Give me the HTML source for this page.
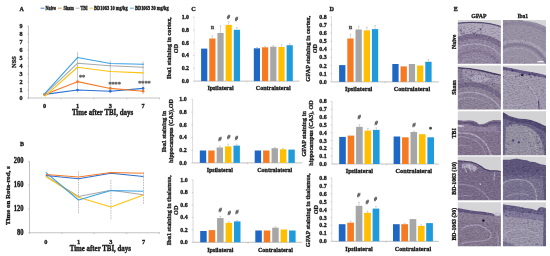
<!DOCTYPE html>
<html><head><meta charset="utf-8"><style>
html,body{margin:0;padding:0;background:#fff;width:550px;height:256px;overflow:hidden}
svg{display:block;filter:blur(0.3px)}
text{font-family:"Liberation Serif", serif;}
</style></head><body>
<svg width="550" height="256" viewBox="0 0 550 256">
<rect width="550" height="256" fill="#fff"/>
<text x="19.50" y="10.80" font-size="6" text-anchor="start" font-weight="bold" fill="#1a1a1a" stroke="#1a1a1a" stroke-width="0.32" transform="translate(0 -1.296) scale(1 1.12)">A</text>
<line x1="40.60" y1="8.20" x2="44.50" y2="8.20" stroke="#2a6fd0" stroke-width="0.9"/>
<text x="45.50" y="10.10" font-size="4.7" text-anchor="start" font-weight="bold" fill="#1a1a1a" stroke="#1a1a1a" stroke-width="0.32" transform="translate(0 -1.212) scale(1 1.12)" textLength="10.3" lengthAdjust="spacingAndGlyphs">Naive</text>
<line x1="57.80" y1="8.20" x2="61.70" y2="8.20" stroke="#f47a2a" stroke-width="0.9"/>
<text x="63.40" y="10.10" font-size="4.7" text-anchor="start" font-weight="bold" fill="#1a1a1a" stroke="#1a1a1a" stroke-width="0.32" transform="translate(0 -1.212) scale(1 1.12)" textLength="10.4" lengthAdjust="spacingAndGlyphs">Sham</text>
<line x1="75.60" y1="8.20" x2="79.50" y2="8.20" stroke="#a8a8a8" stroke-width="0.9"/>
<text x="80.40" y="10.10" font-size="4.7" text-anchor="start" font-weight="bold" fill="#1a1a1a" stroke="#1a1a1a" stroke-width="0.32" transform="translate(0 -1.212) scale(1 1.12)" textLength="7.1" lengthAdjust="spacingAndGlyphs">TBI</text>
<line x1="89.40" y1="8.20" x2="93.30" y2="8.20" stroke="#ffc20e" stroke-width="0.9"/>
<text x="94.10" y="10.10" font-size="4.7" text-anchor="start" font-weight="bold" fill="#1a1a1a" stroke="#1a1a1a" stroke-width="0.32" transform="translate(0 -1.212) scale(1 1.12)" textLength="33.6" lengthAdjust="spacingAndGlyphs">BD1063 10 mg/kg</text>
<line x1="130.00" y1="8.20" x2="133.90" y2="8.20" stroke="#3aa0e2" stroke-width="0.9"/>
<text x="134.90" y="10.10" font-size="4.7" text-anchor="start" font-weight="bold" fill="#1a1a1a" stroke="#1a1a1a" stroke-width="0.32" transform="translate(0 -1.212) scale(1 1.12)" textLength="33.9" lengthAdjust="spacingAndGlyphs">BD1063 30 mg/kg</text>
<line x1="28.50" y1="26.00" x2="28.50" y2="98.00" stroke="#9a9a9a" stroke-width="0.6"/>
<line x1="28.50" y1="98.00" x2="160.00" y2="98.00" stroke="#9a9a9a" stroke-width="0.6"/>
<text x="22.50" y="100.10" font-size="6.1" text-anchor="end" font-weight="bold" fill="#1a1a1a" stroke="#1a1a1a" stroke-width="0.32" transform="translate(0 -12.012) scale(1 1.12)">0</text>
<line x1="27.20" y1="98.00" x2="28.50" y2="98.00" stroke="#9a9a9a" stroke-width="0.5"/>
<text x="22.50" y="92.12" font-size="6.1" text-anchor="end" font-weight="bold" fill="#1a1a1a" stroke="#1a1a1a" stroke-width="0.32" transform="translate(0 -11.054) scale(1 1.12)">1</text>
<line x1="27.20" y1="90.02" x2="28.50" y2="90.02" stroke="#9a9a9a" stroke-width="0.5"/>
<text x="22.50" y="84.14" font-size="6.1" text-anchor="end" font-weight="bold" fill="#1a1a1a" stroke="#1a1a1a" stroke-width="0.32" transform="translate(0 -10.097) scale(1 1.12)">2</text>
<line x1="27.20" y1="82.04" x2="28.50" y2="82.04" stroke="#9a9a9a" stroke-width="0.5"/>
<text x="22.50" y="76.16" font-size="6.1" text-anchor="end" font-weight="bold" fill="#1a1a1a" stroke="#1a1a1a" stroke-width="0.32" transform="translate(0 -9.139) scale(1 1.12)">3</text>
<line x1="27.20" y1="74.06" x2="28.50" y2="74.06" stroke="#9a9a9a" stroke-width="0.5"/>
<text x="22.50" y="68.18" font-size="6.1" text-anchor="end" font-weight="bold" fill="#1a1a1a" stroke="#1a1a1a" stroke-width="0.32" transform="translate(0 -8.182) scale(1 1.12)">4</text>
<line x1="27.20" y1="66.08" x2="28.50" y2="66.08" stroke="#9a9a9a" stroke-width="0.5"/>
<text x="22.50" y="60.20" font-size="6.1" text-anchor="end" font-weight="bold" fill="#1a1a1a" stroke="#1a1a1a" stroke-width="0.32" transform="translate(0 -7.224) scale(1 1.12)">5</text>
<line x1="27.20" y1="58.10" x2="28.50" y2="58.10" stroke="#9a9a9a" stroke-width="0.5"/>
<text x="22.50" y="52.22" font-size="6.1" text-anchor="end" font-weight="bold" fill="#1a1a1a" stroke="#1a1a1a" stroke-width="0.32" transform="translate(0 -6.266) scale(1 1.12)">6</text>
<line x1="27.20" y1="50.12" x2="28.50" y2="50.12" stroke="#9a9a9a" stroke-width="0.5"/>
<text x="22.50" y="44.24" font-size="6.1" text-anchor="end" font-weight="bold" fill="#1a1a1a" stroke="#1a1a1a" stroke-width="0.32" transform="translate(0 -5.309) scale(1 1.12)">7</text>
<line x1="27.20" y1="42.14" x2="28.50" y2="42.14" stroke="#9a9a9a" stroke-width="0.5"/>
<text x="22.50" y="36.26" font-size="6.1" text-anchor="end" font-weight="bold" fill="#1a1a1a" stroke="#1a1a1a" stroke-width="0.32" transform="translate(0 -4.351) scale(1 1.12)">8</text>
<line x1="27.20" y1="34.16" x2="28.50" y2="34.16" stroke="#9a9a9a" stroke-width="0.5"/>
<text x="22.50" y="28.28" font-size="6.1" text-anchor="end" font-weight="bold" fill="#1a1a1a" stroke="#1a1a1a" stroke-width="0.32" transform="translate(0 -3.394) scale(1 1.12)">9</text>
<line x1="27.20" y1="26.18" x2="28.50" y2="26.18" stroke="#9a9a9a" stroke-width="0.5"/>
<text x="44.70" y="108.30" font-size="6.3" text-anchor="middle" font-weight="bold" fill="#1a1a1a" stroke="#1a1a1a" stroke-width="0.32" transform="translate(0 -12.996) scale(1 1.12)">0</text>
<text x="77.50" y="108.30" font-size="6.3" text-anchor="middle" font-weight="bold" fill="#1a1a1a" stroke="#1a1a1a" stroke-width="0.32" transform="translate(0 -12.996) scale(1 1.12)">1</text>
<text x="110.30" y="108.30" font-size="6.3" text-anchor="middle" font-weight="bold" fill="#1a1a1a" stroke="#1a1a1a" stroke-width="0.32" transform="translate(0 -12.996) scale(1 1.12)">3</text>
<text x="143.10" y="108.30" font-size="6.3" text-anchor="middle" font-weight="bold" fill="#1a1a1a" stroke="#1a1a1a" stroke-width="0.32" transform="translate(0 -12.996) scale(1 1.12)">7</text>
<line x1="28.50" y1="98.00" x2="28.50" y2="99.30" stroke="#9a9a9a" stroke-width="0.5"/>
<line x1="61.10" y1="98.00" x2="61.10" y2="99.30" stroke="#9a9a9a" stroke-width="0.5"/>
<line x1="93.90" y1="98.00" x2="93.90" y2="99.30" stroke="#9a9a9a" stroke-width="0.5"/>
<line x1="126.70" y1="98.00" x2="126.70" y2="99.30" stroke="#9a9a9a" stroke-width="0.5"/>
<line x1="159.50" y1="98.00" x2="159.50" y2="99.30" stroke="#9a9a9a" stroke-width="0.5"/>
<text x="102.50" y="115.40" font-size="6.9" text-anchor="middle" font-weight="bold" fill="#1a1a1a" stroke="#1a1a1a" stroke-width="0.32" transform="translate(0 -13.848) scale(1 1.12)">Time after TBI, days</text>
<text x="16.40" y="62.00" font-size="6.5" text-anchor="middle" font-weight="bold" fill="#1a1a1a" stroke="#1a1a1a" stroke-width="0.32" transform="rotate(-90 16.4 62.0)">NSS</text>
<line x1="77.50" y1="52.11" x2="77.50" y2="92.41" stroke="#a4a4a4" stroke-width="0.6"/>
<line x1="110.30" y1="60.49" x2="110.30" y2="93.21" stroke="#a4a4a4" stroke-width="0.6"/>
<line x1="143.10" y1="61.29" x2="143.10" y2="94.01" stroke="#a4a4a4" stroke-width="0.6"/>
<polyline points="44.70,94.41 77.50,90.02 110.30,91.22 143.10,88.42" fill="none" stroke="#2a6fd0" stroke-width="1.1" stroke-linejoin="round"/>
<circle cx="44.70" cy="94.41" r="1.35" fill="#2a6fd0"/>
<circle cx="77.50" cy="90.02" r="1.35" fill="#2a6fd0"/>
<circle cx="110.30" cy="91.22" r="1.35" fill="#2a6fd0"/>
<circle cx="143.10" cy="88.42" r="1.35" fill="#2a6fd0"/>
<polyline points="44.70,94.41 77.50,81.64 110.30,88.42 143.10,91.22" fill="none" stroke="#f47a2a" stroke-width="1.1" stroke-linejoin="round"/>
<circle cx="44.70" cy="94.41" r="1.35" fill="#f47a2a"/>
<circle cx="77.50" cy="81.64" r="1.35" fill="#f47a2a"/>
<circle cx="110.30" cy="88.42" r="1.35" fill="#f47a2a"/>
<circle cx="143.10" cy="91.22" r="1.35" fill="#f47a2a"/>
<polyline points="44.70,96.40 77.50,67.28 110.30,71.43 143.10,72.86" fill="none" stroke="#ffc20e" stroke-width="1.1" stroke-linejoin="round"/>
<circle cx="77.50" cy="67.28" r="0.7" fill="#ffc20e"/>
<circle cx="110.30" cy="71.43" r="0.7" fill="#ffc20e"/>
<circle cx="143.10" cy="72.86" r="0.7" fill="#ffc20e"/>
<polyline points="44.70,94.41 77.50,63.29 110.30,65.68 143.10,67.28" fill="none" stroke="#a8a8a8" stroke-width="1.1" stroke-linejoin="round"/>
<circle cx="77.50" cy="63.29" r="0.7" fill="#a8a8a8"/>
<circle cx="110.30" cy="65.68" r="0.7" fill="#a8a8a8"/>
<circle cx="143.10" cy="67.28" r="0.7" fill="#a8a8a8"/>
<polyline points="44.70,93.61 77.50,57.54 110.30,63.53 143.10,64.32" fill="none" stroke="#3aa0e2" stroke-width="1.1" stroke-linejoin="round"/>
<circle cx="77.50" cy="57.54" r="0.7" fill="#3aa0e2"/>
<circle cx="110.30" cy="63.53" r="0.7" fill="#3aa0e2"/>
<circle cx="143.10" cy="64.32" r="0.7" fill="#3aa0e2"/>
<text x="82.10" y="78.60" font-size="6.2" text-anchor="middle" font-weight="bold" fill="#666666" stroke="#666666" stroke-width="0.32" transform="translate(0 -9.432) scale(1 1.12)">**</text>
<text x="114.60" y="86.20" font-size="6.2" text-anchor="middle" font-weight="bold" fill="#666666" stroke="#666666" stroke-width="0.32" transform="translate(0 -10.344) scale(1 1.12)">****</text>
<text x="144.40" y="84.60" font-size="6.2" text-anchor="middle" font-weight="bold" fill="#666666" stroke="#666666" stroke-width="0.32" transform="translate(0 -10.152) scale(1 1.12)">****</text>
<text x="20.00" y="145.80" font-size="6" text-anchor="start" font-weight="bold" fill="#1a1a1a" stroke="#1a1a1a" stroke-width="0.32" transform="translate(0 -17.496) scale(1 1.12)">B</text>
<line x1="29.50" y1="161.25" x2="29.50" y2="232.75" stroke="#9a9a9a" stroke-width="0.6"/>
<line x1="29.50" y1="232.75" x2="160.00" y2="232.75" stroke="#9a9a9a" stroke-width="0.6"/>
<text x="23.50" y="163.35" font-size="6.5" text-anchor="end" font-weight="bold" fill="#1a1a1a" stroke="#1a1a1a" stroke-width="0.32" transform="translate(0 -19.602) scale(1 1.12)">200</text>
<line x1="28.20" y1="161.25" x2="29.50" y2="161.25" stroke="#9a9a9a" stroke-width="0.5"/>
<text x="23.50" y="187.18" font-size="6.5" text-anchor="end" font-weight="bold" fill="#1a1a1a" stroke="#1a1a1a" stroke-width="0.32" transform="translate(0 -22.462) scale(1 1.12)">160</text>
<line x1="28.20" y1="185.08" x2="29.50" y2="185.08" stroke="#9a9a9a" stroke-width="0.5"/>
<text x="23.50" y="211.02" font-size="6.5" text-anchor="end" font-weight="bold" fill="#1a1a1a" stroke="#1a1a1a" stroke-width="0.32" transform="translate(0 -25.322) scale(1 1.12)">120</text>
<line x1="28.20" y1="208.92" x2="29.50" y2="208.92" stroke="#9a9a9a" stroke-width="0.5"/>
<text x="23.50" y="234.85" font-size="6.5" text-anchor="end" font-weight="bold" fill="#1a1a1a" stroke="#1a1a1a" stroke-width="0.32" transform="translate(0 -28.182) scale(1 1.12)">80</text>
<line x1="28.20" y1="232.75" x2="29.50" y2="232.75" stroke="#9a9a9a" stroke-width="0.5"/>
<text x="45.80" y="243.70" font-size="6.3" text-anchor="middle" font-weight="bold" fill="#1a1a1a" stroke="#1a1a1a" stroke-width="0.32" transform="translate(0 -29.244) scale(1 1.12)">0</text>
<text x="78.50" y="243.70" font-size="6.3" text-anchor="middle" font-weight="bold" fill="#1a1a1a" stroke="#1a1a1a" stroke-width="0.32" transform="translate(0 -29.244) scale(1 1.12)">1</text>
<text x="110.90" y="243.70" font-size="6.3" text-anchor="middle" font-weight="bold" fill="#1a1a1a" stroke="#1a1a1a" stroke-width="0.32" transform="translate(0 -29.244) scale(1 1.12)">3</text>
<text x="143.50" y="243.70" font-size="6.3" text-anchor="middle" font-weight="bold" fill="#1a1a1a" stroke="#1a1a1a" stroke-width="0.32" transform="translate(0 -29.244) scale(1 1.12)">7</text>
<line x1="29.50" y1="232.75" x2="29.50" y2="234.05" stroke="#9a9a9a" stroke-width="0.5"/>
<line x1="61.80" y1="232.75" x2="61.80" y2="234.05" stroke="#9a9a9a" stroke-width="0.5"/>
<line x1="94.20" y1="232.75" x2="94.20" y2="234.05" stroke="#9a9a9a" stroke-width="0.5"/>
<line x1="126.70" y1="232.75" x2="126.70" y2="234.05" stroke="#9a9a9a" stroke-width="0.5"/>
<line x1="159.20" y1="232.75" x2="159.20" y2="234.05" stroke="#9a9a9a" stroke-width="0.5"/>
<text x="100.30" y="251.40" font-size="6.9" text-anchor="middle" font-weight="bold" fill="#1a1a1a" stroke="#1a1a1a" stroke-width="0.32" transform="translate(0 -30.168) scale(1 1.12)">Time after TBI, days</text>
<text x="10.20" y="195.60" font-size="6.9" text-anchor="middle" font-weight="bold" fill="#1a1a1a" stroke="#1a1a1a" stroke-width="0.32" transform="rotate(-90 10.2 195.6)">Time on Rota-rod, s</text>
<line x1="78.50" y1="171.70" x2="78.50" y2="213.50" stroke="#8c8c8c" stroke-width="0.55" stroke-dasharray="1.6,0.9"/>
<line x1="110.90" y1="179.90" x2="110.90" y2="220.30" stroke="#8c8c8c" stroke-width="0.55" stroke-dasharray="1.6,0.9"/>
<line x1="143.50" y1="172.00" x2="143.50" y2="204.70" stroke="#8c8c8c" stroke-width="0.55" stroke-dasharray="1.6,0.9"/>
<polyline points="45.80,175.90 78.50,196.50 110.90,190.30 143.50,194.80" fill="none" stroke="#a8a8a8" stroke-width="1.05" stroke-linejoin="round"/>
<polyline points="45.80,176.50 78.50,197.20 110.90,206.90 143.50,195.00" fill="none" stroke="#ffc20e" stroke-width="1.05" stroke-linejoin="round"/>
<polyline points="45.80,172.40 78.50,200.00 110.90,190.60 143.50,191.30" fill="none" stroke="#3aa0e2" stroke-width="1.05" stroke-linejoin="round"/>
<polyline points="45.80,175.40 78.50,178.70 110.90,173.20 143.50,176.40" fill="none" stroke="#2a6fd0" stroke-width="1.05" stroke-linejoin="round"/>
<polyline points="45.80,174.60 78.50,177.00 110.90,172.60 143.50,173.20" fill="none" stroke="#f47a2a" stroke-width="1.05" stroke-linejoin="round"/>
<text x="191.30" y="10.90" font-size="6.2" text-anchor="start" font-weight="bold" fill="#1a1a1a" stroke="#1a1a1a" stroke-width="0.32" transform="translate(0 -1.308) scale(1 1.12)">C</text>
<line x1="194.30" y1="17.10" x2="194.30" y2="81.10" stroke="#e2e2e2" stroke-width="0.55"/>
<line x1="194.30" y1="81.10" x2="299.50" y2="81.10" stroke="#a6a6a6" stroke-width="0.7"/>
<line x1="246.70" y1="81.10" x2="246.70" y2="82.40" stroke="#a6a6a6" stroke-width="0.5"/>
<text x="189.00" y="19.10" font-size="5.9" text-anchor="end" font-weight="bold" fill="#1a1a1a" stroke="#1a1a1a" stroke-width="0.32" transform="translate(0 -2.292) scale(1 1.12)">1.0</text>
<line x1="193.00" y1="17.10" x2="194.30" y2="17.10" stroke="#a6a6a6" stroke-width="0.5"/>
<text x="189.00" y="31.90" font-size="5.9" text-anchor="end" font-weight="bold" fill="#1a1a1a" stroke="#1a1a1a" stroke-width="0.32" transform="translate(0 -3.828) scale(1 1.12)">0.8</text>
<line x1="193.00" y1="29.90" x2="194.30" y2="29.90" stroke="#a6a6a6" stroke-width="0.5"/>
<text x="189.00" y="44.70" font-size="5.9" text-anchor="end" font-weight="bold" fill="#1a1a1a" stroke="#1a1a1a" stroke-width="0.32" transform="translate(0 -5.364) scale(1 1.12)">0.6</text>
<line x1="193.00" y1="42.70" x2="194.30" y2="42.70" stroke="#a6a6a6" stroke-width="0.5"/>
<text x="189.00" y="57.50" font-size="5.9" text-anchor="end" font-weight="bold" fill="#1a1a1a" stroke="#1a1a1a" stroke-width="0.32" transform="translate(0 -6.900) scale(1 1.12)">0.4</text>
<line x1="193.00" y1="55.50" x2="194.30" y2="55.50" stroke="#a6a6a6" stroke-width="0.5"/>
<text x="189.00" y="70.30" font-size="5.9" text-anchor="end" font-weight="bold" fill="#1a1a1a" stroke="#1a1a1a" stroke-width="0.32" transform="translate(0 -8.436) scale(1 1.12)">0.2</text>
<line x1="193.00" y1="68.30" x2="194.30" y2="68.30" stroke="#a6a6a6" stroke-width="0.5"/>
<text x="189.00" y="83.10" font-size="5.9" text-anchor="end" font-weight="bold" fill="#1a1a1a" stroke="#1a1a1a" stroke-width="0.32" transform="translate(0 -9.972) scale(1 1.12)">0.0</text>
<line x1="193.00" y1="81.10" x2="194.30" y2="81.10" stroke="#a6a6a6" stroke-width="0.5"/>
<rect x="201.10" y="48.60" width="6.20" height="32.50" fill="#1f67c4"/>
<rect x="209.27" y="38.50" width="6.20" height="42.60" fill="#f67a22"/>
<line x1="212.37" y1="36.00" x2="212.37" y2="38.50" stroke="#b0b0b0" stroke-width="0.5"/>
<line x1="211.47" y1="36.00" x2="213.27" y2="36.00" stroke="#b0b0b0" stroke-width="0.5"/>
<rect x="217.44" y="33.00" width="6.20" height="48.10" fill="#a6a6a6"/>
<line x1="220.54" y1="25.80" x2="220.54" y2="33.00" stroke="#b0b0b0" stroke-width="0.5"/>
<line x1="219.64" y1="25.80" x2="221.44" y2="25.80" stroke="#b0b0b0" stroke-width="0.5"/>
<rect x="225.61" y="24.90" width="6.20" height="56.20" fill="#ffbf00"/>
<line x1="228.71" y1="21.50" x2="228.71" y2="24.90" stroke="#b0b0b0" stroke-width="0.5"/>
<line x1="227.81" y1="21.50" x2="229.61" y2="21.50" stroke="#b0b0b0" stroke-width="0.5"/>
<rect x="233.78" y="29.80" width="6.20" height="51.30" fill="#1f9bdc"/>
<line x1="236.88" y1="27.50" x2="236.88" y2="29.80" stroke="#b0b0b0" stroke-width="0.5"/>
<line x1="235.98" y1="27.50" x2="237.78" y2="27.50" stroke="#b0b0b0" stroke-width="0.5"/>
<rect x="253.80" y="48.30" width="6.20" height="32.80" fill="#1f67c4"/>
<line x1="256.90" y1="47.60" x2="256.90" y2="48.30" stroke="#b0b0b0" stroke-width="0.5"/>
<line x1="256.00" y1="47.60" x2="257.80" y2="47.60" stroke="#b0b0b0" stroke-width="0.5"/>
<rect x="262.00" y="47.30" width="6.20" height="33.80" fill="#f67a22"/>
<line x1="265.10" y1="46.60" x2="265.10" y2="47.30" stroke="#b0b0b0" stroke-width="0.5"/>
<line x1="264.20" y1="46.60" x2="266.00" y2="46.60" stroke="#b0b0b0" stroke-width="0.5"/>
<rect x="270.20" y="46.70" width="6.20" height="34.40" fill="#a6a6a6"/>
<line x1="273.30" y1="45.60" x2="273.30" y2="46.70" stroke="#b0b0b0" stroke-width="0.5"/>
<line x1="272.40" y1="45.60" x2="274.20" y2="45.60" stroke="#b0b0b0" stroke-width="0.5"/>
<rect x="278.40" y="47.00" width="6.20" height="34.10" fill="#ffbf00"/>
<line x1="281.50" y1="44.70" x2="281.50" y2="47.00" stroke="#b0b0b0" stroke-width="0.5"/>
<line x1="280.60" y1="44.70" x2="282.40" y2="44.70" stroke="#b0b0b0" stroke-width="0.5"/>
<rect x="286.60" y="45.20" width="6.20" height="35.90" fill="#1f9bdc"/>
<line x1="289.70" y1="43.80" x2="289.70" y2="45.20" stroke="#b0b0b0" stroke-width="0.5"/>
<line x1="288.80" y1="43.80" x2="290.60" y2="43.80" stroke="#b0b0b0" stroke-width="0.5"/>
<text x="212.50" y="29.50" font-size="6.2" text-anchor="middle" font-weight="bold" fill="#4a4a4a" stroke="#4a4a4a" stroke-width="0.32" transform="translate(0 -3.540) scale(1 1.12)">n</text>
<text x="228.40" y="18.65" font-size="5.9" text-anchor="middle" font-weight="bold" fill="#5c5c5c" stroke="#5c5c5c" stroke-width="0.32" transform="translate(0 -2.238) scale(1 1.12)" font-style="italic">#</text>
<text x="236.55" y="21.35" font-size="5.9" text-anchor="middle" font-weight="bold" fill="#5c5c5c" stroke="#5c5c5c" stroke-width="0.32" transform="translate(0 -2.562) scale(1 1.12)" font-style="italic">#</text>
<text x="220.54" y="90.20" font-size="6.0" text-anchor="middle" font-weight="bold" fill="#1a1a1a" stroke="#1a1a1a" stroke-width="0.32" transform="translate(0 -10.824) scale(1 1.12)">Ipsilateral</text>
<text x="273.30" y="90.20" font-size="6.0" text-anchor="middle" font-weight="bold" fill="#1a1a1a" stroke="#1a1a1a" stroke-width="0.32" transform="translate(0 -10.824) scale(1 1.12)">Contralateral</text>
<text x="170.80" y="48.10" font-size="6.3" text-anchor="middle" font-weight="bold" fill="#1a1a1a" stroke="#1a1a1a" stroke-width="0.32" transform="rotate(-90 170.8 48.1)">Iba1 staining in cortex,</text>
<text x="177.90" y="48.60" font-size="6.3" text-anchor="middle" font-weight="bold" fill="#1a1a1a" stroke="#1a1a1a" stroke-width="0.32" transform="rotate(-90 177.9 48.6)">OD</text>
<line x1="192.60" y1="99.40" x2="192.60" y2="162.90" stroke="#bdbdbd" stroke-width="0.55"/>
<line x1="192.60" y1="162.90" x2="302.20" y2="162.90" stroke="#a6a6a6" stroke-width="0.7"/>
<line x1="247.50" y1="162.90" x2="247.50" y2="164.20" stroke="#a6a6a6" stroke-width="0.5"/>
<text x="186.60" y="101.40" font-size="5.9" text-anchor="end" font-weight="bold" fill="#1a1a1a" stroke="#1a1a1a" stroke-width="0.32" transform="translate(0 -12.168) scale(1 1.12)">1.0</text>
<line x1="191.30" y1="99.40" x2="192.60" y2="99.40" stroke="#a6a6a6" stroke-width="0.5"/>
<text x="186.60" y="114.10" font-size="5.9" text-anchor="end" font-weight="bold" fill="#1a1a1a" stroke="#1a1a1a" stroke-width="0.32" transform="translate(0 -13.692) scale(1 1.12)">0.8</text>
<line x1="191.30" y1="112.10" x2="192.60" y2="112.10" stroke="#a6a6a6" stroke-width="0.5"/>
<text x="186.60" y="126.80" font-size="5.9" text-anchor="end" font-weight="bold" fill="#1a1a1a" stroke="#1a1a1a" stroke-width="0.32" transform="translate(0 -15.216) scale(1 1.12)">0.6</text>
<line x1="191.30" y1="124.80" x2="192.60" y2="124.80" stroke="#a6a6a6" stroke-width="0.5"/>
<text x="186.60" y="139.50" font-size="5.9" text-anchor="end" font-weight="bold" fill="#1a1a1a" stroke="#1a1a1a" stroke-width="0.32" transform="translate(0 -16.740) scale(1 1.12)">0.4</text>
<line x1="191.30" y1="137.50" x2="192.60" y2="137.50" stroke="#a6a6a6" stroke-width="0.5"/>
<text x="186.60" y="152.20" font-size="5.9" text-anchor="end" font-weight="bold" fill="#1a1a1a" stroke="#1a1a1a" stroke-width="0.32" transform="translate(0 -18.264) scale(1 1.12)">0.2</text>
<line x1="191.30" y1="150.20" x2="192.60" y2="150.20" stroke="#a6a6a6" stroke-width="0.5"/>
<text x="186.60" y="164.90" font-size="5.9" text-anchor="end" font-weight="bold" fill="#1a1a1a" stroke="#1a1a1a" stroke-width="0.32" transform="translate(0 -19.788) scale(1 1.12)">0.0</text>
<line x1="191.30" y1="162.90" x2="192.60" y2="162.90" stroke="#a6a6a6" stroke-width="0.5"/>
<rect x="199.80" y="150.50" width="6.40" height="12.40" fill="#1f67c4"/>
<rect x="208.22" y="150.50" width="6.40" height="12.40" fill="#f67a22"/>
<rect x="216.64" y="147.50" width="6.40" height="15.40" fill="#a6a6a6"/>
<line x1="219.84" y1="146.00" x2="219.84" y2="147.50" stroke="#b0b0b0" stroke-width="0.5"/>
<line x1="218.94" y1="146.00" x2="220.74" y2="146.00" stroke="#b0b0b0" stroke-width="0.5"/>
<rect x="225.06" y="146.40" width="6.40" height="16.50" fill="#ffbf00"/>
<line x1="228.26" y1="144.20" x2="228.26" y2="146.40" stroke="#b0b0b0" stroke-width="0.5"/>
<line x1="227.36" y1="144.20" x2="229.16" y2="144.20" stroke="#b0b0b0" stroke-width="0.5"/>
<rect x="233.48" y="145.60" width="6.40" height="17.30" fill="#1f9bdc"/>
<line x1="236.68" y1="144.20" x2="236.68" y2="145.60" stroke="#b0b0b0" stroke-width="0.5"/>
<line x1="235.78" y1="144.20" x2="237.58" y2="144.20" stroke="#b0b0b0" stroke-width="0.5"/>
<rect x="254.70" y="150.50" width="6.40" height="12.40" fill="#1f67c4"/>
<rect x="263.12" y="150.50" width="6.40" height="12.40" fill="#f67a22"/>
<rect x="271.54" y="148.20" width="6.40" height="14.70" fill="#a6a6a6"/>
<line x1="274.74" y1="147.40" x2="274.74" y2="148.20" stroke="#b0b0b0" stroke-width="0.5"/>
<line x1="273.84" y1="147.40" x2="275.64" y2="147.40" stroke="#b0b0b0" stroke-width="0.5"/>
<rect x="279.96" y="149.30" width="6.40" height="13.60" fill="#ffbf00"/>
<line x1="283.16" y1="148.50" x2="283.16" y2="149.30" stroke="#b0b0b0" stroke-width="0.5"/>
<line x1="282.26" y1="148.50" x2="284.06" y2="148.50" stroke="#b0b0b0" stroke-width="0.5"/>
<rect x="288.38" y="149.60" width="6.40" height="13.30" fill="#1f9bdc"/>
<text x="220.10" y="141.35" font-size="5.9" text-anchor="middle" font-weight="bold" fill="#5c5c5c" stroke="#5c5c5c" stroke-width="0.32" transform="translate(0 -16.962) scale(1 1.12)" font-style="italic">#</text>
<text x="228.65" y="138.75" font-size="5.9" text-anchor="middle" font-weight="bold" fill="#5c5c5c" stroke="#5c5c5c" stroke-width="0.32" transform="translate(0 -16.650) scale(1 1.12)" font-style="italic">#</text>
<text x="236.45" y="139.80" font-size="5.9" text-anchor="middle" font-weight="bold" fill="#5c5c5c" stroke="#5c5c5c" stroke-width="0.32" transform="translate(0 -16.776) scale(1 1.12)" font-style="italic">#</text>
<text x="219.84" y="172.00" font-size="6.0" text-anchor="middle" font-weight="bold" fill="#1a1a1a" stroke="#1a1a1a" stroke-width="0.32" transform="translate(0 -20.640) scale(1 1.12)">Ipsilateral</text>
<text x="274.74" y="172.00" font-size="6.0" text-anchor="middle" font-weight="bold" fill="#1a1a1a" stroke="#1a1a1a" stroke-width="0.32" transform="translate(0 -20.640) scale(1 1.12)">Contralateral</text>
<text x="166.00" y="131.50" font-size="6.2" text-anchor="middle" font-weight="bold" fill="#1a1a1a" stroke="#1a1a1a" stroke-width="0.32" transform="rotate(-90 166.0 131.5)">Iba1 staining in</text>
<text x="173.30" y="131.00" font-size="6.2" text-anchor="middle" font-weight="bold" fill="#1a1a1a" stroke="#1a1a1a" stroke-width="0.32" transform="rotate(-90 173.3 131.0)">hippocampus (CA3),OD</text>
<line x1="193.00" y1="180.00" x2="193.00" y2="242.30" stroke="#bdbdbd" stroke-width="0.55"/>
<line x1="193.00" y1="242.30" x2="302.20" y2="242.30" stroke="#a6a6a6" stroke-width="0.7"/>
<line x1="248.00" y1="242.30" x2="248.00" y2="243.60" stroke="#a6a6a6" stroke-width="0.5"/>
<text x="187.70" y="182.00" font-size="5.9" text-anchor="end" font-weight="bold" fill="#1a1a1a" stroke="#1a1a1a" stroke-width="0.32" transform="translate(0 -21.840) scale(1 1.12)">1.0</text>
<line x1="191.70" y1="180.00" x2="193.00" y2="180.00" stroke="#a6a6a6" stroke-width="0.5"/>
<text x="187.70" y="194.46" font-size="5.9" text-anchor="end" font-weight="bold" fill="#1a1a1a" stroke="#1a1a1a" stroke-width="0.32" transform="translate(0 -23.335) scale(1 1.12)">0.8</text>
<line x1="191.70" y1="192.46" x2="193.00" y2="192.46" stroke="#a6a6a6" stroke-width="0.5"/>
<text x="187.70" y="206.92" font-size="5.9" text-anchor="end" font-weight="bold" fill="#1a1a1a" stroke="#1a1a1a" stroke-width="0.32" transform="translate(0 -24.830) scale(1 1.12)">0.6</text>
<line x1="191.70" y1="204.92" x2="193.00" y2="204.92" stroke="#a6a6a6" stroke-width="0.5"/>
<text x="187.70" y="219.38" font-size="5.9" text-anchor="end" font-weight="bold" fill="#1a1a1a" stroke="#1a1a1a" stroke-width="0.32" transform="translate(0 -26.326) scale(1 1.12)">0.4</text>
<line x1="191.70" y1="217.38" x2="193.00" y2="217.38" stroke="#a6a6a6" stroke-width="0.5"/>
<text x="187.70" y="231.84" font-size="5.9" text-anchor="end" font-weight="bold" fill="#1a1a1a" stroke="#1a1a1a" stroke-width="0.32" transform="translate(0 -27.821) scale(1 1.12)">0.2</text>
<line x1="191.70" y1="229.84" x2="193.00" y2="229.84" stroke="#a6a6a6" stroke-width="0.5"/>
<text x="187.70" y="244.30" font-size="5.9" text-anchor="end" font-weight="bold" fill="#1a1a1a" stroke="#1a1a1a" stroke-width="0.32" transform="translate(0 -29.316) scale(1 1.12)">0.0</text>
<line x1="191.70" y1="242.30" x2="193.00" y2="242.30" stroke="#a6a6a6" stroke-width="0.5"/>
<rect x="200.20" y="231.00" width="6.50" height="11.30" fill="#1f67c4"/>
<rect x="208.65" y="230.10" width="6.50" height="12.20" fill="#f67a22"/>
<rect x="217.10" y="218.10" width="6.50" height="24.20" fill="#a6a6a6"/>
<line x1="220.35" y1="216.30" x2="220.35" y2="218.10" stroke="#b0b0b0" stroke-width="0.5"/>
<line x1="219.45" y1="216.30" x2="221.25" y2="216.30" stroke="#b0b0b0" stroke-width="0.5"/>
<rect x="225.55" y="222.80" width="6.50" height="19.50" fill="#ffbf00"/>
<line x1="228.80" y1="221.60" x2="228.80" y2="222.80" stroke="#b0b0b0" stroke-width="0.5"/>
<line x1="227.90" y1="221.60" x2="229.70" y2="221.60" stroke="#b0b0b0" stroke-width="0.5"/>
<rect x="234.00" y="221.40" width="6.50" height="20.90" fill="#1f9bdc"/>
<line x1="237.25" y1="220.50" x2="237.25" y2="221.40" stroke="#b0b0b0" stroke-width="0.5"/>
<line x1="236.35" y1="220.50" x2="238.15" y2="220.50" stroke="#b0b0b0" stroke-width="0.5"/>
<rect x="255.30" y="230.50" width="6.50" height="11.80" fill="#1f67c4"/>
<rect x="263.75" y="230.50" width="6.50" height="11.80" fill="#f67a22"/>
<rect x="272.20" y="227.70" width="6.50" height="14.60" fill="#a6a6a6"/>
<line x1="275.45" y1="226.80" x2="275.45" y2="227.70" stroke="#b0b0b0" stroke-width="0.5"/>
<line x1="274.55" y1="226.80" x2="276.35" y2="226.80" stroke="#b0b0b0" stroke-width="0.5"/>
<rect x="280.65" y="229.50" width="6.50" height="12.80" fill="#ffbf00"/>
<rect x="289.10" y="230.50" width="6.50" height="11.80" fill="#1f9bdc"/>
<text x="220.25" y="211.55" font-size="5.9" text-anchor="middle" font-weight="bold" fill="#5c5c5c" stroke="#5c5c5c" stroke-width="0.32" transform="translate(0 -25.386) scale(1 1.12)" font-style="italic">#</text>
<text x="229.20" y="214.55" font-size="5.9" text-anchor="middle" font-weight="bold" fill="#5c5c5c" stroke="#5c5c5c" stroke-width="0.32" transform="translate(0 -25.746) scale(1 1.12)" font-style="italic">#</text>
<text x="237.10" y="213.90" font-size="5.9" text-anchor="middle" font-weight="bold" fill="#5c5c5c" stroke="#5c5c5c" stroke-width="0.32" transform="translate(0 -25.668) scale(1 1.12)" font-style="italic">#</text>
<text x="220.35" y="251.60" font-size="6.0" text-anchor="middle" font-weight="bold" fill="#1a1a1a" stroke="#1a1a1a" stroke-width="0.32" transform="translate(0 -30.192) scale(1 1.12)">Ipsilateral</text>
<text x="275.45" y="251.60" font-size="6.0" text-anchor="middle" font-weight="bold" fill="#1a1a1a" stroke="#1a1a1a" stroke-width="0.32" transform="translate(0 -30.192) scale(1 1.12)">Contralateral</text>
<text x="171.10" y="210.20" font-size="6.3" text-anchor="middle" font-weight="bold" fill="#1a1a1a" stroke="#1a1a1a" stroke-width="0.32" transform="rotate(-90 171.1 210.2)">Iba1 staining in thalamus,</text>
<text x="178.30" y="210.20" font-size="6.3" text-anchor="middle" font-weight="bold" fill="#1a1a1a" stroke="#1a1a1a" stroke-width="0.32" transform="rotate(-90 178.3 210.2)">OD</text>
<text x="329.40" y="10.90" font-size="6.2" text-anchor="start" font-weight="bold" fill="#1a1a1a" stroke="#1a1a1a" stroke-width="0.32" transform="translate(0 -1.308) scale(1 1.12)">D</text>
<line x1="331.60" y1="16.80" x2="331.60" y2="81.90" stroke="#bdbdbd" stroke-width="0.55"/>
<line x1="331.60" y1="81.90" x2="438.80" y2="81.90" stroke="#a6a6a6" stroke-width="0.7"/>
<line x1="385.00" y1="81.90" x2="385.00" y2="83.20" stroke="#a6a6a6" stroke-width="0.5"/>
<text x="326.60" y="18.80" font-size="5.9" text-anchor="end" font-weight="bold" fill="#1a1a1a" stroke="#1a1a1a" stroke-width="0.32" transform="translate(0 -2.256) scale(1 1.12)">0.8</text>
<line x1="330.30" y1="16.80" x2="331.60" y2="16.80" stroke="#a6a6a6" stroke-width="0.5"/>
<text x="326.60" y="26.94" font-size="5.9" text-anchor="end" font-weight="bold" fill="#1a1a1a" stroke="#1a1a1a" stroke-width="0.32" transform="translate(0 -3.233) scale(1 1.12)">0.7</text>
<line x1="330.30" y1="24.94" x2="331.60" y2="24.94" stroke="#a6a6a6" stroke-width="0.5"/>
<text x="326.60" y="35.08" font-size="5.9" text-anchor="end" font-weight="bold" fill="#1a1a1a" stroke="#1a1a1a" stroke-width="0.32" transform="translate(0 -4.209) scale(1 1.12)">0.6</text>
<line x1="330.30" y1="33.08" x2="331.60" y2="33.08" stroke="#a6a6a6" stroke-width="0.5"/>
<text x="326.60" y="43.21" font-size="5.9" text-anchor="end" font-weight="bold" fill="#1a1a1a" stroke="#1a1a1a" stroke-width="0.32" transform="translate(0 -5.186) scale(1 1.12)">0.5</text>
<line x1="330.30" y1="41.21" x2="331.60" y2="41.21" stroke="#a6a6a6" stroke-width="0.5"/>
<text x="326.60" y="51.35" font-size="5.9" text-anchor="end" font-weight="bold" fill="#1a1a1a" stroke="#1a1a1a" stroke-width="0.32" transform="translate(0 -6.162) scale(1 1.12)">0.4</text>
<line x1="330.30" y1="49.35" x2="331.60" y2="49.35" stroke="#a6a6a6" stroke-width="0.5"/>
<text x="326.60" y="59.49" font-size="5.9" text-anchor="end" font-weight="bold" fill="#1a1a1a" stroke="#1a1a1a" stroke-width="0.32" transform="translate(0 -7.139) scale(1 1.12)">0.3</text>
<line x1="330.30" y1="57.49" x2="331.60" y2="57.49" stroke="#a6a6a6" stroke-width="0.5"/>
<text x="326.60" y="67.62" font-size="5.9" text-anchor="end" font-weight="bold" fill="#1a1a1a" stroke="#1a1a1a" stroke-width="0.32" transform="translate(0 -8.115) scale(1 1.12)">0.2</text>
<line x1="330.30" y1="65.62" x2="331.60" y2="65.62" stroke="#a6a6a6" stroke-width="0.5"/>
<text x="326.60" y="75.76" font-size="5.9" text-anchor="end" font-weight="bold" fill="#1a1a1a" stroke="#1a1a1a" stroke-width="0.32" transform="translate(0 -9.092) scale(1 1.12)">0.1</text>
<line x1="330.30" y1="73.76" x2="331.60" y2="73.76" stroke="#a6a6a6" stroke-width="0.5"/>
<text x="326.60" y="83.90" font-size="5.9" text-anchor="end" font-weight="bold" fill="#1a1a1a" stroke="#1a1a1a" stroke-width="0.32" transform="translate(0 -10.068) scale(1 1.12)">0.0</text>
<line x1="330.30" y1="81.90" x2="331.60" y2="81.90" stroke="#a6a6a6" stroke-width="0.5"/>
<rect x="339.10" y="65.10" width="6.30" height="16.80" fill="#1f67c4"/>
<rect x="347.30" y="38.50" width="6.30" height="43.40" fill="#f67a22"/>
<line x1="350.45" y1="34.20" x2="350.45" y2="38.50" stroke="#b0b0b0" stroke-width="0.5"/>
<line x1="349.55" y1="34.20" x2="351.35" y2="34.20" stroke="#b0b0b0" stroke-width="0.5"/>
<rect x="355.50" y="29.50" width="6.30" height="52.40" fill="#a6a6a6"/>
<line x1="358.65" y1="26.40" x2="358.65" y2="29.50" stroke="#b0b0b0" stroke-width="0.5"/>
<line x1="357.75" y1="26.40" x2="359.55" y2="26.40" stroke="#b0b0b0" stroke-width="0.5"/>
<rect x="363.70" y="30.40" width="6.30" height="51.50" fill="#ffbf00"/>
<line x1="366.85" y1="27.30" x2="366.85" y2="30.40" stroke="#b0b0b0" stroke-width="0.5"/>
<line x1="365.95" y1="27.30" x2="367.75" y2="27.30" stroke="#b0b0b0" stroke-width="0.5"/>
<rect x="371.90" y="29.10" width="6.30" height="52.80" fill="#1f9bdc"/>
<line x1="375.05" y1="25.50" x2="375.05" y2="29.10" stroke="#b0b0b0" stroke-width="0.5"/>
<line x1="374.15" y1="25.50" x2="375.95" y2="25.50" stroke="#b0b0b0" stroke-width="0.5"/>
<rect x="392.30" y="64.00" width="6.30" height="17.90" fill="#1f67c4"/>
<rect x="400.55" y="66.40" width="6.30" height="15.50" fill="#f67a22"/>
<rect x="408.80" y="64.00" width="6.30" height="17.90" fill="#a6a6a6"/>
<rect x="417.05" y="65.50" width="6.30" height="16.40" fill="#ffbf00"/>
<rect x="425.30" y="61.80" width="6.30" height="20.10" fill="#1f9bdc"/>
<line x1="428.45" y1="59.50" x2="428.45" y2="61.80" stroke="#b0b0b0" stroke-width="0.5"/>
<line x1="427.55" y1="59.50" x2="429.35" y2="59.50" stroke="#b0b0b0" stroke-width="0.5"/>
<text x="350.45" y="29.50" font-size="6.2" text-anchor="middle" font-weight="bold" fill="#4a4a4a" stroke="#4a4a4a" stroke-width="0.32" transform="translate(0 -3.540) scale(1 1.12)">n</text>
<text x="358.65" y="91.50" font-size="6.25" text-anchor="middle" font-weight="bold" fill="#1a1a1a" stroke="#1a1a1a" stroke-width="0.32" transform="translate(0 -10.980) scale(1 1.12)">Ipsilateral</text>
<text x="411.95" y="91.50" font-size="6.25" text-anchor="middle" font-weight="bold" fill="#1a1a1a" stroke="#1a1a1a" stroke-width="0.32" transform="translate(0 -10.980) scale(1 1.12)">Contralateral</text>
<text x="310.00" y="48.65" font-size="6.3" text-anchor="middle" font-weight="bold" fill="#1a1a1a" stroke="#1a1a1a" stroke-width="0.32" transform="rotate(-90 310.0 48.65)">GFAP staining in cortex,</text>
<text x="317.20" y="48.60" font-size="6.2" text-anchor="middle" font-weight="bold" fill="#1a1a1a" stroke="#1a1a1a" stroke-width="0.32" transform="rotate(-90 317.2 48.6)">OD</text>
<line x1="332.10" y1="101.50" x2="332.10" y2="164.00" stroke="#bdbdbd" stroke-width="0.55"/>
<line x1="332.10" y1="164.00" x2="438.80" y2="164.00" stroke="#a6a6a6" stroke-width="0.7"/>
<line x1="386.50" y1="164.00" x2="386.50" y2="165.30" stroke="#a6a6a6" stroke-width="0.5"/>
<text x="326.60" y="103.50" font-size="5.9" text-anchor="end" font-weight="bold" fill="#1a1a1a" stroke="#1a1a1a" stroke-width="0.32" transform="translate(0 -12.420) scale(1 1.12)">0.8</text>
<line x1="330.80" y1="101.50" x2="332.10" y2="101.50" stroke="#a6a6a6" stroke-width="0.5"/>
<text x="326.60" y="111.31" font-size="5.9" text-anchor="end" font-weight="bold" fill="#1a1a1a" stroke="#1a1a1a" stroke-width="0.32" transform="translate(0 -13.358) scale(1 1.12)">0.7</text>
<line x1="330.80" y1="109.31" x2="332.10" y2="109.31" stroke="#a6a6a6" stroke-width="0.5"/>
<text x="326.60" y="119.12" font-size="5.9" text-anchor="end" font-weight="bold" fill="#1a1a1a" stroke="#1a1a1a" stroke-width="0.32" transform="translate(0 -14.295) scale(1 1.12)">0.6</text>
<line x1="330.80" y1="117.12" x2="332.10" y2="117.12" stroke="#a6a6a6" stroke-width="0.5"/>
<text x="326.60" y="126.94" font-size="5.9" text-anchor="end" font-weight="bold" fill="#1a1a1a" stroke="#1a1a1a" stroke-width="0.32" transform="translate(0 -15.233) scale(1 1.12)">0.5</text>
<line x1="330.80" y1="124.94" x2="332.10" y2="124.94" stroke="#a6a6a6" stroke-width="0.5"/>
<text x="326.60" y="134.75" font-size="5.9" text-anchor="end" font-weight="bold" fill="#1a1a1a" stroke="#1a1a1a" stroke-width="0.32" transform="translate(0 -16.170) scale(1 1.12)">0.4</text>
<line x1="330.80" y1="132.75" x2="332.10" y2="132.75" stroke="#a6a6a6" stroke-width="0.5"/>
<text x="326.60" y="142.56" font-size="5.9" text-anchor="end" font-weight="bold" fill="#1a1a1a" stroke="#1a1a1a" stroke-width="0.32" transform="translate(0 -17.108) scale(1 1.12)">0.3</text>
<line x1="330.80" y1="140.56" x2="332.10" y2="140.56" stroke="#a6a6a6" stroke-width="0.5"/>
<text x="326.60" y="150.38" font-size="5.9" text-anchor="end" font-weight="bold" fill="#1a1a1a" stroke="#1a1a1a" stroke-width="0.32" transform="translate(0 -18.045) scale(1 1.12)">0.2</text>
<line x1="330.80" y1="148.38" x2="332.10" y2="148.38" stroke="#a6a6a6" stroke-width="0.5"/>
<text x="326.60" y="158.19" font-size="5.9" text-anchor="end" font-weight="bold" fill="#1a1a1a" stroke="#1a1a1a" stroke-width="0.32" transform="translate(0 -18.983) scale(1 1.12)">0.1</text>
<line x1="330.80" y1="156.19" x2="332.10" y2="156.19" stroke="#a6a6a6" stroke-width="0.5"/>
<text x="326.60" y="166.00" font-size="5.9" text-anchor="end" font-weight="bold" fill="#1a1a1a" stroke="#1a1a1a" stroke-width="0.32" transform="translate(0 -19.920) scale(1 1.12)">0.0</text>
<line x1="330.80" y1="164.00" x2="332.10" y2="164.00" stroke="#a6a6a6" stroke-width="0.5"/>
<rect x="339.20" y="136.90" width="6.60" height="27.10" fill="#1f67c4"/>
<rect x="347.65" y="135.60" width="6.60" height="28.40" fill="#f67a22"/>
<rect x="356.10" y="126.80" width="6.60" height="37.20" fill="#a6a6a6"/>
<line x1="359.40" y1="124.70" x2="359.40" y2="126.80" stroke="#b0b0b0" stroke-width="0.5"/>
<line x1="358.50" y1="124.70" x2="360.30" y2="124.70" stroke="#b0b0b0" stroke-width="0.5"/>
<rect x="364.55" y="130.60" width="6.60" height="33.40" fill="#ffbf00"/>
<line x1="367.85" y1="128.50" x2="367.85" y2="130.60" stroke="#b0b0b0" stroke-width="0.5"/>
<line x1="366.95" y1="128.50" x2="368.75" y2="128.50" stroke="#b0b0b0" stroke-width="0.5"/>
<rect x="373.00" y="129.90" width="6.60" height="34.10" fill="#1f9bdc"/>
<line x1="376.30" y1="127.80" x2="376.30" y2="129.90" stroke="#b0b0b0" stroke-width="0.5"/>
<line x1="375.40" y1="127.80" x2="377.20" y2="127.80" stroke="#b0b0b0" stroke-width="0.5"/>
<rect x="393.60" y="136.50" width="6.60" height="27.50" fill="#1f67c4"/>
<rect x="402.05" y="137.30" width="6.60" height="26.70" fill="#f67a22"/>
<rect x="410.50" y="132.00" width="6.60" height="32.00" fill="#a6a6a6"/>
<line x1="413.80" y1="131.20" x2="413.80" y2="132.00" stroke="#b0b0b0" stroke-width="0.5"/>
<line x1="412.90" y1="131.20" x2="414.70" y2="131.20" stroke="#b0b0b0" stroke-width="0.5"/>
<rect x="418.95" y="134.20" width="6.60" height="29.80" fill="#ffbf00"/>
<rect x="427.40" y="137.30" width="6.60" height="26.70" fill="#1f9bdc"/>
<text x="359.25" y="119.30" font-size="5.9" text-anchor="middle" font-weight="bold" fill="#5c5c5c" stroke="#5c5c5c" stroke-width="0.32" transform="translate(0 -14.316) scale(1 1.12)" font-style="italic">#</text>
<text x="376.15" y="125.00" font-size="5.9" text-anchor="middle" font-weight="bold" fill="#5c5c5c" stroke="#5c5c5c" stroke-width="0.32" transform="translate(0 -15.000) scale(1 1.12)" font-style="italic">#</text>
<text x="414.10" y="127.10" font-size="5.9" text-anchor="middle" font-weight="bold" fill="#5c5c5c" stroke="#5c5c5c" stroke-width="0.32" transform="translate(0 -15.252) scale(1 1.12)" font-style="italic">#</text>
<text x="430.55" y="130.65" font-size="6.2" text-anchor="middle" font-weight="bold" fill="#4a4a4a" stroke="#4a4a4a" stroke-width="0.32" transform="translate(0 -15.678) scale(1 1.12)">*</text>
<text x="359.40" y="173.30" font-size="6.25" text-anchor="middle" font-weight="bold" fill="#1a1a1a" stroke="#1a1a1a" stroke-width="0.32" transform="translate(0 -20.796) scale(1 1.12)">Ipsilateral</text>
<text x="413.80" y="173.30" font-size="6.25" text-anchor="middle" font-weight="bold" fill="#1a1a1a" stroke="#1a1a1a" stroke-width="0.32" transform="translate(0 -20.796) scale(1 1.12)">Contralateral</text>
<text x="306.00" y="133.80" font-size="6.2" text-anchor="middle" font-weight="bold" fill="#1a1a1a" stroke="#1a1a1a" stroke-width="0.32" transform="rotate(-90 306.0 133.8)">GFAP staining in</text>
<text x="313.40" y="133.00" font-size="6.2" text-anchor="middle" font-weight="bold" fill="#1a1a1a" stroke="#1a1a1a" stroke-width="0.32" transform="rotate(-90 313.4 133.0)">hippocampus (CA3), OD</text>
<line x1="331.80" y1="178.00" x2="331.80" y2="241.30" stroke="#bdbdbd" stroke-width="0.55"/>
<line x1="331.80" y1="241.30" x2="438.80" y2="241.30" stroke="#a6a6a6" stroke-width="0.7"/>
<line x1="386.00" y1="241.30" x2="386.00" y2="242.60" stroke="#a6a6a6" stroke-width="0.5"/>
<text x="326.60" y="180.00" font-size="5.9" text-anchor="end" font-weight="bold" fill="#1a1a1a" stroke="#1a1a1a" stroke-width="0.32" transform="translate(0 -21.600) scale(1 1.12)">0.8</text>
<line x1="330.50" y1="178.00" x2="331.80" y2="178.00" stroke="#a6a6a6" stroke-width="0.5"/>
<text x="326.60" y="187.91" font-size="5.9" text-anchor="end" font-weight="bold" fill="#1a1a1a" stroke="#1a1a1a" stroke-width="0.32" transform="translate(0 -22.550) scale(1 1.12)">0.7</text>
<line x1="330.50" y1="185.91" x2="331.80" y2="185.91" stroke="#a6a6a6" stroke-width="0.5"/>
<text x="326.60" y="195.82" font-size="5.9" text-anchor="end" font-weight="bold" fill="#1a1a1a" stroke="#1a1a1a" stroke-width="0.32" transform="translate(0 -23.499) scale(1 1.12)">0.6</text>
<line x1="330.50" y1="193.82" x2="331.80" y2="193.82" stroke="#a6a6a6" stroke-width="0.5"/>
<text x="326.60" y="203.74" font-size="5.9" text-anchor="end" font-weight="bold" fill="#1a1a1a" stroke="#1a1a1a" stroke-width="0.32" transform="translate(0 -24.449) scale(1 1.12)">0.5</text>
<line x1="330.50" y1="201.74" x2="331.80" y2="201.74" stroke="#a6a6a6" stroke-width="0.5"/>
<text x="326.60" y="211.65" font-size="5.9" text-anchor="end" font-weight="bold" fill="#1a1a1a" stroke="#1a1a1a" stroke-width="0.32" transform="translate(0 -25.398) scale(1 1.12)">0.4</text>
<line x1="330.50" y1="209.65" x2="331.80" y2="209.65" stroke="#a6a6a6" stroke-width="0.5"/>
<text x="326.60" y="219.56" font-size="5.9" text-anchor="end" font-weight="bold" fill="#1a1a1a" stroke="#1a1a1a" stroke-width="0.32" transform="translate(0 -26.348) scale(1 1.12)">0.3</text>
<line x1="330.50" y1="217.56" x2="331.80" y2="217.56" stroke="#a6a6a6" stroke-width="0.5"/>
<text x="326.60" y="227.48" font-size="5.9" text-anchor="end" font-weight="bold" fill="#1a1a1a" stroke="#1a1a1a" stroke-width="0.32" transform="translate(0 -27.297) scale(1 1.12)">0.2</text>
<line x1="330.50" y1="225.48" x2="331.80" y2="225.48" stroke="#a6a6a6" stroke-width="0.5"/>
<text x="326.60" y="235.39" font-size="5.9" text-anchor="end" font-weight="bold" fill="#1a1a1a" stroke="#1a1a1a" stroke-width="0.32" transform="translate(0 -28.247) scale(1 1.12)">0.1</text>
<line x1="330.50" y1="233.39" x2="331.80" y2="233.39" stroke="#a6a6a6" stroke-width="0.5"/>
<text x="326.60" y="243.30" font-size="5.9" text-anchor="end" font-weight="bold" fill="#1a1a1a" stroke="#1a1a1a" stroke-width="0.32" transform="translate(0 -29.196) scale(1 1.12)">0.0</text>
<line x1="330.50" y1="241.30" x2="331.80" y2="241.30" stroke="#a6a6a6" stroke-width="0.5"/>
<rect x="338.80" y="224.20" width="6.70" height="17.10" fill="#1f67c4"/>
<rect x="347.25" y="222.70" width="6.70" height="18.60" fill="#f67a22"/>
<line x1="350.60" y1="221.20" x2="350.60" y2="222.70" stroke="#b0b0b0" stroke-width="0.5"/>
<line x1="349.70" y1="221.20" x2="351.50" y2="221.20" stroke="#b0b0b0" stroke-width="0.5"/>
<rect x="355.70" y="205.80" width="6.70" height="35.50" fill="#a6a6a6"/>
<line x1="359.05" y1="202.20" x2="359.05" y2="205.80" stroke="#b0b0b0" stroke-width="0.5"/>
<line x1="358.15" y1="202.20" x2="359.95" y2="202.20" stroke="#b0b0b0" stroke-width="0.5"/>
<rect x="364.15" y="212.80" width="6.70" height="28.50" fill="#ffbf00"/>
<line x1="367.50" y1="211.10" x2="367.50" y2="212.80" stroke="#b0b0b0" stroke-width="0.5"/>
<line x1="366.60" y1="211.10" x2="368.40" y2="211.10" stroke="#b0b0b0" stroke-width="0.5"/>
<rect x="372.60" y="208.60" width="6.70" height="32.70" fill="#1f9bdc"/>
<line x1="375.95" y1="206.50" x2="375.95" y2="208.60" stroke="#b0b0b0" stroke-width="0.5"/>
<line x1="375.05" y1="206.50" x2="376.85" y2="206.50" stroke="#b0b0b0" stroke-width="0.5"/>
<rect x="393.00" y="224.20" width="6.70" height="17.10" fill="#1f67c4"/>
<rect x="401.30" y="224.20" width="6.70" height="17.10" fill="#f67a22"/>
<line x1="404.65" y1="223.30" x2="404.65" y2="224.20" stroke="#b0b0b0" stroke-width="0.5"/>
<line x1="403.75" y1="223.30" x2="405.55" y2="223.30" stroke="#b0b0b0" stroke-width="0.5"/>
<rect x="409.60" y="219.10" width="6.70" height="22.20" fill="#a6a6a6"/>
<rect x="417.90" y="225.90" width="6.70" height="15.40" fill="#ffbf00"/>
<line x1="421.25" y1="224.80" x2="421.25" y2="225.90" stroke="#b0b0b0" stroke-width="0.5"/>
<line x1="420.35" y1="224.80" x2="422.15" y2="224.80" stroke="#b0b0b0" stroke-width="0.5"/>
<rect x="426.20" y="223.10" width="6.70" height="18.20" fill="#1f9bdc"/>
<text x="358.75" y="197.30" font-size="5.9" text-anchor="middle" font-weight="bold" fill="#5c5c5c" stroke="#5c5c5c" stroke-width="0.32" transform="translate(0 -23.676) scale(1 1.12)" font-style="italic">#</text>
<text x="367.20" y="203.60" font-size="5.9" text-anchor="middle" font-weight="bold" fill="#5c5c5c" stroke="#5c5c5c" stroke-width="0.32" transform="translate(0 -24.432) scale(1 1.12)" font-style="italic">#</text>
<text x="375.60" y="200.90" font-size="5.9" text-anchor="middle" font-weight="bold" fill="#5c5c5c" stroke="#5c5c5c" stroke-width="0.32" transform="translate(0 -24.108) scale(1 1.12)" font-style="italic">#</text>
<text x="359.05" y="251.20" font-size="6.25" text-anchor="middle" font-weight="bold" fill="#1a1a1a" stroke="#1a1a1a" stroke-width="0.32" transform="translate(0 -30.144) scale(1 1.12)">Ipsilateral</text>
<text x="412.95" y="251.20" font-size="6.25" text-anchor="middle" font-weight="bold" fill="#1a1a1a" stroke="#1a1a1a" stroke-width="0.32" transform="translate(0 -30.144) scale(1 1.12)">Contralateral</text>
<text x="310.40" y="210.20" font-size="6.3" text-anchor="middle" font-weight="bold" fill="#1a1a1a" stroke="#1a1a1a" stroke-width="0.32" transform="rotate(-90 310.4 210.2)">GFAP staining in thalamus,</text>
<text x="317.80" y="209.60" font-size="6.2" text-anchor="middle" font-weight="bold" fill="#1a1a1a" stroke="#1a1a1a" stroke-width="0.32" transform="rotate(-90 317.8 209.6)">OD</text>
<text x="453.80" y="10.70" font-size="6" text-anchor="start" font-weight="bold" fill="#1a1a1a" stroke="#1a1a1a" stroke-width="0.32" transform="translate(0 -1.284) scale(1 1.12)">E</text>
<text x="471.30" y="17.60" font-size="5.8" text-anchor="start" font-weight="bold" fill="#1a1a1a" stroke="#1a1a1a" stroke-width="0.32" transform="translate(0 -2.112) scale(1 1.12)" textLength="15.2" lengthAdjust="spacingAndGlyphs">GFAP</text>
<text x="517.40" y="17.60" font-size="5.8" text-anchor="start" font-weight="bold" fill="#1a1a1a" stroke="#1a1a1a" stroke-width="0.32" transform="translate(0 -2.112) scale(1 1.12)" textLength="10.7" lengthAdjust="spacingAndGlyphs">Iba1</text>
<text x="455.80" y="41.85" font-size="5.8" text-anchor="middle" font-weight="bold" fill="#1a1a1a" stroke="#1a1a1a" stroke-width="0.32" transform="rotate(-90 455.8 41.849999999999994)">Naive</text>
<text x="455.80" y="87.55" font-size="5.8" text-anchor="middle" font-weight="bold" fill="#1a1a1a" stroke="#1a1a1a" stroke-width="0.32" transform="rotate(-90 455.8 87.55)">Sham</text>
<text x="455.80" y="133.25" font-size="5.8" text-anchor="middle" font-weight="bold" fill="#1a1a1a" stroke="#1a1a1a" stroke-width="0.32" transform="rotate(-90 455.8 133.25)">TBI</text>
<text x="455.80" y="178.35" font-size="5.8" text-anchor="middle" font-weight="bold" fill="#1a1a1a" stroke="#1a1a1a" stroke-width="0.32" transform="rotate(-90 455.8 178.35)">BD-1063 (10)</text>
<text x="455.80" y="224.25" font-size="5.8" text-anchor="middle" font-weight="bold" fill="#1a1a1a" stroke="#1a1a1a" stroke-width="0.32" transform="rotate(-90 455.8 224.25)">BD-1063 (30)</text>
<defs>
<filter id="soft" x="-5%" y="-5%" width="110%" height="110%"><feGaussianBlur stdDeviation="0.7"/></filter>
<filter id="soft2" x="-5%" y="-5%" width="110%" height="110%"><feGaussianBlur stdDeviation="0.5"/></filter>
<filter id="ntex" x="0" y="0" width="1" height="1" color-interpolation-filters="sRGB">
<feTurbulence type="fractalNoise" baseFrequency="0.45 0.8" numOctaves="3" seed="11" result="n"/>
<feColorMatrix in="n" type="matrix" values="0 0 0 0 0.2  0 0 0 0 0.17  0 0 0 0 0.3  3.2 0 0 0 -1.45" result="d"/>
<feColorMatrix in="n" type="matrix" values="0 0 0 0 0.86  0 0 0 0 0.84  0 0 0 0 0.9  -3.0 0 0 0 1.25" result="l"/>
<feMerge><feMergeNode in="d"/><feMergeNode in="l"/></feMerge>
<feGaussianBlur stdDeviation="0.35"/>
</filter>
</defs>
<clipPath id="c1"><rect x="0" y="0" width="43.1" height="43.9"/></clipPath>
<clipPath id="t1"><path clip-rule="evenodd" d="M-5,-5 H50 V50 H-5 Z M-3,-3 L46,-3 L46,7.2 C30,1.2 12,1.6 -3,3.4 Z"/></clipPath>
<g clip-path="url(#c1)" transform="translate(457.8 19.9)">
<g filter="url(#soft)"><rect x="-3" y="-3" width="50" height="50" fill="#958aa2"/>
<circle cx="17" cy="60" r="52" fill="none" stroke="#b0a9bb" stroke-width="12"/>
<circle cx="17" cy="60" r="43.6" fill="none" stroke="#7d708f" stroke-width="5"/>
<circle cx="17" cy="60" r="36" fill="none" stroke="#b0a8bc" stroke-width="1.1"/>
<circle cx="17" cy="60" r="29" fill="none" stroke="#887c98" stroke-width="3"/>
<circle cx="17" cy="60" r="22" fill="none" stroke="#a39ab1" stroke-width="1.0"/><path d="M-3,-3 L46,-3 L46,7.2 C30,1.2 12,1.6 -3,3.4 Z" fill="#d5d5d8"/><path d="M-3,3.6 C12,1.8 30,1.4 46,7.6" stroke="#574c72" stroke-width="1.1" fill="none"/></g>
<g clip-path="url(#t1)"><rect x="0" y="0" width="43.1" height="43.9" filter="url(#ntex)" opacity="0.2"/><g filter="url(#soft2)"><circle cx="5.8" cy="37.3" r="0.54" fill="#3b3056" opacity="0.20"/><circle cx="21.3" cy="19.8" r="0.51" fill="#3b3056" opacity="0.31"/><circle cx="4.0" cy="1.2" r="0.56" fill="#3b3056" opacity="0.24"/><circle cx="32.8" cy="0.1" r="0.46" fill="#3b3056" opacity="0.29"/><circle cx="9.8" cy="41.6" r="0.58" fill="#3b3056" opacity="0.16"/><circle cx="1.1" cy="23.8" r="0.58" fill="#3b3056" opacity="0.23"/><circle cx="9.3" cy="18.6" r="0.36" fill="#3b3056" opacity="0.19"/><circle cx="18.8" cy="21.8" r="0.41" fill="#3b3056" opacity="0.20"/><circle cx="9.4" cy="20.2" r="0.42" fill="#3b3056" opacity="0.15"/><circle cx="36.0" cy="24.5" r="0.51" fill="#3b3056" opacity="0.19"/><circle cx="42.7" cy="37.8" r="0.38" fill="#3b3056" opacity="0.22"/><circle cx="31.0" cy="31.3" r="0.58" fill="#3b3056" opacity="0.23"/><circle cx="35.7" cy="29.5" r="0.43" fill="#3b3056" opacity="0.27"/><circle cx="37.9" cy="37.2" r="0.48" fill="#3b3056" opacity="0.27"/><circle cx="1.5" cy="10.7" r="0.55" fill="#3b3056" opacity="0.23"/><circle cx="7.4" cy="24.1" r="0.53" fill="#3b3056" opacity="0.28"/><circle cx="16.1" cy="19.3" r="0.48" fill="#3b3056" opacity="0.31"/><circle cx="22.4" cy="17.3" r="0.47" fill="#3b3056" opacity="0.16"/><circle cx="1.9" cy="30.9" r="0.60" fill="#3b3056" opacity="0.27"/><circle cx="16.9" cy="7.5" r="0.48" fill="#3b3056" opacity="0.35"/><circle cx="33.1" cy="23.7" r="0.57" fill="#3b3056" opacity="0.20"/><circle cx="22.1" cy="41.9" r="0.49" fill="#3b3056" opacity="0.24"/><circle cx="11.6" cy="24.1" r="0.59" fill="#3b3056" opacity="0.15"/><circle cx="33.7" cy="36.1" r="0.57" fill="#3b3056" opacity="0.30"/><circle cx="34.8" cy="22.8" r="0.49" fill="#3b3056" opacity="0.24"/><circle cx="2.4" cy="38.3" r="0.49" fill="#3b3056" opacity="0.19"/><circle cx="21.7" cy="21.3" r="0.44" fill="#3b3056" opacity="0.22"/><circle cx="23.2" cy="27.4" r="0.50" fill="#3b3056" opacity="0.24"/><circle cx="1.2" cy="10.1" r="0.39" fill="#3b3056" opacity="0.27"/><circle cx="37.0" cy="35.1" r="0.55" fill="#3b3056" opacity="0.31"/><circle cx="11.0" cy="37.0" r="0.52" fill="#3b3056" opacity="0.17"/><circle cx="0.7" cy="0.6" r="0.54" fill="#3b3056" opacity="0.20"/><circle cx="4.7" cy="27.5" r="0.44" fill="#3b3056" opacity="0.16"/><circle cx="6.9" cy="23.2" r="0.39" fill="#3b3056" opacity="0.20"/><circle cx="30.6" cy="20.0" r="0.43" fill="#3b3056" opacity="0.24"/><circle cx="1.0" cy="17.0" r="0.46" fill="#3b3056" opacity="0.19"/><circle cx="4.7" cy="39.6" r="0.48" fill="#3b3056" opacity="0.19"/><circle cx="26.0" cy="35.9" r="0.36" fill="#3b3056" opacity="0.15"/><circle cx="6.3" cy="31.6" r="0.39" fill="#3b3056" opacity="0.29"/><circle cx="29.2" cy="24.0" r="0.41" fill="#3b3056" opacity="0.35"/><circle cx="34.3" cy="22.7" r="0.41" fill="#3b3056" opacity="0.28"/><circle cx="17.0" cy="25.3" r="0.43" fill="#3b3056" opacity="0.28"/><circle cx="2.5" cy="13.1" r="0.59" fill="#3b3056" opacity="0.33"/><circle cx="13.2" cy="37.8" r="0.43" fill="#3b3056" opacity="0.34"/><circle cx="32.0" cy="18.3" r="0.41" fill="#3b3056" opacity="0.15"/><circle cx="37.8" cy="1.7" r="0.55" fill="#3b3056" opacity="0.34"/><circle cx="24.5" cy="7.5" r="0.57" fill="#3b3056" opacity="0.34"/><circle cx="30.3" cy="22.4" r="0.44" fill="#3b3056" opacity="0.22"/><circle cx="8.8" cy="29.7" r="0.46" fill="#3b3056" opacity="0.19"/><circle cx="4.5" cy="29.3" r="0.42" fill="#3b3056" opacity="0.25"/><circle cx="14.0" cy="38.4" r="0.57" fill="#3b3056" opacity="0.15"/><circle cx="8.6" cy="14.4" r="0.60" fill="#3b3056" opacity="0.31"/><circle cx="14.6" cy="9.4" r="0.52" fill="#3b3056" opacity="0.32"/><circle cx="40.1" cy="15.1" r="0.57" fill="#3b3056" opacity="0.29"/><circle cx="20.8" cy="43.4" r="0.41" fill="#3b3056" opacity="0.30"/><circle cx="3.6" cy="7.5" r="0.58" fill="#3b3056" opacity="0.19"/><circle cx="32.6" cy="26.4" r="0.56" fill="#3b3056" opacity="0.22"/><circle cx="14.6" cy="12.8" r="0.57" fill="#3b3056" opacity="0.27"/><circle cx="41.0" cy="39.0" r="0.38" fill="#3b3056" opacity="0.26"/><circle cx="4.5" cy="1.7" r="0.37" fill="#3b3056" opacity="0.32"/><circle cx="33.9" cy="36.5" r="0.44" fill="#3b3056" opacity="0.27"/><circle cx="33.6" cy="16.6" r="0.49" fill="#3b3056" opacity="0.19"/><circle cx="3.5" cy="11.7" r="0.57" fill="#3b3056" opacity="0.26"/><circle cx="39.8" cy="20.1" r="0.42" fill="#3b3056" opacity="0.31"/><circle cx="35.6" cy="0.5" r="0.52" fill="#3b3056" opacity="0.17"/><circle cx="4.9" cy="38.9" r="0.36" fill="#3b3056" opacity="0.20"/><circle cx="42.5" cy="18.5" r="0.38" fill="#3b3056" opacity="0.18"/><circle cx="10.4" cy="32.7" r="0.38" fill="#3b3056" opacity="0.33"/><circle cx="16.3" cy="42.7" r="0.58" fill="#3b3056" opacity="0.21"/><circle cx="10.9" cy="21.0" r="0.38" fill="#3b3056" opacity="0.28"/><circle cx="1.7" cy="0.5" r="0.60" fill="#3b3056" opacity="0.21"/><circle cx="25.7" cy="19.8" r="0.43" fill="#3b3056" opacity="0.16"/><circle cx="39.3" cy="42.7" r="0.59" fill="#3b3056" opacity="0.17"/><circle cx="9.3" cy="27.2" r="0.59" fill="#3b3056" opacity="0.26"/><circle cx="29.6" cy="29.1" r="0.41" fill="#3b3056" opacity="0.26"/><circle cx="13.2" cy="10.8" r="0.37" fill="#3b3056" opacity="0.21"/><circle cx="42.3" cy="19.7" r="0.51" fill="#3b3056" opacity="0.28"/><circle cx="40.5" cy="17.2" r="0.43" fill="#3b3056" opacity="0.22"/><circle cx="13.6" cy="37.3" r="0.57" fill="#3b3056" opacity="0.21"/><circle cx="14.4" cy="23.9" r="0.49" fill="#3b3056" opacity="0.27"/><circle cx="5.9" cy="8.2" r="0.47" fill="#3b3056" opacity="0.32"/><circle cx="13.2" cy="8.6" r="0.42" fill="#3b3056" opacity="0.49"/><circle cx="7.0" cy="14.3" r="0.55" fill="#3b3056" opacity="0.56"/><circle cx="3.7" cy="12.0" r="0.64" fill="#3b3056" opacity="0.32"/><circle cx="22.8" cy="9.4" r="0.63" fill="#3b3056" opacity="0.60"/><circle cx="19.7" cy="10.6" r="0.43" fill="#3b3056" opacity="0.45"/><circle cx="22.1" cy="10.3" r="0.67" fill="#3b3056" opacity="0.34"/><circle cx="21.9" cy="8.3" r="0.49" fill="#3b3056" opacity="0.57"/><circle cx="19.3" cy="15.3" r="0.65" fill="#3b3056" opacity="0.52"/><circle cx="16.6" cy="9.4" r="0.53" fill="#3b3056" opacity="0.35"/><circle cx="17.2" cy="13.3" r="0.48" fill="#3b3056" opacity="0.32"/><circle cx="23.1" cy="14.5" r="0.56" fill="#3b3056" opacity="0.46"/><circle cx="20.4" cy="11.6" r="0.52" fill="#3b3056" opacity="0.40"/><circle cx="6.2" cy="8.2" r="0.59" fill="#3b3056" opacity="0.43"/><circle cx="13.7" cy="8.5" r="0.51" fill="#3b3056" opacity="0.34"/><circle cx="3.0" cy="10.1" r="0.65" fill="#3b3056" opacity="0.42"/><circle cx="9.6" cy="12.9" r="0.47" fill="#3b3056" opacity="0.30"/><circle cx="12.7" cy="12.0" r="0.59" fill="#3b3056" opacity="0.43"/><circle cx="16.5" cy="13.9" r="0.47" fill="#3b3056" opacity="0.45"/><circle cx="11.5" cy="9.8" r="0.52" fill="#3b3056" opacity="0.47"/><circle cx="21.8" cy="15.3" r="0.48" fill="#3b3056" opacity="0.49"/><circle cx="1.2" cy="8.6" r="0.55" fill="#3b3056" opacity="0.56"/><circle cx="3.8" cy="14.1" r="0.66" fill="#3b3056" opacity="0.39"/><circle cx="16.6" cy="14.8" r="0.51" fill="#3b3056" opacity="0.51"/><circle cx="17.7" cy="12.8" r="0.66" fill="#3b3056" opacity="0.57"/><circle cx="23.0" cy="12.6" r="0.45" fill="#3b3056" opacity="0.38"/><circle cx="5.2" cy="12.6" r="0.63" fill="#3b3056" opacity="0.32"/><circle cx="16.4" cy="13.7" r="0.50" fill="#3b3056" opacity="0.45"/><circle cx="4.0" cy="13.8" r="0.41" fill="#3b3056" opacity="0.59"/><circle cx="19.4" cy="13.0" r="0.48" fill="#3b3056" opacity="0.57"/><circle cx="23.0" cy="9.1" r="0.63" fill="#3b3056" opacity="0.55"/><circle cx="15.8" cy="13.6" r="0.53" fill="#3b3056" opacity="0.58"/><circle cx="23.3" cy="11.1" r="0.64" fill="#3b3056" opacity="0.43"/><circle cx="4.0" cy="10.6" r="0.44" fill="#3b3056" opacity="0.57"/><circle cx="23.0" cy="9.0" r="0.58" fill="#3b3056" opacity="0.42"/><circle cx="2.8" cy="10.4" r="0.47" fill="#3b3056" opacity="0.52"/><circle cx="0.1" cy="9.5" r="0.53" fill="#3b3056" opacity="0.31"/><circle cx="15.1" cy="12.8" r="0.65" fill="#3b3056" opacity="0.36"/><circle cx="6.8" cy="12.3" r="0.48" fill="#3b3056" opacity="0.48"/><circle cx="6.0" cy="13.5" r="0.64" fill="#3b3056" opacity="0.54"/><circle cx="41.9" cy="24.0" r="0.45" fill="#d8d4de" opacity="0.32"/><circle cx="33.1" cy="25.1" r="0.41" fill="#d8d4de" opacity="0.21"/><circle cx="4.6" cy="35.5" r="0.34" fill="#d8d4de" opacity="0.30"/><circle cx="23.4" cy="42.5" r="0.53" fill="#d8d4de" opacity="0.34"/><circle cx="5.9" cy="22.0" r="0.47" fill="#d8d4de" opacity="0.21"/><circle cx="21.6" cy="15.7" r="0.46" fill="#d8d4de" opacity="0.15"/><circle cx="19.0" cy="19.8" r="0.39" fill="#d8d4de" opacity="0.23"/><circle cx="33.7" cy="30.1" r="0.45" fill="#d8d4de" opacity="0.28"/><circle cx="16.2" cy="9.0" r="0.30" fill="#d8d4de" opacity="0.21"/><circle cx="25.7" cy="38.8" r="0.55" fill="#d8d4de" opacity="0.25"/><circle cx="42.4" cy="20.3" r="0.55" fill="#d8d4de" opacity="0.23"/><circle cx="32.0" cy="43.5" r="0.39" fill="#d8d4de" opacity="0.18"/><circle cx="26.7" cy="23.4" r="0.41" fill="#d8d4de" opacity="0.15"/><circle cx="16.7" cy="18.7" r="0.42" fill="#d8d4de" opacity="0.32"/><circle cx="25.1" cy="32.3" r="0.57" fill="#d8d4de" opacity="0.30"/><circle cx="21.2" cy="32.8" r="0.49" fill="#d8d4de" opacity="0.28"/><circle cx="27.1" cy="17.9" r="0.49" fill="#d8d4de" opacity="0.28"/><circle cx="40.3" cy="34.4" r="0.55" fill="#d8d4de" opacity="0.30"/><circle cx="35.1" cy="26.6" r="0.40" fill="#d8d4de" opacity="0.20"/><circle cx="30.4" cy="38.5" r="0.46" fill="#d8d4de" opacity="0.18"/><circle cx="35.8" cy="21.3" r="0.44" fill="#d8d4de" opacity="0.16"/><circle cx="21.9" cy="32.8" r="0.43" fill="#d8d4de" opacity="0.22"/><circle cx="28.2" cy="0.9" r="0.45" fill="#d8d4de" opacity="0.34"/><circle cx="29.7" cy="17.7" r="0.51" fill="#d8d4de" opacity="0.27"/><circle cx="9.0" cy="9.1" r="0.57" fill="#d8d4de" opacity="0.20"/><circle cx="3.2" cy="36.5" r="0.46" fill="#d8d4de" opacity="0.22"/><circle cx="22.0" cy="32.4" r="0.35" fill="#d8d4de" opacity="0.28"/><circle cx="30.7" cy="35.9" r="0.38" fill="#d8d4de" opacity="0.27"/><circle cx="10.0" cy="24.7" r="0.35" fill="#d8d4de" opacity="0.31"/><circle cx="37.3" cy="14.5" r="0.37" fill="#d8d4de" opacity="0.34"/><circle cx="30.4" cy="37.1" r="0.31" fill="#d8d4de" opacity="0.33"/><circle cx="26.8" cy="13.9" r="0.43" fill="#d8d4de" opacity="0.30"/><circle cx="33.8" cy="8.4" r="0.49" fill="#d8d4de" opacity="0.18"/><circle cx="41.8" cy="19.5" r="0.57" fill="#d8d4de" opacity="0.30"/><circle cx="26.1" cy="11.5" r="0.46" fill="#d8d4de" opacity="0.18"/><circle cx="5.9" cy="31.5" r="0.41" fill="#d8d4de" opacity="0.30"/><circle cx="10.3" cy="31.6" r="0.52" fill="#d8d4de" opacity="0.21"/><circle cx="4.6" cy="17.5" r="0.45" fill="#d8d4de" opacity="0.17"/><circle cx="8.0" cy="2.4" r="0.48" fill="#d8d4de" opacity="0.33"/><circle cx="9.3" cy="1.5" r="0.51" fill="#d8d4de" opacity="0.31"/></g></g>
</g>
<clipPath id="c2"><rect x="0" y="0" width="43.1" height="43.9"/></clipPath>
<clipPath id="t2"><path clip-rule="evenodd" d="M-5,-5 H50 V50 H-5 Z M19.6,-3 L46,-3 L46,8.5 A58,58 0 0 0 19.6,0.6 Z"/></clipPath>
<g clip-path="url(#c2)" transform="translate(502.9 19.9)">
<g filter="url(#soft)"><rect x="-3" y="-3" width="50" height="50" fill="#9a93a5"/>
<circle cx="14" cy="58" r="55" fill="none" stroke="#8f889f" stroke-width="3"/>
<circle cx="14" cy="58" r="37" fill="none" stroke="#aaa3b5" stroke-width="2.6"/>
<circle cx="14" cy="58" r="33.3" fill="none" stroke="#867e96" stroke-width="3"/>
<circle cx="14" cy="58" r="29.5" fill="none" stroke="#a7a0b2" stroke-width="1.4"/>
<circle cx="14" cy="58" r="22" fill="none" stroke="#a29bae" stroke-width="1.2"/><path d="M19.6,-3 L46,-3 L46,8.5 A58,58 0 0 0 19.6,0.6 Z" fill="#d5d5d8"/><rect x="34.6" y="41.2" width="6.2" height="1.3" fill="#f4f3f7"/></g>
<g clip-path="url(#t2)"><rect x="0" y="0" width="43.1" height="43.9" filter="url(#ntex)" opacity="0.1"/><g filter="url(#soft2)"><circle cx="41.1" cy="41.7" r="0.36" fill="#3b3056" opacity="0.14"/><circle cx="35.9" cy="32.4" r="0.52" fill="#3b3056" opacity="0.18"/><circle cx="26.1" cy="26.7" r="0.50" fill="#3b3056" opacity="0.15"/><circle cx="18.5" cy="17.3" r="0.53" fill="#3b3056" opacity="0.30"/><circle cx="40.8" cy="23.9" r="0.46" fill="#3b3056" opacity="0.17"/><circle cx="1.5" cy="1.2" r="0.47" fill="#3b3056" opacity="0.18"/><circle cx="16.3" cy="39.2" r="0.48" fill="#3b3056" opacity="0.22"/><circle cx="10.2" cy="1.0" r="0.43" fill="#3b3056" opacity="0.14"/><circle cx="21.9" cy="43.9" r="0.52" fill="#3b3056" opacity="0.15"/><circle cx="38.4" cy="35.1" r="0.53" fill="#3b3056" opacity="0.28"/><circle cx="32.8" cy="34.7" r="0.44" fill="#3b3056" opacity="0.30"/><circle cx="41.4" cy="7.1" r="0.54" fill="#3b3056" opacity="0.25"/><circle cx="19.8" cy="23.3" r="0.47" fill="#3b3056" opacity="0.29"/><circle cx="21.5" cy="36.6" r="0.44" fill="#3b3056" opacity="0.28"/><circle cx="38.7" cy="20.3" r="0.49" fill="#3b3056" opacity="0.29"/><circle cx="31.1" cy="21.4" r="0.41" fill="#3b3056" opacity="0.18"/><circle cx="30.1" cy="7.3" r="0.58" fill="#3b3056" opacity="0.17"/><circle cx="39.2" cy="13.6" r="0.59" fill="#3b3056" opacity="0.25"/><circle cx="21.7" cy="22.8" r="0.51" fill="#3b3056" opacity="0.23"/><circle cx="13.4" cy="9.1" r="0.48" fill="#3b3056" opacity="0.29"/><circle cx="26.8" cy="3.3" r="0.56" fill="#3b3056" opacity="0.25"/><circle cx="39.0" cy="8.4" r="0.54" fill="#3b3056" opacity="0.13"/><circle cx="28.1" cy="12.0" r="0.41" fill="#3b3056" opacity="0.28"/><circle cx="4.6" cy="23.0" r="0.56" fill="#3b3056" opacity="0.16"/><circle cx="9.1" cy="38.7" r="0.46" fill="#3b3056" opacity="0.25"/><circle cx="1.4" cy="15.9" r="0.39" fill="#3b3056" opacity="0.24"/><circle cx="3.6" cy="42.0" r="0.36" fill="#3b3056" opacity="0.25"/><circle cx="0.9" cy="11.3" r="0.55" fill="#3b3056" opacity="0.15"/><circle cx="7.9" cy="30.4" r="0.45" fill="#3b3056" opacity="0.13"/><circle cx="42.6" cy="6.7" r="0.36" fill="#3b3056" opacity="0.18"/><circle cx="26.5" cy="32.7" r="0.38" fill="#3b3056" opacity="0.18"/><circle cx="1.3" cy="19.7" r="0.54" fill="#3b3056" opacity="0.25"/><circle cx="38.8" cy="33.2" r="0.57" fill="#3b3056" opacity="0.25"/><circle cx="20.3" cy="9.9" r="0.52" fill="#3b3056" opacity="0.18"/><circle cx="4.4" cy="19.7" r="0.57" fill="#3b3056" opacity="0.14"/><circle cx="25.2" cy="17.3" r="0.48" fill="#3b3056" opacity="0.15"/><circle cx="41.3" cy="11.4" r="0.50" fill="#3b3056" opacity="0.20"/><circle cx="0.8" cy="24.5" r="0.39" fill="#3b3056" opacity="0.13"/><circle cx="1.4" cy="7.1" r="0.37" fill="#3b3056" opacity="0.23"/><circle cx="21.9" cy="43.3" r="0.58" fill="#3b3056" opacity="0.30"/><circle cx="10.0" cy="19.6" r="0.41" fill="#3b3056" opacity="0.23"/><circle cx="26.8" cy="35.2" r="0.53" fill="#3b3056" opacity="0.17"/><circle cx="18.2" cy="23.2" r="0.35" fill="#3b3056" opacity="0.13"/><circle cx="17.6" cy="4.9" r="0.53" fill="#3b3056" opacity="0.16"/><circle cx="4.3" cy="8.0" r="0.41" fill="#3b3056" opacity="0.16"/><circle cx="22.4" cy="20.4" r="0.43" fill="#3b3056" opacity="0.24"/><circle cx="9.1" cy="39.9" r="0.59" fill="#3b3056" opacity="0.25"/><circle cx="18.7" cy="22.5" r="0.50" fill="#3b3056" opacity="0.13"/><circle cx="18.0" cy="23.1" r="0.40" fill="#3b3056" opacity="0.14"/><circle cx="34.5" cy="16.1" r="0.48" fill="#3b3056" opacity="0.29"/><circle cx="26.3" cy="12.7" r="0.60" fill="#3b3056" opacity="0.19"/><circle cx="0.8" cy="30.2" r="0.38" fill="#3b3056" opacity="0.18"/><circle cx="36.1" cy="29.6" r="0.35" fill="#3b3056" opacity="0.20"/><circle cx="17.7" cy="21.4" r="0.40" fill="#3b3056" opacity="0.23"/><circle cx="3.2" cy="12.5" r="0.44" fill="#3b3056" opacity="0.29"/><circle cx="3.3" cy="33.2" r="0.40" fill="#3b3056" opacity="0.22"/><circle cx="16.8" cy="20.4" r="0.54" fill="#3b3056" opacity="0.19"/><circle cx="5.2" cy="5.4" r="0.37" fill="#3b3056" opacity="0.27"/><circle cx="27.6" cy="42.2" r="0.52" fill="#3b3056" opacity="0.12"/><circle cx="28.3" cy="34.2" r="0.53" fill="#3b3056" opacity="0.21"/><circle cx="15.4" cy="20.1" r="0.55" fill="#3b3056" opacity="0.17"/><circle cx="22.6" cy="21.0" r="0.59" fill="#3b3056" opacity="0.26"/><circle cx="40.1" cy="36.8" r="0.42" fill="#3b3056" opacity="0.16"/><circle cx="21.0" cy="11.4" r="0.46" fill="#3b3056" opacity="0.24"/><circle cx="39.5" cy="25.8" r="0.55" fill="#3b3056" opacity="0.14"/><circle cx="15.3" cy="43.9" r="0.39" fill="#3b3056" opacity="0.20"/><circle cx="2.9" cy="3.8" r="0.57" fill="#3b3056" opacity="0.30"/><circle cx="27.9" cy="5.7" r="0.42" fill="#3b3056" opacity="0.16"/><circle cx="28.8" cy="30.0" r="0.46" fill="#3b3056" opacity="0.21"/><circle cx="4.8" cy="23.8" r="0.59" fill="#3b3056" opacity="0.26"/><circle cx="4.1" cy="22.7" r="0.53" fill="#3b3056" opacity="0.17"/><circle cx="38.5" cy="20.3" r="0.53" fill="#3b3056" opacity="0.19"/><circle cx="42.8" cy="34.4" r="0.49" fill="#3b3056" opacity="0.15"/><circle cx="19.0" cy="1.3" r="0.50" fill="#3b3056" opacity="0.28"/><circle cx="7.8" cy="22.4" r="0.47" fill="#3b3056" opacity="0.19"/><circle cx="30.5" cy="41.2" r="0.53" fill="#3b3056" opacity="0.21"/><circle cx="41.4" cy="14.6" r="0.54" fill="#3b3056" opacity="0.24"/><circle cx="32.7" cy="37.5" r="0.41" fill="#3b3056" opacity="0.23"/><circle cx="17.3" cy="29.3" r="0.59" fill="#3b3056" opacity="0.23"/><circle cx="0.5" cy="20.4" r="0.53" fill="#3b3056" opacity="0.28"/><circle cx="28.0" cy="35.9" r="0.31" fill="#d8d4de" opacity="0.34"/><circle cx="31.4" cy="26.7" r="0.57" fill="#d8d4de" opacity="0.33"/><circle cx="4.3" cy="35.9" r="0.53" fill="#d8d4de" opacity="0.19"/><circle cx="32.0" cy="25.8" r="0.36" fill="#d8d4de" opacity="0.31"/><circle cx="5.9" cy="26.9" r="0.43" fill="#d8d4de" opacity="0.20"/><circle cx="24.3" cy="20.6" r="0.36" fill="#d8d4de" opacity="0.34"/><circle cx="3.1" cy="0.1" r="0.45" fill="#d8d4de" opacity="0.32"/><circle cx="28.3" cy="33.2" r="0.45" fill="#d8d4de" opacity="0.28"/><circle cx="14.4" cy="11.7" r="0.45" fill="#d8d4de" opacity="0.16"/><circle cx="3.4" cy="33.2" r="0.35" fill="#d8d4de" opacity="0.30"/><circle cx="33.7" cy="17.8" r="0.50" fill="#d8d4de" opacity="0.31"/><circle cx="37.2" cy="5.9" r="0.35" fill="#d8d4de" opacity="0.23"/><circle cx="20.0" cy="13.0" r="0.30" fill="#d8d4de" opacity="0.26"/><circle cx="41.6" cy="16.1" r="0.46" fill="#d8d4de" opacity="0.23"/><circle cx="19.0" cy="38.3" r="0.39" fill="#d8d4de" opacity="0.28"/><circle cx="20.8" cy="23.7" r="0.57" fill="#d8d4de" opacity="0.17"/><circle cx="35.4" cy="13.4" r="0.49" fill="#d8d4de" opacity="0.31"/><circle cx="28.1" cy="17.3" r="0.55" fill="#d8d4de" opacity="0.17"/><circle cx="27.2" cy="17.2" r="0.46" fill="#d8d4de" opacity="0.32"/><circle cx="34.3" cy="27.7" r="0.39" fill="#d8d4de" opacity="0.20"/><circle cx="19.7" cy="10.2" r="0.38" fill="#d8d4de" opacity="0.34"/><circle cx="4.8" cy="36.0" r="0.41" fill="#d8d4de" opacity="0.22"/><circle cx="13.7" cy="3.4" r="0.44" fill="#d8d4de" opacity="0.18"/><circle cx="19.0" cy="12.8" r="0.57" fill="#d8d4de" opacity="0.33"/><circle cx="19.0" cy="28.1" r="0.58" fill="#d8d4de" opacity="0.22"/><circle cx="4.3" cy="10.5" r="0.36" fill="#d8d4de" opacity="0.29"/><circle cx="16.1" cy="15.7" r="0.54" fill="#d8d4de" opacity="0.20"/><circle cx="34.8" cy="27.8" r="0.42" fill="#d8d4de" opacity="0.31"/><circle cx="14.7" cy="38.7" r="0.58" fill="#d8d4de" opacity="0.25"/><circle cx="29.7" cy="41.7" r="0.52" fill="#d8d4de" opacity="0.30"/><circle cx="37.4" cy="41.2" r="0.53" fill="#d8d4de" opacity="0.35"/><circle cx="12.5" cy="27.4" r="0.50" fill="#d8d4de" opacity="0.22"/><circle cx="17.0" cy="7.7" r="0.59" fill="#d8d4de" opacity="0.22"/><circle cx="20.5" cy="39.3" r="0.36" fill="#d8d4de" opacity="0.34"/><circle cx="5.5" cy="1.2" r="0.41" fill="#d8d4de" opacity="0.22"/><circle cx="39.5" cy="38.9" r="0.53" fill="#d8d4de" opacity="0.24"/><circle cx="23.3" cy="10.4" r="0.55" fill="#d8d4de" opacity="0.23"/><circle cx="12.2" cy="28.1" r="0.35" fill="#d8d4de" opacity="0.21"/><circle cx="39.8" cy="4.2" r="0.34" fill="#d8d4de" opacity="0.19"/><circle cx="10.8" cy="18.5" r="0.38" fill="#d8d4de" opacity="0.22"/><circle cx="10.6" cy="10.6" r="0.48" fill="#d8d4de" opacity="0.22"/><circle cx="16.0" cy="33.8" r="0.32" fill="#d8d4de" opacity="0.18"/><circle cx="36.6" cy="18.9" r="0.53" fill="#d8d4de" opacity="0.18"/><circle cx="22.5" cy="37.2" r="0.40" fill="#d8d4de" opacity="0.30"/><circle cx="26.2" cy="17.4" r="0.60" fill="#d8d4de" opacity="0.23"/><circle cx="20.4" cy="27.3" r="0.40" fill="#d8d4de" opacity="0.32"/><circle cx="25.7" cy="25.9" r="0.46" fill="#d8d4de" opacity="0.35"/><circle cx="42.5" cy="37.0" r="0.44" fill="#d8d4de" opacity="0.23"/><circle cx="22.6" cy="2.0" r="0.33" fill="#d8d4de" opacity="0.35"/><circle cx="5.5" cy="41.2" r="0.50" fill="#d8d4de" opacity="0.33"/></g></g>
</g>
<clipPath id="c3"><rect x="0" y="0" width="43.1" height="43.9"/></clipPath>
<clipPath id="t3"><path clip-rule="evenodd" d="M-5,-5 H50 V50 H-5 Z M-3,-3 L46,-3 L46,9.8 L42.8,9.6 L34.2,7.4 L23.9,4.8 L11,2.7 L0,2 L-3,2 Z"/></clipPath>
<g clip-path="url(#c3)" transform="translate(457.8 65.6)">
<g filter="url(#soft)"><rect x="-3" y="-3" width="50" height="50" fill="#8f8599"/>
<path d="M-3,2 C12,2.2 28,4 46,10 L46,20 C28,14 10,13 -3,15 Z" fill="#a198ad"/>
<circle cx="12" cy="64" r="45" fill="none" stroke="#766a89" stroke-width="4.5"/>
<circle cx="12" cy="64" r="37.4" fill="none" stroke="#b0a8bc" stroke-width="1.2"/>
<circle cx="12" cy="64" r="32" fill="none" stroke="#a39bb0" stroke-width="1.0"/>
<ellipse cx="1" cy="12" rx="5" ry="11" fill="#75698a" opacity="0.5"/><ellipse cx="22" cy="13" rx="9" ry="4" fill="#b6afc2" opacity="0.8"/><path d="M-3,-3 L46,-3 L46,9.8 L42.8,9.6 L34.2,7.4 L23.9,4.8 L11,2.7 L0,2 L-3,2 Z" fill="#d5d5d8"/><path d="M-3,2.3 L0,2.3 L11,3 L23.9,5.1 L34.2,7.7 L46,10.3" stroke="#463b62" stroke-width="1.4" fill="none"/></g>
<g clip-path="url(#t3)"><rect x="0" y="0" width="43.1" height="43.9" filter="url(#ntex)" opacity="0.2"/><g filter="url(#soft2)"><circle cx="10.2" cy="23.9" r="0.44" fill="#3b3056" opacity="0.27"/><circle cx="26.9" cy="2.9" r="0.35" fill="#3b3056" opacity="0.32"/><circle cx="11.2" cy="10.3" r="0.60" fill="#3b3056" opacity="0.24"/><circle cx="36.0" cy="21.0" r="0.51" fill="#3b3056" opacity="0.18"/><circle cx="27.3" cy="38.2" r="0.48" fill="#3b3056" opacity="0.30"/><circle cx="28.9" cy="2.8" r="0.54" fill="#3b3056" opacity="0.27"/><circle cx="13.0" cy="1.4" r="0.57" fill="#3b3056" opacity="0.24"/><circle cx="30.9" cy="38.7" r="0.53" fill="#3b3056" opacity="0.33"/><circle cx="17.0" cy="35.2" r="0.46" fill="#3b3056" opacity="0.34"/><circle cx="37.8" cy="4.3" r="0.38" fill="#3b3056" opacity="0.19"/><circle cx="41.5" cy="19.2" r="0.51" fill="#3b3056" opacity="0.21"/><circle cx="21.8" cy="17.0" r="0.44" fill="#3b3056" opacity="0.27"/><circle cx="25.1" cy="39.8" r="0.52" fill="#3b3056" opacity="0.34"/><circle cx="36.8" cy="43.6" r="0.52" fill="#3b3056" opacity="0.18"/><circle cx="37.0" cy="42.4" r="0.58" fill="#3b3056" opacity="0.26"/><circle cx="30.7" cy="9.3" r="0.56" fill="#3b3056" opacity="0.26"/><circle cx="12.3" cy="2.8" r="0.56" fill="#3b3056" opacity="0.35"/><circle cx="3.8" cy="35.2" r="0.45" fill="#3b3056" opacity="0.18"/><circle cx="12.6" cy="33.8" r="0.57" fill="#3b3056" opacity="0.16"/><circle cx="26.4" cy="2.0" r="0.53" fill="#3b3056" opacity="0.22"/><circle cx="37.9" cy="43.1" r="0.48" fill="#3b3056" opacity="0.35"/><circle cx="13.3" cy="3.4" r="0.50" fill="#3b3056" opacity="0.16"/><circle cx="8.5" cy="17.9" r="0.50" fill="#3b3056" opacity="0.18"/><circle cx="1.8" cy="38.2" r="0.43" fill="#3b3056" opacity="0.34"/><circle cx="38.6" cy="16.6" r="0.47" fill="#3b3056" opacity="0.25"/><circle cx="27.7" cy="26.2" r="0.49" fill="#3b3056" opacity="0.27"/><circle cx="40.4" cy="22.3" r="0.46" fill="#3b3056" opacity="0.29"/><circle cx="10.2" cy="13.2" r="0.59" fill="#3b3056" opacity="0.25"/><circle cx="23.6" cy="0.5" r="0.45" fill="#3b3056" opacity="0.27"/><circle cx="0.9" cy="27.1" r="0.51" fill="#3b3056" opacity="0.16"/><circle cx="27.0" cy="20.5" r="0.52" fill="#3b3056" opacity="0.22"/><circle cx="30.4" cy="32.5" r="0.36" fill="#3b3056" opacity="0.16"/><circle cx="29.1" cy="42.4" r="0.41" fill="#3b3056" opacity="0.24"/><circle cx="25.5" cy="14.1" r="0.44" fill="#3b3056" opacity="0.21"/><circle cx="15.9" cy="26.2" r="0.43" fill="#3b3056" opacity="0.23"/><circle cx="33.2" cy="1.2" r="0.49" fill="#3b3056" opacity="0.30"/><circle cx="13.3" cy="9.8" r="0.55" fill="#3b3056" opacity="0.20"/><circle cx="8.1" cy="19.2" r="0.52" fill="#3b3056" opacity="0.17"/><circle cx="13.8" cy="14.7" r="0.56" fill="#3b3056" opacity="0.24"/><circle cx="36.8" cy="7.4" r="0.43" fill="#3b3056" opacity="0.28"/><circle cx="38.1" cy="19.8" r="0.41" fill="#3b3056" opacity="0.17"/><circle cx="22.8" cy="8.4" r="0.55" fill="#3b3056" opacity="0.32"/><circle cx="7.9" cy="12.3" r="0.55" fill="#3b3056" opacity="0.28"/><circle cx="34.7" cy="15.2" r="0.38" fill="#3b3056" opacity="0.21"/><circle cx="34.1" cy="11.9" r="0.44" fill="#3b3056" opacity="0.23"/><circle cx="18.1" cy="18.0" r="0.58" fill="#3b3056" opacity="0.18"/><circle cx="0.2" cy="41.5" r="0.57" fill="#3b3056" opacity="0.35"/><circle cx="18.7" cy="41.8" r="0.58" fill="#3b3056" opacity="0.19"/><circle cx="32.1" cy="36.8" r="0.52" fill="#3b3056" opacity="0.25"/><circle cx="12.4" cy="15.0" r="0.41" fill="#3b3056" opacity="0.16"/><circle cx="25.3" cy="12.6" r="0.55" fill="#3b3056" opacity="0.16"/><circle cx="38.9" cy="30.5" r="0.58" fill="#3b3056" opacity="0.33"/><circle cx="38.7" cy="25.4" r="0.35" fill="#3b3056" opacity="0.30"/><circle cx="7.4" cy="13.2" r="0.52" fill="#3b3056" opacity="0.25"/><circle cx="17.8" cy="41.3" r="0.50" fill="#3b3056" opacity="0.22"/><circle cx="10.9" cy="37.9" r="0.47" fill="#3b3056" opacity="0.31"/><circle cx="15.1" cy="8.7" r="0.48" fill="#3b3056" opacity="0.31"/><circle cx="7.4" cy="34.8" r="0.58" fill="#3b3056" opacity="0.31"/><circle cx="35.4" cy="0.3" r="0.51" fill="#3b3056" opacity="0.32"/><circle cx="2.1" cy="11.9" r="0.42" fill="#3b3056" opacity="0.26"/><circle cx="18.2" cy="20.8" r="0.54" fill="#3b3056" opacity="0.15"/><circle cx="2.4" cy="5.6" r="0.38" fill="#3b3056" opacity="0.16"/><circle cx="41.9" cy="37.6" r="0.37" fill="#3b3056" opacity="0.25"/><circle cx="13.6" cy="13.8" r="0.44" fill="#3b3056" opacity="0.28"/><circle cx="25.2" cy="15.9" r="0.40" fill="#3b3056" opacity="0.22"/><circle cx="5.3" cy="24.4" r="0.53" fill="#3b3056" opacity="0.23"/><circle cx="3.4" cy="7.9" r="0.44" fill="#3b3056" opacity="0.27"/><circle cx="33.7" cy="16.7" r="0.55" fill="#3b3056" opacity="0.27"/><circle cx="18.6" cy="16.4" r="0.47" fill="#3b3056" opacity="0.29"/><circle cx="18.1" cy="30.5" r="0.47" fill="#3b3056" opacity="0.20"/><circle cx="23.0" cy="30.6" r="0.37" fill="#3b3056" opacity="0.23"/><circle cx="18.3" cy="38.7" r="0.58" fill="#3b3056" opacity="0.22"/><circle cx="38.6" cy="34.8" r="0.42" fill="#3b3056" opacity="0.24"/><circle cx="5.3" cy="35.8" r="0.52" fill="#3b3056" opacity="0.33"/><circle cx="34.1" cy="29.4" r="0.53" fill="#3b3056" opacity="0.26"/><circle cx="4.4" cy="25.9" r="0.35" fill="#3b3056" opacity="0.18"/><circle cx="33.3" cy="1.9" r="0.37" fill="#3b3056" opacity="0.17"/><circle cx="37.9" cy="7.9" r="0.36" fill="#3b3056" opacity="0.32"/><circle cx="5.2" cy="37.1" r="0.52" fill="#3b3056" opacity="0.32"/><circle cx="41.0" cy="25.5" r="0.55" fill="#3b3056" opacity="0.16"/><circle cx="33.0" cy="11.2" r="0.61" fill="#3b3056" opacity="0.33"/><circle cx="32.2" cy="18.8" r="0.42" fill="#3b3056" opacity="0.40"/><circle cx="24.3" cy="16.9" r="0.47" fill="#3b3056" opacity="0.35"/><circle cx="10.7" cy="13.1" r="0.63" fill="#3b3056" opacity="0.42"/><circle cx="15.8" cy="9.1" r="0.51" fill="#3b3056" opacity="0.43"/><circle cx="3.6" cy="11.0" r="0.69" fill="#3b3056" opacity="0.42"/><circle cx="32.1" cy="4.9" r="0.61" fill="#3b3056" opacity="0.53"/><circle cx="29.0" cy="11.3" r="0.55" fill="#3b3056" opacity="0.49"/><circle cx="38.6" cy="4.7" r="0.43" fill="#3b3056" opacity="0.52"/><circle cx="39.4" cy="11.3" r="0.53" fill="#3b3056" opacity="0.52"/><circle cx="8.0" cy="6.8" r="0.46" fill="#3b3056" opacity="0.48"/><circle cx="13.5" cy="6.2" r="0.61" fill="#3b3056" opacity="0.59"/><circle cx="12.7" cy="14.7" r="0.52" fill="#3b3056" opacity="0.56"/><circle cx="25.1" cy="6.8" r="0.47" fill="#3b3056" opacity="0.31"/><circle cx="20.6" cy="8.9" r="0.45" fill="#3b3056" opacity="0.41"/><circle cx="13.8" cy="15.9" r="0.44" fill="#3b3056" opacity="0.60"/><circle cx="20.6" cy="12.8" r="0.54" fill="#3b3056" opacity="0.55"/><circle cx="35.3" cy="12.0" r="0.54" fill="#3b3056" opacity="0.52"/><circle cx="36.8" cy="9.2" r="0.62" fill="#3b3056" opacity="0.59"/><circle cx="20.1" cy="6.1" r="0.47" fill="#3b3056" opacity="0.52"/><circle cx="29.0" cy="19.3" r="0.66" fill="#3b3056" opacity="0.37"/><circle cx="8.2" cy="6.7" r="0.46" fill="#3b3056" opacity="0.51"/><circle cx="36.9" cy="18.2" r="0.48" fill="#3b3056" opacity="0.56"/><circle cx="13.5" cy="9.6" r="0.62" fill="#3b3056" opacity="0.33"/><circle cx="4.0" cy="17.0" r="0.49" fill="#3b3056" opacity="0.41"/><circle cx="25.0" cy="14.2" r="0.40" fill="#3b3056" opacity="0.40"/><circle cx="18.8" cy="10.7" r="0.46" fill="#3b3056" opacity="0.48"/><circle cx="41.1" cy="9.0" r="0.56" fill="#3b3056" opacity="0.34"/><circle cx="11.8" cy="14.0" r="0.43" fill="#3b3056" opacity="0.57"/><circle cx="39.1" cy="3.7" r="0.68" fill="#3b3056" opacity="0.41"/><circle cx="33.2" cy="15.6" r="0.49" fill="#3b3056" opacity="0.50"/><circle cx="28.1" cy="16.5" r="0.48" fill="#3b3056" opacity="0.53"/><circle cx="41.3" cy="14.1" r="0.56" fill="#3b3056" opacity="0.33"/><circle cx="21.2" cy="8.3" r="0.62" fill="#3b3056" opacity="0.50"/><circle cx="24.4" cy="5.3" r="0.59" fill="#3b3056" opacity="0.49"/><circle cx="7.7" cy="18.0" r="0.60" fill="#3b3056" opacity="0.34"/><circle cx="40.1" cy="4.5" r="0.50" fill="#3b3056" opacity="0.52"/><circle cx="25.7" cy="12.0" r="0.59" fill="#3b3056" opacity="0.44"/><circle cx="13.4" cy="5.2" r="0.42" fill="#3b3056" opacity="0.51"/><circle cx="32.4" cy="11.8" r="0.62" fill="#3b3056" opacity="0.41"/><circle cx="11.4" cy="8.9" r="0.66" fill="#3b3056" opacity="0.31"/><circle cx="21.7" cy="6.4" r="0.63" fill="#3b3056" opacity="0.41"/><circle cx="14.3" cy="9.3" r="0.56" fill="#3b3056" opacity="0.53"/><circle cx="15.2" cy="17.2" r="0.43" fill="#3b3056" opacity="0.38"/><circle cx="4.3" cy="4.0" r="0.63" fill="#3b3056" opacity="0.52"/><circle cx="7.9" cy="5.4" r="0.52" fill="#3b3056" opacity="0.52"/><circle cx="35.1" cy="15.5" r="0.58" fill="#3b3056" opacity="0.34"/><circle cx="17.1" cy="5.5" r="0.56" fill="#3b3056" opacity="0.47"/><circle cx="8.7" cy="6.5" r="0.63" fill="#3b3056" opacity="0.31"/><circle cx="34.5" cy="18.0" r="0.68" fill="#3b3056" opacity="0.41"/><circle cx="23.8" cy="12.5" r="0.59" fill="#3b3056" opacity="0.59"/><circle cx="29.5" cy="7.4" r="0.66" fill="#3b3056" opacity="0.45"/><circle cx="25.9" cy="15.1" r="0.40" fill="#3b3056" opacity="0.53"/><circle cx="28.5" cy="10.9" r="0.56" fill="#3b3056" opacity="0.44"/><circle cx="8.3" cy="11.5" r="0.41" fill="#3b3056" opacity="0.45"/><circle cx="27.8" cy="10.0" r="0.57" fill="#3b3056" opacity="0.59"/><circle cx="38.4" cy="4.4" r="0.64" fill="#3b3056" opacity="0.49"/><circle cx="2.2" cy="8.5" r="0.47" fill="#3b3056" opacity="0.32"/><circle cx="23.2" cy="18.7" r="0.50" fill="#3b3056" opacity="0.56"/><circle cx="29.9" cy="4.4" r="0.66" fill="#3b3056" opacity="0.48"/><circle cx="39.9" cy="14.9" r="0.62" fill="#3b3056" opacity="0.40"/><circle cx="34.7" cy="18.8" r="0.66" fill="#3b3056" opacity="0.43"/><circle cx="32.5" cy="10.7" r="0.43" fill="#3b3056" opacity="0.31"/><circle cx="3.4" cy="5.6" r="0.45" fill="#3b3056" opacity="0.45"/><circle cx="30.1" cy="11.7" r="0.53" fill="#3b3056" opacity="0.49"/><circle cx="13.1" cy="10.4" r="0.63" fill="#3b3056" opacity="0.42"/><circle cx="7.8" cy="18.2" r="0.62" fill="#3b3056" opacity="0.41"/><circle cx="16.0" cy="11.5" r="0.58" fill="#3b3056" opacity="0.37"/><circle cx="0.1" cy="5.8" r="0.63" fill="#3b3056" opacity="0.34"/><circle cx="19.8" cy="5.5" r="0.46" fill="#3b3056" opacity="0.35"/><circle cx="17.4" cy="5.0" r="0.41" fill="#3b3056" opacity="0.33"/><circle cx="7.2" cy="10.8" r="0.42" fill="#3b3056" opacity="0.31"/><circle cx="19.3" cy="9.3" r="0.61" fill="#3b3056" opacity="0.32"/><circle cx="17.3" cy="9.1" r="0.41" fill="#3b3056" opacity="0.59"/><circle cx="9.4" cy="3.7" r="0.54" fill="#3b3056" opacity="0.35"/><circle cx="26.8" cy="8.2" r="0.44" fill="#3b3056" opacity="0.32"/><circle cx="31.3" cy="7.0" r="0.64" fill="#3b3056" opacity="0.44"/><circle cx="40.1" cy="7.4" r="0.47" fill="#3b3056" opacity="0.38"/><circle cx="35.0" cy="13.3" r="0.50" fill="#3b3056" opacity="0.33"/><circle cx="29.3" cy="19.4" r="0.58" fill="#3b3056" opacity="0.30"/><circle cx="1.3" cy="4.0" r="0.35" fill="#d8d4de" opacity="0.16"/><circle cx="2.3" cy="28.8" r="0.57" fill="#d8d4de" opacity="0.19"/><circle cx="41.9" cy="21.0" r="0.54" fill="#d8d4de" opacity="0.33"/><circle cx="40.4" cy="1.5" r="0.39" fill="#d8d4de" opacity="0.27"/><circle cx="40.7" cy="3.9" r="0.39" fill="#d8d4de" opacity="0.32"/><circle cx="4.9" cy="17.2" r="0.40" fill="#d8d4de" opacity="0.29"/><circle cx="39.9" cy="7.7" r="0.52" fill="#d8d4de" opacity="0.30"/><circle cx="35.9" cy="24.3" r="0.58" fill="#d8d4de" opacity="0.22"/><circle cx="17.8" cy="10.1" r="0.53" fill="#d8d4de" opacity="0.25"/><circle cx="11.6" cy="7.5" r="0.52" fill="#d8d4de" opacity="0.27"/><circle cx="30.6" cy="17.0" r="0.45" fill="#d8d4de" opacity="0.18"/><circle cx="30.6" cy="1.0" r="0.44" fill="#d8d4de" opacity="0.30"/><circle cx="29.1" cy="4.3" r="0.37" fill="#d8d4de" opacity="0.32"/><circle cx="27.6" cy="38.7" r="0.56" fill="#d8d4de" opacity="0.24"/><circle cx="38.6" cy="32.2" r="0.40" fill="#d8d4de" opacity="0.22"/><circle cx="3.1" cy="17.6" r="0.59" fill="#d8d4de" opacity="0.17"/><circle cx="24.5" cy="4.8" r="0.32" fill="#d8d4de" opacity="0.28"/><circle cx="10.3" cy="2.1" r="0.35" fill="#d8d4de" opacity="0.28"/><circle cx="25.2" cy="0.5" r="0.37" fill="#d8d4de" opacity="0.34"/><circle cx="9.5" cy="24.7" r="0.43" fill="#d8d4de" opacity="0.31"/><circle cx="26.0" cy="34.7" r="0.46" fill="#d8d4de" opacity="0.19"/><circle cx="7.6" cy="3.5" r="0.55" fill="#d8d4de" opacity="0.17"/><circle cx="1.0" cy="42.5" r="0.36" fill="#d8d4de" opacity="0.33"/><circle cx="3.7" cy="20.5" r="0.37" fill="#d8d4de" opacity="0.32"/><circle cx="26.5" cy="28.2" r="0.53" fill="#d8d4de" opacity="0.32"/><circle cx="14.9" cy="26.5" r="0.43" fill="#d8d4de" opacity="0.17"/><circle cx="35.9" cy="26.2" r="0.54" fill="#d8d4de" opacity="0.19"/><circle cx="23.2" cy="20.4" r="0.52" fill="#d8d4de" opacity="0.17"/><circle cx="14.9" cy="21.3" r="0.32" fill="#d8d4de" opacity="0.26"/><circle cx="31.6" cy="18.6" r="0.49" fill="#d8d4de" opacity="0.27"/><circle cx="9.2" cy="15.4" r="0.60" fill="#d8d4de" opacity="0.22"/><circle cx="18.5" cy="3.7" r="0.37" fill="#d8d4de" opacity="0.18"/><circle cx="40.0" cy="32.0" r="0.56" fill="#d8d4de" opacity="0.35"/><circle cx="26.3" cy="41.0" r="0.46" fill="#d8d4de" opacity="0.23"/><circle cx="40.8" cy="39.7" r="0.58" fill="#d8d4de" opacity="0.25"/><circle cx="33.3" cy="17.9" r="0.60" fill="#d8d4de" opacity="0.33"/><circle cx="12.6" cy="41.1" r="0.36" fill="#d8d4de" opacity="0.17"/><circle cx="31.1" cy="12.9" r="0.46" fill="#d8d4de" opacity="0.28"/><circle cx="1.7" cy="32.8" r="0.38" fill="#d8d4de" opacity="0.24"/><circle cx="14.8" cy="32.7" r="0.52" fill="#d8d4de" opacity="0.21"/><circle cx="4.4" cy="13.2" r="0.42" fill="#d8d4de" opacity="0.17"/><circle cx="6.6" cy="33.6" r="0.51" fill="#d8d4de" opacity="0.35"/><circle cx="42.1" cy="38.6" r="0.41" fill="#d8d4de" opacity="0.18"/><circle cx="13.4" cy="20.4" r="0.46" fill="#d8d4de" opacity="0.26"/><circle cx="15.5" cy="37.5" r="0.39" fill="#d8d4de" opacity="0.24"/><circle cx="38.1" cy="35.5" r="0.39" fill="#d8d4de" opacity="0.20"/><circle cx="34.7" cy="0.4" r="0.34" fill="#d8d4de" opacity="0.26"/><circle cx="23.0" cy="7.3" r="0.32" fill="#d8d4de" opacity="0.19"/><circle cx="33.1" cy="20.5" r="0.59" fill="#d8d4de" opacity="0.31"/><circle cx="42.1" cy="1.5" r="0.36" fill="#d8d4de" opacity="0.15"/></g></g>
</g>
<clipPath id="c4"><rect x="0" y="0" width="43.1" height="43.9"/></clipPath>
<clipPath id="t4"><path clip-rule="evenodd" d="M-5,-5 H50 V50 H-5 Z M-3,-3 L46,-3 L46,9.8 L42.8,9.6 L34.2,7.4 L23.9,5.7 L11,3.1 L0.7,1.2 L-3,1 Z"/></clipPath>
<g clip-path="url(#c4)" transform="translate(502.9 65.6)">
<g filter="url(#soft)"><rect x="-3" y="-3" width="50" height="50" fill="#a19bad"/>
<circle cx="0" cy="45" r="36" fill="none" stroke="#b0aabb" stroke-width="1.3"/>
<circle cx="0" cy="45" r="30" fill="none" stroke="#aba5b7" stroke-width="1.0"/>
<path d="M-3,2.5 L0.7,2.6 L11,4.5 L23.9,7.1 L34.2,8.8 L46,11.2" stroke="#685d85" stroke-width="3.4" fill="none"/>
<path d="M35.6,35 L36.2,44" stroke="#4a3e70" stroke-width="1" fill="none"/>
<path d="M0,39.7 L18,39.5" stroke="#b3adbf" stroke-width="1" fill="none"/><path d="M-3,-3 L46,-3 L46,9.8 L42.8,9.6 L34.2,7.4 L23.9,5.7 L11,3.1 L0.7,1.2 L-3,1 Z" fill="#d5d5d8"/><circle cx="19.3" cy="9.1" r="1.5" fill="#2f2452"/>
<circle cx="9.5" cy="4.9" r="1.1" fill="#3f3466"/>
<circle cx="26.5" cy="8.7" r="1.1" fill="#3f3466"/>
<circle cx="31.6" cy="9.1" r="1.0" fill="#463a6c"/></g>
<g clip-path="url(#t4)"><rect x="0" y="0" width="43.1" height="43.9" filter="url(#ntex)" opacity="0.2"/><g filter="url(#soft2)"><circle cx="10.2" cy="4.5" r="0.45" fill="#3b3056" opacity="0.15"/><circle cx="2.9" cy="17.7" r="0.58" fill="#3b3056" opacity="0.26"/><circle cx="32.9" cy="9.8" r="0.48" fill="#3b3056" opacity="0.17"/><circle cx="7.4" cy="4.7" r="0.40" fill="#3b3056" opacity="0.29"/><circle cx="35.6" cy="35.5" r="0.55" fill="#3b3056" opacity="0.15"/><circle cx="13.3" cy="27.6" r="0.53" fill="#3b3056" opacity="0.27"/><circle cx="37.8" cy="3.8" r="0.50" fill="#3b3056" opacity="0.24"/><circle cx="21.8" cy="7.8" r="0.47" fill="#3b3056" opacity="0.14"/><circle cx="40.2" cy="38.1" r="0.49" fill="#3b3056" opacity="0.17"/><circle cx="39.1" cy="25.2" r="0.57" fill="#3b3056" opacity="0.27"/><circle cx="21.9" cy="18.2" r="0.50" fill="#3b3056" opacity="0.20"/><circle cx="6.9" cy="13.4" r="0.55" fill="#3b3056" opacity="0.13"/><circle cx="2.0" cy="27.6" r="0.42" fill="#3b3056" opacity="0.22"/><circle cx="20.3" cy="15.1" r="0.60" fill="#3b3056" opacity="0.16"/><circle cx="17.8" cy="8.9" r="0.51" fill="#3b3056" opacity="0.17"/><circle cx="15.3" cy="32.9" r="0.43" fill="#3b3056" opacity="0.22"/><circle cx="38.9" cy="4.4" r="0.37" fill="#3b3056" opacity="0.16"/><circle cx="32.9" cy="27.1" r="0.41" fill="#3b3056" opacity="0.18"/><circle cx="7.6" cy="20.2" r="0.36" fill="#3b3056" opacity="0.25"/><circle cx="38.5" cy="42.0" r="0.53" fill="#3b3056" opacity="0.29"/><circle cx="0.8" cy="12.7" r="0.59" fill="#3b3056" opacity="0.26"/><circle cx="17.6" cy="41.5" r="0.51" fill="#3b3056" opacity="0.27"/><circle cx="12.6" cy="8.4" r="0.46" fill="#3b3056" opacity="0.14"/><circle cx="16.4" cy="42.3" r="0.43" fill="#3b3056" opacity="0.12"/><circle cx="1.9" cy="7.5" r="0.55" fill="#3b3056" opacity="0.19"/><circle cx="12.5" cy="4.3" r="0.60" fill="#3b3056" opacity="0.20"/><circle cx="8.9" cy="2.6" r="0.36" fill="#3b3056" opacity="0.15"/><circle cx="29.1" cy="6.6" r="0.36" fill="#3b3056" opacity="0.21"/><circle cx="10.7" cy="43.9" r="0.38" fill="#3b3056" opacity="0.22"/><circle cx="33.3" cy="18.0" r="0.60" fill="#3b3056" opacity="0.21"/><circle cx="10.4" cy="18.1" r="0.36" fill="#3b3056" opacity="0.20"/><circle cx="10.7" cy="39.1" r="0.56" fill="#3b3056" opacity="0.21"/><circle cx="1.4" cy="11.2" r="0.41" fill="#3b3056" opacity="0.16"/><circle cx="10.0" cy="38.3" r="0.39" fill="#3b3056" opacity="0.13"/><circle cx="39.9" cy="24.9" r="0.60" fill="#3b3056" opacity="0.19"/><circle cx="38.7" cy="28.8" r="0.55" fill="#3b3056" opacity="0.25"/><circle cx="21.3" cy="4.1" r="0.40" fill="#3b3056" opacity="0.28"/><circle cx="38.7" cy="40.7" r="0.43" fill="#3b3056" opacity="0.24"/><circle cx="34.4" cy="28.3" r="0.55" fill="#3b3056" opacity="0.22"/><circle cx="28.2" cy="30.2" r="0.42" fill="#3b3056" opacity="0.29"/><circle cx="41.1" cy="3.3" r="0.59" fill="#3b3056" opacity="0.29"/><circle cx="28.7" cy="2.0" r="0.57" fill="#3b3056" opacity="0.14"/><circle cx="41.6" cy="29.4" r="0.37" fill="#3b3056" opacity="0.15"/><circle cx="27.3" cy="25.0" r="0.54" fill="#3b3056" opacity="0.29"/><circle cx="9.4" cy="0.1" r="0.58" fill="#3b3056" opacity="0.12"/><circle cx="37.7" cy="5.1" r="0.55" fill="#3b3056" opacity="0.26"/><circle cx="37.7" cy="24.2" r="0.57" fill="#3b3056" opacity="0.16"/><circle cx="28.9" cy="14.5" r="0.57" fill="#3b3056" opacity="0.26"/><circle cx="20.3" cy="23.2" r="0.36" fill="#3b3056" opacity="0.13"/><circle cx="25.6" cy="21.5" r="0.57" fill="#3b3056" opacity="0.23"/><circle cx="6.0" cy="16.0" r="0.54" fill="#3b3056" opacity="0.21"/><circle cx="0.5" cy="36.9" r="0.56" fill="#3b3056" opacity="0.14"/><circle cx="23.4" cy="16.8" r="0.55" fill="#3b3056" opacity="0.18"/><circle cx="10.0" cy="21.4" r="0.59" fill="#3b3056" opacity="0.14"/><circle cx="4.9" cy="27.3" r="0.57" fill="#3b3056" opacity="0.21"/><circle cx="18.7" cy="37.7" r="0.54" fill="#3b3056" opacity="0.13"/><circle cx="37.9" cy="8.6" r="0.43" fill="#3b3056" opacity="0.27"/><circle cx="18.2" cy="35.1" r="0.39" fill="#3b3056" opacity="0.28"/><circle cx="7.6" cy="6.6" r="0.47" fill="#3b3056" opacity="0.18"/><circle cx="23.3" cy="39.8" r="0.53" fill="#3b3056" opacity="0.12"/><circle cx="13.4" cy="24.0" r="0.47" fill="#3b3056" opacity="0.25"/><circle cx="20.8" cy="3.3" r="0.41" fill="#3b3056" opacity="0.27"/><circle cx="15.3" cy="33.7" r="0.60" fill="#3b3056" opacity="0.23"/><circle cx="29.1" cy="26.8" r="0.43" fill="#3b3056" opacity="0.28"/><circle cx="20.1" cy="40.1" r="0.43" fill="#3b3056" opacity="0.28"/><circle cx="33.8" cy="27.0" r="0.46" fill="#3b3056" opacity="0.15"/><circle cx="33.2" cy="15.9" r="0.52" fill="#3b3056" opacity="0.14"/><circle cx="3.6" cy="6.3" r="0.55" fill="#3b3056" opacity="0.15"/><circle cx="38.8" cy="16.4" r="0.49" fill="#3b3056" opacity="0.18"/><circle cx="26.7" cy="4.1" r="0.45" fill="#3b3056" opacity="0.29"/><circle cx="7.7" cy="28.8" r="0.43" fill="#3b3056" opacity="0.17"/><circle cx="1.0" cy="0.9" r="0.59" fill="#3b3056" opacity="0.27"/><circle cx="34.4" cy="35.5" r="0.59" fill="#3b3056" opacity="0.15"/><circle cx="25.1" cy="21.8" r="0.49" fill="#3b3056" opacity="0.29"/><circle cx="32.7" cy="42.6" r="0.38" fill="#3b3056" opacity="0.24"/><circle cx="29.0" cy="32.8" r="0.50" fill="#3b3056" opacity="0.27"/><circle cx="13.0" cy="40.8" r="0.45" fill="#3b3056" opacity="0.23"/><circle cx="38.6" cy="31.0" r="0.43" fill="#3b3056" opacity="0.16"/><circle cx="14.0" cy="27.6" r="0.60" fill="#3b3056" opacity="0.28"/><circle cx="17.2" cy="17.6" r="0.55" fill="#3b3056" opacity="0.17"/><circle cx="17.7" cy="2.1" r="0.47" fill="#3b3056" opacity="0.46"/><circle cx="29.8" cy="8.1" r="0.55" fill="#3b3056" opacity="0.59"/><circle cx="26.8" cy="3.6" r="0.43" fill="#3b3056" opacity="0.59"/><circle cx="42.5" cy="11.2" r="0.64" fill="#3b3056" opacity="0.39"/><circle cx="3.9" cy="4.6" r="0.49" fill="#3b3056" opacity="0.58"/><circle cx="38.4" cy="9.8" r="0.46" fill="#3b3056" opacity="0.37"/><circle cx="12.9" cy="11.5" r="0.47" fill="#3b3056" opacity="0.54"/><circle cx="29.3" cy="7.5" r="0.78" fill="#3b3056" opacity="0.38"/><circle cx="22.5" cy="3.6" r="0.44" fill="#3b3056" opacity="0.31"/><circle cx="13.6" cy="3.2" r="0.42" fill="#3b3056" opacity="0.60"/><circle cx="12.4" cy="10.9" r="0.68" fill="#3b3056" opacity="0.52"/><circle cx="28.2" cy="11.5" r="0.75" fill="#3b3056" opacity="0.52"/><circle cx="24.1" cy="8.9" r="0.69" fill="#3b3056" opacity="0.47"/><circle cx="21.6" cy="3.5" r="0.74" fill="#3b3056" opacity="0.45"/><circle cx="2.9" cy="3.7" r="0.75" fill="#3b3056" opacity="0.38"/><circle cx="16.8" cy="8.8" r="0.74" fill="#3b3056" opacity="0.40"/><circle cx="16.6" cy="6.2" r="0.41" fill="#3b3056" opacity="0.56"/><circle cx="0.8" cy="11.6" r="0.46" fill="#3b3056" opacity="0.35"/><circle cx="36.5" cy="10.2" r="0.49" fill="#3b3056" opacity="0.47"/><circle cx="20.5" cy="9.2" r="0.47" fill="#3b3056" opacity="0.55"/><circle cx="42.8" cy="9.1" r="0.77" fill="#3b3056" opacity="0.58"/><circle cx="16.3" cy="10.5" r="0.73" fill="#3b3056" opacity="0.48"/><circle cx="4.6" cy="8.2" r="0.76" fill="#3b3056" opacity="0.39"/><circle cx="27.8" cy="11.0" r="0.64" fill="#3b3056" opacity="0.31"/><circle cx="27.2" cy="4.6" r="0.74" fill="#3b3056" opacity="0.50"/><circle cx="13.2" cy="11.0" r="0.65" fill="#3b3056" opacity="0.40"/><circle cx="35.9" cy="10.9" r="0.76" fill="#3b3056" opacity="0.56"/><circle cx="28.3" cy="9.0" r="0.64" fill="#3b3056" opacity="0.46"/><circle cx="42.5" cy="5.5" r="0.43" fill="#3b3056" opacity="0.51"/><circle cx="21.4" cy="7.5" r="0.64" fill="#3b3056" opacity="0.37"/><circle cx="8.6" cy="2.7" r="0.71" fill="#3b3056" opacity="0.57"/><circle cx="30.0" cy="3.2" r="0.79" fill="#3b3056" opacity="0.55"/><circle cx="21.9" cy="2.0" r="0.74" fill="#3b3056" opacity="0.49"/><circle cx="26.8" cy="2.2" r="0.69" fill="#3b3056" opacity="0.31"/><circle cx="20.6" cy="3.4" r="0.54" fill="#3b3056" opacity="0.57"/><circle cx="32.2" cy="10.2" r="0.52" fill="#3b3056" opacity="0.42"/><circle cx="26.0" cy="2.3" r="0.56" fill="#3b3056" opacity="0.59"/><circle cx="32.4" cy="10.6" r="0.52" fill="#3b3056" opacity="0.51"/><circle cx="33.9" cy="9.0" r="0.57" fill="#3b3056" opacity="0.35"/><circle cx="0.8" cy="10.9" r="0.77" fill="#3b3056" opacity="0.38"/><circle cx="32.5" cy="17.9" r="0.49" fill="#d8d4de" opacity="0.32"/><circle cx="13.8" cy="27.3" r="0.38" fill="#d8d4de" opacity="0.25"/><circle cx="1.3" cy="11.6" r="0.39" fill="#d8d4de" opacity="0.33"/><circle cx="5.7" cy="33.4" r="0.33" fill="#d8d4de" opacity="0.35"/><circle cx="7.1" cy="4.1" r="0.36" fill="#d8d4de" opacity="0.34"/><circle cx="28.8" cy="39.2" r="0.45" fill="#d8d4de" opacity="0.17"/><circle cx="14.6" cy="20.0" r="0.60" fill="#d8d4de" opacity="0.18"/><circle cx="10.5" cy="37.1" r="0.33" fill="#d8d4de" opacity="0.34"/><circle cx="12.8" cy="25.0" r="0.50" fill="#d8d4de" opacity="0.33"/><circle cx="3.3" cy="37.3" r="0.35" fill="#d8d4de" opacity="0.29"/><circle cx="1.2" cy="33.7" r="0.35" fill="#d8d4de" opacity="0.19"/><circle cx="1.5" cy="14.3" r="0.40" fill="#d8d4de" opacity="0.35"/><circle cx="26.1" cy="16.0" r="0.60" fill="#d8d4de" opacity="0.18"/><circle cx="9.2" cy="42.1" r="0.59" fill="#d8d4de" opacity="0.29"/><circle cx="42.1" cy="2.5" r="0.57" fill="#d8d4de" opacity="0.29"/><circle cx="28.7" cy="37.1" r="0.33" fill="#d8d4de" opacity="0.19"/><circle cx="5.9" cy="21.1" r="0.46" fill="#d8d4de" opacity="0.26"/><circle cx="15.6" cy="32.7" r="0.55" fill="#d8d4de" opacity="0.30"/><circle cx="1.6" cy="6.7" r="0.37" fill="#d8d4de" opacity="0.20"/><circle cx="24.7" cy="8.6" r="0.49" fill="#d8d4de" opacity="0.22"/><circle cx="15.6" cy="31.2" r="0.58" fill="#d8d4de" opacity="0.19"/><circle cx="15.0" cy="43.2" r="0.36" fill="#d8d4de" opacity="0.16"/><circle cx="8.2" cy="36.3" r="0.52" fill="#d8d4de" opacity="0.34"/><circle cx="21.4" cy="1.8" r="0.39" fill="#d8d4de" opacity="0.29"/><circle cx="16.9" cy="6.1" r="0.41" fill="#d8d4de" opacity="0.24"/><circle cx="15.3" cy="19.6" r="0.34" fill="#d8d4de" opacity="0.16"/><circle cx="33.7" cy="32.2" r="0.43" fill="#d8d4de" opacity="0.17"/><circle cx="12.7" cy="24.6" r="0.57" fill="#d8d4de" opacity="0.25"/><circle cx="41.9" cy="23.2" r="0.35" fill="#d8d4de" opacity="0.27"/><circle cx="25.8" cy="26.4" r="0.52" fill="#d8d4de" opacity="0.15"/><circle cx="18.8" cy="35.2" r="0.34" fill="#d8d4de" opacity="0.16"/><circle cx="7.9" cy="12.6" r="0.43" fill="#d8d4de" opacity="0.21"/><circle cx="27.3" cy="7.5" r="0.40" fill="#d8d4de" opacity="0.29"/><circle cx="23.4" cy="42.2" r="0.58" fill="#d8d4de" opacity="0.20"/><circle cx="14.4" cy="23.7" r="0.46" fill="#d8d4de" opacity="0.22"/><circle cx="37.1" cy="8.7" r="0.44" fill="#d8d4de" opacity="0.17"/><circle cx="38.0" cy="26.2" r="0.60" fill="#d8d4de" opacity="0.18"/><circle cx="30.6" cy="26.3" r="0.32" fill="#d8d4de" opacity="0.31"/><circle cx="37.6" cy="3.5" r="0.58" fill="#d8d4de" opacity="0.31"/><circle cx="26.0" cy="23.9" r="0.38" fill="#d8d4de" opacity="0.16"/><circle cx="20.4" cy="38.1" r="0.36" fill="#d8d4de" opacity="0.24"/><circle cx="12.1" cy="30.4" r="0.59" fill="#d8d4de" opacity="0.33"/><circle cx="12.4" cy="18.3" r="0.30" fill="#d8d4de" opacity="0.26"/><circle cx="36.7" cy="37.2" r="0.32" fill="#d8d4de" opacity="0.24"/><circle cx="3.4" cy="18.7" r="0.57" fill="#d8d4de" opacity="0.21"/><circle cx="36.4" cy="42.0" r="0.55" fill="#d8d4de" opacity="0.19"/><circle cx="39.5" cy="40.6" r="0.60" fill="#d8d4de" opacity="0.15"/><circle cx="0.2" cy="12.8" r="0.46" fill="#d8d4de" opacity="0.23"/><circle cx="4.0" cy="28.2" r="0.50" fill="#d8d4de" opacity="0.28"/><circle cx="22.0" cy="24.2" r="0.51" fill="#d8d4de" opacity="0.16"/></g></g>
</g>
<clipPath id="c5"><rect x="0" y="0" width="43.1" height="43.9"/></clipPath>
<clipPath id="t5"><path clip-rule="evenodd" d="M-5,-5 H50 V50 H-5 Z M-3,-3 L46,-3 L46,9 L42.8,9 L35.9,8.8 L31.6,9.9 L26.5,12.5 L21.3,12.9 L18.7,10.7 L15.3,9.4 L11,9 L6.7,9.4 L0,8.8 L-3,8.8 Z"/></clipPath>
<g clip-path="url(#c5)" transform="translate(457.8 111.3)">
<g filter="url(#soft)"><rect x="-3" y="-3" width="50" height="50" fill="#84768f"/>
<path d="M-3,22 C14,19.5 28,25 34,46" stroke="#b0a8bc" stroke-width="1.3" fill="none" opacity="1"/>
<path d="M-3,26 C12,24 24,28 29,46" stroke="#9a8fa6" stroke-width="1.1" fill="none" opacity="1"/>
<path d="M-3,35 C6,33 10,34 15,37" stroke="#9a8fa6" stroke-width="1.0" fill="none" opacity="1"/>
<path d="M-3,10 L0,10 L6.7,10.6 L11,10.2 L15.3,10.6 L18.7,11.9 L21.3,14.1 L26.5,13.7 L31.6,11.1 L35.9,10 L46,10.2 L46,14 L36,12.5 L28,15.5 L20,16 L10,12.5 L-3,12.5 Z" fill="#5e5077" opacity="0.85"/><path d="M-3,14 C10,13 20,16 30,16 C36,16 40,14 46,13 L46,22 C30,20 10,19 -3,20 Z" fill="#9a8ca6" opacity="0.7"/><path d="M36,12 L46,11 L46,26 C42,22 39,17 36,12 Z" fill="#6e6088" opacity="0.6"/><path d="M-3,-3 L46,-3 L46,9 L42.8,9 L35.9,8.8 L31.6,9.9 L26.5,12.5 L21.3,12.9 L18.7,10.7 L15.3,9.4 L11,9 L6.7,9.4 L0,8.8 L-3,8.8 Z" fill="#d5d5d8"/><rect x="-1" y="13.9" width="7" height="1.6" fill="#dcd8e2"/></g>
<g clip-path="url(#t5)"><rect x="0" y="0" width="43.1" height="43.9" filter="url(#ntex)" opacity="0.2"/><g filter="url(#soft2)"><circle cx="26.8" cy="35.0" r="0.55" fill="#3b3056" opacity="0.29"/><circle cx="31.8" cy="41.3" r="0.36" fill="#3b3056" opacity="0.20"/><circle cx="40.6" cy="31.7" r="0.58" fill="#3b3056" opacity="0.14"/><circle cx="20.2" cy="17.6" r="0.49" fill="#3b3056" opacity="0.22"/><circle cx="0.6" cy="16.6" r="0.42" fill="#3b3056" opacity="0.28"/><circle cx="32.9" cy="14.6" r="0.55" fill="#3b3056" opacity="0.14"/><circle cx="26.6" cy="13.4" r="0.35" fill="#3b3056" opacity="0.28"/><circle cx="9.0" cy="16.5" r="0.60" fill="#3b3056" opacity="0.28"/><circle cx="12.4" cy="42.7" r="0.48" fill="#3b3056" opacity="0.24"/><circle cx="8.8" cy="41.9" r="0.52" fill="#3b3056" opacity="0.29"/><circle cx="38.4" cy="19.5" r="0.44" fill="#3b3056" opacity="0.15"/><circle cx="6.3" cy="11.3" r="0.43" fill="#3b3056" opacity="0.23"/><circle cx="0.1" cy="32.7" r="0.43" fill="#3b3056" opacity="0.18"/><circle cx="35.2" cy="25.8" r="0.43" fill="#3b3056" opacity="0.21"/><circle cx="30.3" cy="11.0" r="0.59" fill="#3b3056" opacity="0.12"/><circle cx="32.2" cy="38.6" r="0.35" fill="#3b3056" opacity="0.26"/><circle cx="15.7" cy="29.2" r="0.35" fill="#3b3056" opacity="0.13"/><circle cx="7.8" cy="42.4" r="0.40" fill="#3b3056" opacity="0.26"/><circle cx="40.0" cy="42.0" r="0.44" fill="#3b3056" opacity="0.18"/><circle cx="22.6" cy="36.1" r="0.38" fill="#3b3056" opacity="0.25"/><circle cx="34.3" cy="39.1" r="0.36" fill="#3b3056" opacity="0.29"/><circle cx="3.9" cy="20.9" r="0.50" fill="#3b3056" opacity="0.29"/><circle cx="14.6" cy="41.3" r="0.49" fill="#3b3056" opacity="0.18"/><circle cx="13.6" cy="15.2" r="0.37" fill="#3b3056" opacity="0.15"/><circle cx="29.6" cy="43.9" r="0.39" fill="#3b3056" opacity="0.13"/><circle cx="42.4" cy="27.7" r="0.45" fill="#3b3056" opacity="0.16"/><circle cx="25.5" cy="37.9" r="0.46" fill="#3b3056" opacity="0.20"/><circle cx="2.4" cy="41.1" r="0.36" fill="#3b3056" opacity="0.21"/><circle cx="36.1" cy="13.6" r="0.53" fill="#3b3056" opacity="0.29"/><circle cx="27.1" cy="36.6" r="0.38" fill="#3b3056" opacity="0.20"/><circle cx="6.4" cy="38.6" r="0.42" fill="#3b3056" opacity="0.20"/><circle cx="43.0" cy="38.8" r="0.59" fill="#3b3056" opacity="0.20"/><circle cx="21.0" cy="34.5" r="0.47" fill="#3b3056" opacity="0.17"/><circle cx="17.4" cy="14.1" r="0.44" fill="#3b3056" opacity="0.30"/><circle cx="41.3" cy="30.9" r="0.47" fill="#3b3056" opacity="0.18"/><circle cx="3.8" cy="18.5" r="0.55" fill="#3b3056" opacity="0.28"/><circle cx="15.5" cy="36.5" r="0.54" fill="#3b3056" opacity="0.25"/><circle cx="28.6" cy="35.6" r="0.44" fill="#3b3056" opacity="0.25"/><circle cx="12.1" cy="26.0" r="0.54" fill="#3b3056" opacity="0.24"/><circle cx="12.6" cy="42.1" r="0.51" fill="#3b3056" opacity="0.22"/><circle cx="0.5" cy="28.1" r="0.41" fill="#3b3056" opacity="0.24"/><circle cx="19.9" cy="37.6" r="0.51" fill="#3b3056" opacity="0.26"/><circle cx="15.0" cy="31.5" r="0.53" fill="#3b3056" opacity="0.27"/><circle cx="15.1" cy="38.5" r="0.57" fill="#3b3056" opacity="0.24"/><circle cx="42.0" cy="42.5" r="0.48" fill="#3b3056" opacity="0.22"/><circle cx="7.1" cy="38.3" r="0.58" fill="#3b3056" opacity="0.21"/><circle cx="29.7" cy="34.2" r="0.53" fill="#3b3056" opacity="0.15"/><circle cx="33.6" cy="29.3" r="0.52" fill="#3b3056" opacity="0.20"/><circle cx="26.8" cy="36.1" r="0.51" fill="#3b3056" opacity="0.25"/><circle cx="1.2" cy="14.6" r="0.46" fill="#3b3056" opacity="0.24"/><circle cx="9.4" cy="33.0" r="0.51" fill="#3b3056" opacity="0.13"/><circle cx="20.3" cy="16.9" r="0.36" fill="#3b3056" opacity="0.14"/><circle cx="13.6" cy="15.4" r="0.40" fill="#3b3056" opacity="0.13"/><circle cx="20.0" cy="22.3" r="0.50" fill="#3b3056" opacity="0.23"/><circle cx="10.2" cy="40.6" r="0.35" fill="#3b3056" opacity="0.19"/><circle cx="12.0" cy="23.4" r="0.38" fill="#3b3056" opacity="0.27"/><circle cx="16.1" cy="10.3" r="0.50" fill="#3b3056" opacity="0.14"/><circle cx="23.4" cy="20.9" r="0.50" fill="#3b3056" opacity="0.29"/><circle cx="35.2" cy="23.7" r="0.55" fill="#3b3056" opacity="0.24"/><circle cx="15.9" cy="14.0" r="0.50" fill="#3b3056" opacity="0.22"/><circle cx="41.2" cy="42.9" r="0.50" fill="#3b3056" opacity="0.18"/><circle cx="38.4" cy="9.0" r="0.38" fill="#3b3056" opacity="0.22"/><circle cx="26.5" cy="13.9" r="0.51" fill="#3b3056" opacity="0.28"/><circle cx="16.2" cy="24.1" r="0.41" fill="#3b3056" opacity="0.17"/><circle cx="41.8" cy="22.3" r="0.59" fill="#3b3056" opacity="0.28"/><circle cx="25.6" cy="18.1" r="0.60" fill="#3b3056" opacity="0.21"/><circle cx="17.9" cy="20.2" r="0.60" fill="#3b3056" opacity="0.21"/><circle cx="12.3" cy="25.7" r="0.38" fill="#3b3056" opacity="0.23"/><circle cx="19.1" cy="19.3" r="0.55" fill="#3b3056" opacity="0.27"/><circle cx="0.6" cy="27.6" r="0.42" fill="#3b3056" opacity="0.29"/><circle cx="33.6" cy="17.6" r="0.42" fill="#3b3056" opacity="0.15"/><circle cx="42.5" cy="19.3" r="0.50" fill="#3b3056" opacity="0.21"/><circle cx="27.7" cy="30.1" r="0.54" fill="#3b3056" opacity="0.14"/><circle cx="32.7" cy="19.5" r="0.48" fill="#3b3056" opacity="0.18"/><circle cx="12.8" cy="27.5" r="0.47" fill="#3b3056" opacity="0.18"/><circle cx="32.0" cy="29.7" r="0.36" fill="#3b3056" opacity="0.17"/><circle cx="19.6" cy="41.1" r="0.57" fill="#3b3056" opacity="0.22"/><circle cx="0.6" cy="36.2" r="0.46" fill="#3b3056" opacity="0.22"/><circle cx="30.5" cy="31.1" r="0.47" fill="#3b3056" opacity="0.28"/><circle cx="16.6" cy="22.7" r="0.56" fill="#3b3056" opacity="0.16"/><circle cx="12.7" cy="38.1" r="0.32" fill="#d8d4de" opacity="0.32"/><circle cx="29.9" cy="24.1" r="0.39" fill="#d8d4de" opacity="0.31"/><circle cx="39.2" cy="14.0" r="0.44" fill="#d8d4de" opacity="0.26"/><circle cx="21.4" cy="20.6" r="0.35" fill="#d8d4de" opacity="0.27"/><circle cx="34.9" cy="11.4" r="0.37" fill="#d8d4de" opacity="0.31"/><circle cx="34.0" cy="32.2" r="0.31" fill="#d8d4de" opacity="0.29"/><circle cx="42.1" cy="43.9" r="0.51" fill="#d8d4de" opacity="0.16"/><circle cx="36.2" cy="16.7" r="0.49" fill="#d8d4de" opacity="0.34"/><circle cx="30.6" cy="13.7" r="0.39" fill="#d8d4de" opacity="0.33"/><circle cx="6.4" cy="30.4" r="0.42" fill="#d8d4de" opacity="0.18"/><circle cx="26.8" cy="10.5" r="0.33" fill="#d8d4de" opacity="0.23"/><circle cx="3.1" cy="11.0" r="0.47" fill="#d8d4de" opacity="0.30"/><circle cx="37.8" cy="13.7" r="0.43" fill="#d8d4de" opacity="0.21"/><circle cx="25.8" cy="26.1" r="0.58" fill="#d8d4de" opacity="0.22"/><circle cx="2.4" cy="33.4" r="0.35" fill="#d8d4de" opacity="0.28"/><circle cx="21.8" cy="40.9" r="0.47" fill="#d8d4de" opacity="0.27"/><circle cx="11.3" cy="28.3" r="0.38" fill="#d8d4de" opacity="0.30"/><circle cx="22.2" cy="13.7" r="0.37" fill="#d8d4de" opacity="0.22"/><circle cx="31.7" cy="15.3" r="0.51" fill="#d8d4de" opacity="0.28"/><circle cx="3.7" cy="32.4" r="0.33" fill="#d8d4de" opacity="0.17"/><circle cx="25.5" cy="17.4" r="0.56" fill="#d8d4de" opacity="0.25"/><circle cx="13.9" cy="36.9" r="0.31" fill="#d8d4de" opacity="0.30"/><circle cx="2.3" cy="14.3" r="0.59" fill="#d8d4de" opacity="0.29"/><circle cx="9.6" cy="13.1" r="0.59" fill="#d8d4de" opacity="0.28"/><circle cx="35.3" cy="13.9" r="0.49" fill="#d8d4de" opacity="0.22"/><circle cx="10.1" cy="20.7" r="0.48" fill="#d8d4de" opacity="0.22"/><circle cx="16.6" cy="13.8" r="0.55" fill="#d8d4de" opacity="0.28"/><circle cx="34.6" cy="24.2" r="0.56" fill="#d8d4de" opacity="0.25"/><circle cx="25.5" cy="29.1" r="0.52" fill="#d8d4de" opacity="0.23"/><circle cx="4.2" cy="10.2" r="0.36" fill="#d8d4de" opacity="0.16"/><circle cx="38.2" cy="25.8" r="0.53" fill="#d8d4de" opacity="0.15"/><circle cx="20.2" cy="40.1" r="0.49" fill="#d8d4de" opacity="0.24"/><circle cx="20.0" cy="12.5" r="0.35" fill="#d8d4de" opacity="0.18"/><circle cx="16.1" cy="22.5" r="0.56" fill="#d8d4de" opacity="0.18"/><circle cx="10.9" cy="18.7" r="0.35" fill="#d8d4de" opacity="0.21"/><circle cx="10.1" cy="25.9" r="0.31" fill="#d8d4de" opacity="0.33"/><circle cx="15.9" cy="41.8" r="0.51" fill="#d8d4de" opacity="0.28"/><circle cx="20.3" cy="42.1" r="0.34" fill="#d8d4de" opacity="0.28"/><circle cx="12.5" cy="32.6" r="0.52" fill="#d8d4de" opacity="0.18"/><circle cx="8.6" cy="9.9" r="0.37" fill="#d8d4de" opacity="0.17"/></g></g>
</g>
<clipPath id="c6"><rect x="0" y="0" width="43.1" height="43.9"/></clipPath>
<clipPath id="t6"><path clip-rule="evenodd" d="M-5,-5 H50 V50 H-5 Z M-3,-3 L46,-3 L46,15 L42.8,15 L35.1,11.2 L28.2,8.6 L22.2,7.7 L15.3,7.3 L6.7,4.7 L0.7,1.3 L-3,0 Z"/></clipPath>
<g clip-path="url(#c6)" transform="translate(502.9 111.3)">
<g filter="url(#soft)"><rect x="-3" y="-3" width="50" height="50" fill="#9793a2"/>
<path d="M-3,0 L0.7,1.3 L6.7,4.7 L15.3,7.3 L22.2,7.7 L28.2,8.6 L35.1,11.2 L46,15 L46,46 L41,46 C41,32 38,22 26,16 C16,12 8,12 3,16 L2,46 L-3,46 Z" fill="#5f5880" opacity="0.75"/>
<path d="M-3,0 L0.7,1.3 L6.7,4.7 L15.3,7.3 L22.2,7.7 L28.2,8.6 L35.1,11.2 L46,15 L46,24 C38,18 30,13 20,12 C10,10 2,8 -3,7 Z" fill="#524a72" opacity="0.85"/>
<path d="M23,19 C30,24 34,32 34,46" stroke="#a8a4b3" stroke-width="1.1" fill="none" opacity="1"/><path d="M-3,-3 L46,-3 L46,15 L42.8,15 L35.1,11.2 L28.2,8.6 L22.2,7.7 L15.3,7.3 L6.7,4.7 L0.7,1.3 L-3,0 Z" fill="#d2d2d5"/><circle cx="10.3" cy="29.3" r="1.3" fill="#4e4374" opacity="0.85"/>
<circle cx="15.9" cy="30.9" r="1.2" fill="#4e4374" opacity="0.85"/>
<circle cx="6" cy="33" r="0.9" fill="#6a5f8c" opacity="0.7"/>
<circle cx="21" cy="28" r="0.9" fill="#6a5f8c" opacity="0.7"/>
<circle cx="26" cy="31" r="0.9" fill="#6a5f8c" opacity="0.6"/></g>
<g clip-path="url(#t6)"><rect x="0" y="0" width="43.1" height="43.9" filter="url(#ntex)" opacity="0.2"/><g filter="url(#soft2)"><circle cx="34.1" cy="38.3" r="0.52" fill="#3b3056" opacity="0.20"/><circle cx="0.0" cy="33.2" r="0.51" fill="#3b3056" opacity="0.30"/><circle cx="16.0" cy="36.6" r="0.45" fill="#3b3056" opacity="0.31"/><circle cx="31.4" cy="25.2" r="0.54" fill="#3b3056" opacity="0.29"/><circle cx="8.3" cy="29.7" r="0.63" fill="#3b3056" opacity="0.20"/><circle cx="34.5" cy="33.9" r="0.65" fill="#3b3056" opacity="0.22"/><circle cx="4.0" cy="37.6" r="0.63" fill="#3b3056" opacity="0.24"/><circle cx="4.0" cy="18.3" r="0.57" fill="#3b3056" opacity="0.21"/><circle cx="40.9" cy="30.8" r="0.42" fill="#3b3056" opacity="0.28"/><circle cx="15.5" cy="41.8" r="0.67" fill="#3b3056" opacity="0.25"/><circle cx="27.7" cy="34.3" r="0.63" fill="#3b3056" opacity="0.35"/><circle cx="1.2" cy="23.6" r="0.56" fill="#3b3056" opacity="0.21"/><circle cx="25.3" cy="14.9" r="0.66" fill="#3b3056" opacity="0.26"/><circle cx="5.0" cy="33.2" r="0.46" fill="#3b3056" opacity="0.19"/><circle cx="20.8" cy="16.4" r="0.42" fill="#3b3056" opacity="0.32"/><circle cx="30.0" cy="12.4" r="0.62" fill="#3b3056" opacity="0.15"/><circle cx="14.3" cy="40.9" r="0.57" fill="#3b3056" opacity="0.21"/><circle cx="16.2" cy="24.5" r="0.39" fill="#3b3056" opacity="0.35"/><circle cx="2.3" cy="25.5" r="0.61" fill="#3b3056" opacity="0.23"/><circle cx="42.2" cy="19.8" r="0.69" fill="#3b3056" opacity="0.33"/><circle cx="28.8" cy="40.5" r="0.51" fill="#3b3056" opacity="0.32"/><circle cx="34.2" cy="28.5" r="0.51" fill="#3b3056" opacity="0.29"/><circle cx="17.6" cy="14.7" r="0.61" fill="#3b3056" opacity="0.20"/><circle cx="21.0" cy="37.1" r="0.41" fill="#3b3056" opacity="0.15"/><circle cx="5.3" cy="30.9" r="0.48" fill="#3b3056" opacity="0.20"/><circle cx="19.4" cy="41.7" r="0.44" fill="#3b3056" opacity="0.23"/><circle cx="37.8" cy="31.6" r="0.44" fill="#3b3056" opacity="0.24"/><circle cx="20.6" cy="16.5" r="0.48" fill="#3b3056" opacity="0.21"/><circle cx="34.6" cy="22.3" r="0.58" fill="#3b3056" opacity="0.34"/><circle cx="39.7" cy="24.0" r="0.56" fill="#3b3056" opacity="0.21"/><circle cx="17.1" cy="27.6" r="0.63" fill="#3b3056" opacity="0.34"/><circle cx="12.5" cy="12.2" r="0.51" fill="#3b3056" opacity="0.16"/><circle cx="1.3" cy="36.8" r="0.39" fill="#3b3056" opacity="0.29"/><circle cx="15.6" cy="42.0" r="0.65" fill="#3b3056" opacity="0.16"/><circle cx="8.3" cy="42.3" r="0.56" fill="#3b3056" opacity="0.23"/><circle cx="33.6" cy="38.0" r="0.52" fill="#3b3056" opacity="0.24"/><circle cx="4.3" cy="23.6" r="0.40" fill="#3b3056" opacity="0.28"/><circle cx="26.1" cy="16.6" r="0.57" fill="#3b3056" opacity="0.17"/><circle cx="4.5" cy="32.7" r="0.51" fill="#3b3056" opacity="0.33"/><circle cx="27.1" cy="34.4" r="0.39" fill="#3b3056" opacity="0.32"/><circle cx="3.6" cy="31.8" r="0.67" fill="#3b3056" opacity="0.33"/><circle cx="38.4" cy="26.5" r="0.59" fill="#3b3056" opacity="0.31"/><circle cx="5.9" cy="42.2" r="0.67" fill="#3b3056" opacity="0.24"/><circle cx="33.5" cy="26.3" r="0.45" fill="#3b3056" opacity="0.29"/><circle cx="2.7" cy="37.6" r="0.69" fill="#3b3056" opacity="0.21"/><circle cx="40.4" cy="14.7" r="0.65" fill="#3b3056" opacity="0.21"/><circle cx="41.5" cy="25.8" r="0.67" fill="#3b3056" opacity="0.16"/><circle cx="3.7" cy="38.1" r="0.57" fill="#3b3056" opacity="0.26"/><circle cx="1.4" cy="17.5" r="0.48" fill="#3b3056" opacity="0.16"/><circle cx="42.7" cy="36.5" r="0.68" fill="#3b3056" opacity="0.29"/><circle cx="14.8" cy="14.5" r="0.61" fill="#3b3056" opacity="0.17"/><circle cx="23.5" cy="26.8" r="0.52" fill="#3b3056" opacity="0.17"/><circle cx="3.2" cy="28.6" r="0.36" fill="#3b3056" opacity="0.26"/><circle cx="6.5" cy="21.0" r="0.40" fill="#3b3056" opacity="0.26"/><circle cx="16.7" cy="19.1" r="0.43" fill="#3b3056" opacity="0.26"/><circle cx="39.2" cy="25.4" r="0.41" fill="#3b3056" opacity="0.21"/><circle cx="10.3" cy="30.3" r="0.63" fill="#3b3056" opacity="0.26"/><circle cx="8.1" cy="22.4" r="0.48" fill="#3b3056" opacity="0.24"/><circle cx="17.1" cy="43.9" r="0.54" fill="#3b3056" opacity="0.28"/><circle cx="30.8" cy="32.6" r="0.63" fill="#3b3056" opacity="0.22"/><circle cx="28.7" cy="43.1" r="0.41" fill="#3b3056" opacity="0.28"/><circle cx="16.5" cy="14.0" r="0.36" fill="#3b3056" opacity="0.30"/><circle cx="4.9" cy="34.8" r="0.39" fill="#3b3056" opacity="0.22"/><circle cx="1.4" cy="29.4" r="0.63" fill="#3b3056" opacity="0.20"/><circle cx="24.3" cy="41.5" r="0.45" fill="#3b3056" opacity="0.24"/><circle cx="31.1" cy="39.7" r="0.41" fill="#3b3056" opacity="0.28"/><circle cx="5.2" cy="15.6" r="0.69" fill="#3b3056" opacity="0.16"/><circle cx="39.6" cy="36.0" r="0.59" fill="#3b3056" opacity="0.30"/><circle cx="28.0" cy="21.2" r="0.51" fill="#3b3056" opacity="0.19"/><circle cx="36.9" cy="36.9" r="0.63" fill="#3b3056" opacity="0.19"/><circle cx="25.5" cy="20.2" r="0.63" fill="#3b3056" opacity="0.30"/><circle cx="42.8" cy="34.7" r="0.59" fill="#3b3056" opacity="0.31"/><circle cx="4.0" cy="31.1" r="0.36" fill="#3b3056" opacity="0.22"/><circle cx="5.0" cy="42.4" r="0.36" fill="#3b3056" opacity="0.33"/><circle cx="40.8" cy="25.9" r="0.64" fill="#3b3056" opacity="0.16"/><circle cx="6.0" cy="12.3" r="0.37" fill="#3b3056" opacity="0.15"/><circle cx="35.6" cy="14.8" r="0.56" fill="#3b3056" opacity="0.20"/><circle cx="5.7" cy="25.4" r="0.41" fill="#3b3056" opacity="0.35"/><circle cx="16.5" cy="31.0" r="0.55" fill="#3b3056" opacity="0.28"/><circle cx="20.7" cy="20.6" r="0.40" fill="#3b3056" opacity="0.33"/><circle cx="34.1" cy="25.2" r="0.72" fill="#3b3056" opacity="0.47"/><circle cx="42.4" cy="37.5" r="0.61" fill="#3b3056" opacity="0.34"/><circle cx="38.5" cy="26.1" r="0.74" fill="#3b3056" opacity="0.46"/><circle cx="39.6" cy="37.6" r="0.59" fill="#3b3056" opacity="0.55"/><circle cx="41.9" cy="15.2" r="0.77" fill="#3b3056" opacity="0.56"/><circle cx="41.4" cy="21.5" r="0.50" fill="#3b3056" opacity="0.34"/><circle cx="36.1" cy="39.1" r="0.55" fill="#3b3056" opacity="0.30"/><circle cx="35.4" cy="12.8" r="0.65" fill="#3b3056" opacity="0.53"/><circle cx="42.2" cy="13.0" r="0.55" fill="#3b3056" opacity="0.34"/><circle cx="42.0" cy="38.5" r="0.61" fill="#3b3056" opacity="0.59"/><circle cx="37.7" cy="36.4" r="0.60" fill="#3b3056" opacity="0.41"/><circle cx="42.9" cy="38.6" r="0.64" fill="#3b3056" opacity="0.56"/><circle cx="39.1" cy="37.1" r="0.43" fill="#3b3056" opacity="0.34"/><circle cx="33.2" cy="30.5" r="0.69" fill="#3b3056" opacity="0.35"/><circle cx="37.6" cy="13.9" r="0.68" fill="#3b3056" opacity="0.53"/><circle cx="33.0" cy="43.3" r="0.67" fill="#3b3056" opacity="0.34"/><circle cx="35.9" cy="15.4" r="0.69" fill="#3b3056" opacity="0.58"/><circle cx="33.9" cy="16.3" r="0.65" fill="#3b3056" opacity="0.56"/><circle cx="40.1" cy="25.6" r="0.44" fill="#3b3056" opacity="0.48"/><circle cx="37.0" cy="37.3" r="0.63" fill="#3b3056" opacity="0.52"/><circle cx="42.7" cy="31.3" r="0.76" fill="#3b3056" opacity="0.38"/><circle cx="32.0" cy="40.0" r="0.41" fill="#3b3056" opacity="0.60"/><circle cx="37.0" cy="12.1" r="0.51" fill="#3b3056" opacity="0.52"/><circle cx="36.2" cy="31.2" r="0.44" fill="#3b3056" opacity="0.55"/><circle cx="36.1" cy="38.3" r="0.46" fill="#3b3056" opacity="0.50"/><circle cx="37.2" cy="23.8" r="0.41" fill="#3b3056" opacity="0.46"/><circle cx="41.2" cy="13.5" r="0.58" fill="#3b3056" opacity="0.30"/><circle cx="42.9" cy="43.0" r="0.67" fill="#3b3056" opacity="0.44"/><circle cx="32.8" cy="14.1" r="0.68" fill="#3b3056" opacity="0.54"/><circle cx="42.9" cy="39.3" r="0.58" fill="#3b3056" opacity="0.38"/><circle cx="38.0" cy="21.8" r="0.62" fill="#3b3056" opacity="0.57"/><circle cx="37.0" cy="43.4" r="0.69" fill="#3b3056" opacity="0.31"/><circle cx="40.2" cy="32.5" r="0.65" fill="#3b3056" opacity="0.30"/><circle cx="41.7" cy="26.8" r="0.61" fill="#3b3056" opacity="0.35"/><circle cx="32.4" cy="10.5" r="0.48" fill="#3b3056" opacity="0.39"/><circle cx="33.7" cy="12.0" r="0.69" fill="#3b3056" opacity="0.51"/><circle cx="41.7" cy="17.4" r="0.69" fill="#3b3056" opacity="0.48"/><circle cx="33.0" cy="39.8" r="0.54" fill="#3b3056" opacity="0.36"/><circle cx="34.0" cy="41.4" r="0.49" fill="#3b3056" opacity="0.42"/><circle cx="38.0" cy="22.2" r="0.66" fill="#3b3056" opacity="0.33"/><circle cx="36.7" cy="29.9" r="0.65" fill="#3b3056" opacity="0.48"/><circle cx="35.0" cy="31.7" r="0.79" fill="#3b3056" opacity="0.44"/><circle cx="39.1" cy="38.5" r="0.50" fill="#3b3056" opacity="0.38"/><circle cx="42.7" cy="20.2" r="0.57" fill="#3b3056" opacity="0.41"/><circle cx="42.9" cy="28.5" r="0.76" fill="#3b3056" opacity="0.35"/><circle cx="35.1" cy="32.1" r="0.53" fill="#3b3056" opacity="0.50"/><circle cx="37.6" cy="12.7" r="0.44" fill="#3b3056" opacity="0.43"/><circle cx="37.9" cy="16.0" r="0.51" fill="#3b3056" opacity="0.30"/><circle cx="34.9" cy="20.5" r="0.56" fill="#3b3056" opacity="0.48"/><circle cx="41.4" cy="34.4" r="0.70" fill="#3b3056" opacity="0.38"/><circle cx="21.3" cy="11.4" r="0.76" fill="#3b3056" opacity="0.37"/><circle cx="0.6" cy="2.7" r="0.61" fill="#3b3056" opacity="0.56"/><circle cx="6.6" cy="12.2" r="0.66" fill="#3b3056" opacity="0.56"/><circle cx="38.7" cy="3.4" r="0.72" fill="#3b3056" opacity="0.34"/><circle cx="5.1" cy="7.2" r="0.60" fill="#3b3056" opacity="0.32"/><circle cx="11.9" cy="4.3" r="0.45" fill="#3b3056" opacity="0.33"/><circle cx="1.0" cy="4.8" r="0.53" fill="#3b3056" opacity="0.43"/><circle cx="29.9" cy="10.0" r="0.60" fill="#3b3056" opacity="0.40"/><circle cx="26.4" cy="4.5" r="0.47" fill="#3b3056" opacity="0.33"/><circle cx="28.8" cy="3.8" r="0.49" fill="#3b3056" opacity="0.41"/><circle cx="24.3" cy="10.4" r="0.64" fill="#3b3056" opacity="0.48"/><circle cx="8.3" cy="13.9" r="0.69" fill="#3b3056" opacity="0.42"/><circle cx="17.1" cy="9.5" r="0.45" fill="#3b3056" opacity="0.49"/><circle cx="38.8" cy="6.7" r="0.60" fill="#3b3056" opacity="0.38"/><circle cx="39.1" cy="6.9" r="0.54" fill="#3b3056" opacity="0.51"/><circle cx="16.0" cy="13.8" r="0.56" fill="#3b3056" opacity="0.48"/><circle cx="13.1" cy="9.7" r="0.59" fill="#3b3056" opacity="0.33"/><circle cx="38.2" cy="4.1" r="0.63" fill="#3b3056" opacity="0.50"/><circle cx="20.2" cy="6.3" r="0.58" fill="#3b3056" opacity="0.60"/><circle cx="0.5" cy="13.5" r="0.64" fill="#3b3056" opacity="0.44"/><circle cx="27.4" cy="10.3" r="0.73" fill="#3b3056" opacity="0.59"/><circle cx="22.2" cy="6.6" r="0.54" fill="#3b3056" opacity="0.57"/><circle cx="20.6" cy="2.9" r="0.63" fill="#3b3056" opacity="0.33"/><circle cx="14.9" cy="10.5" r="0.65" fill="#3b3056" opacity="0.46"/><circle cx="35.7" cy="9.9" r="0.79" fill="#3b3056" opacity="0.54"/><circle cx="11.4" cy="12.2" r="0.54" fill="#3b3056" opacity="0.58"/><circle cx="26.6" cy="7.4" r="0.47" fill="#3b3056" opacity="0.55"/><circle cx="15.2" cy="2.2" r="0.72" fill="#3b3056" opacity="0.30"/><circle cx="1.9" cy="2.4" r="0.66" fill="#3b3056" opacity="0.47"/><circle cx="20.8" cy="14.2" r="0.59" fill="#3b3056" opacity="0.36"/><circle cx="42.8" cy="3.4" r="0.42" fill="#3b3056" opacity="0.37"/><circle cx="42.0" cy="7.4" r="0.54" fill="#3b3056" opacity="0.41"/><circle cx="15.9" cy="11.8" r="0.66" fill="#3b3056" opacity="0.38"/><circle cx="8.2" cy="12.6" r="0.62" fill="#3b3056" opacity="0.45"/><circle cx="8.6" cy="14.7" r="0.61" fill="#3b3056" opacity="0.58"/><circle cx="29.0" cy="10.3" r="0.41" fill="#3b3056" opacity="0.57"/><circle cx="36.7" cy="3.0" r="0.43" fill="#3b3056" opacity="0.50"/><circle cx="28.7" cy="4.5" r="0.80" fill="#3b3056" opacity="0.33"/><circle cx="24.5" cy="8.3" r="0.53" fill="#3b3056" opacity="0.50"/><circle cx="19.0" cy="12.0" r="0.71" fill="#3b3056" opacity="0.30"/><circle cx="14.0" cy="9.1" r="0.52" fill="#3b3056" opacity="0.48"/><circle cx="1.3" cy="3.4" r="0.60" fill="#3b3056" opacity="0.36"/><circle cx="8.9" cy="7.4" r="0.64" fill="#3b3056" opacity="0.50"/><circle cx="25.7" cy="8.5" r="0.57" fill="#3b3056" opacity="0.56"/><circle cx="37.1" cy="13.7" r="0.78" fill="#3b3056" opacity="0.50"/><circle cx="8.6" cy="11.1" r="0.51" fill="#3b3056" opacity="0.39"/><circle cx="17.2" cy="2.4" r="0.58" fill="#3b3056" opacity="0.36"/><circle cx="10.0" cy="7.6" r="0.70" fill="#3b3056" opacity="0.50"/><circle cx="13.5" cy="11.4" r="0.56" fill="#3b3056" opacity="0.41"/><circle cx="17.6" cy="5.7" r="0.46" fill="#3b3056" opacity="0.59"/><circle cx="24.3" cy="34.4" r="0.48" fill="#d8d4de" opacity="0.25"/><circle cx="25.4" cy="16.2" r="0.32" fill="#d8d4de" opacity="0.26"/><circle cx="19.8" cy="16.3" r="0.36" fill="#d8d4de" opacity="0.21"/><circle cx="36.9" cy="39.4" r="0.31" fill="#d8d4de" opacity="0.23"/><circle cx="15.9" cy="19.8" r="0.39" fill="#d8d4de" opacity="0.35"/><circle cx="35.2" cy="23.6" r="0.53" fill="#d8d4de" opacity="0.18"/><circle cx="25.5" cy="18.4" r="0.49" fill="#d8d4de" opacity="0.27"/><circle cx="37.8" cy="32.2" r="0.57" fill="#d8d4de" opacity="0.20"/><circle cx="25.2" cy="21.8" r="0.32" fill="#d8d4de" opacity="0.35"/><circle cx="4.9" cy="25.9" r="0.39" fill="#d8d4de" opacity="0.19"/><circle cx="33.1" cy="37.1" r="0.41" fill="#d8d4de" opacity="0.26"/><circle cx="32.2" cy="17.7" r="0.50" fill="#d8d4de" opacity="0.32"/><circle cx="24.6" cy="30.7" r="0.37" fill="#d8d4de" opacity="0.18"/><circle cx="10.0" cy="26.0" r="0.39" fill="#d8d4de" opacity="0.31"/><circle cx="9.4" cy="19.5" r="0.54" fill="#d8d4de" opacity="0.24"/><circle cx="7.9" cy="38.8" r="0.31" fill="#d8d4de" opacity="0.22"/><circle cx="17.8" cy="30.5" r="0.37" fill="#d8d4de" opacity="0.34"/><circle cx="23.8" cy="25.2" r="0.49" fill="#d8d4de" opacity="0.23"/><circle cx="23.1" cy="32.7" r="0.37" fill="#d8d4de" opacity="0.32"/><circle cx="7.2" cy="42.1" r="0.43" fill="#d8d4de" opacity="0.25"/><circle cx="7.6" cy="30.3" r="0.40" fill="#d8d4de" opacity="0.27"/><circle cx="27.3" cy="18.8" r="0.32" fill="#d8d4de" opacity="0.33"/><circle cx="11.0" cy="35.0" r="0.52" fill="#d8d4de" opacity="0.31"/><circle cx="4.2" cy="33.9" r="0.55" fill="#d8d4de" opacity="0.16"/><circle cx="4.2" cy="40.8" r="0.51" fill="#d8d4de" opacity="0.29"/><circle cx="30.1" cy="33.1" r="0.36" fill="#d8d4de" opacity="0.18"/><circle cx="4.5" cy="34.5" r="0.50" fill="#d8d4de" opacity="0.35"/><circle cx="12.3" cy="20.1" r="0.41" fill="#d8d4de" opacity="0.34"/><circle cx="12.1" cy="40.7" r="0.49" fill="#d8d4de" opacity="0.30"/><circle cx="7.9" cy="38.5" r="0.42" fill="#d8d4de" opacity="0.30"/><circle cx="5.6" cy="24.3" r="0.47" fill="#d8d4de" opacity="0.20"/><circle cx="22.3" cy="19.0" r="0.38" fill="#d8d4de" opacity="0.28"/><circle cx="15.2" cy="43.4" r="0.41" fill="#d8d4de" opacity="0.21"/><circle cx="17.6" cy="33.9" r="0.39" fill="#d8d4de" opacity="0.35"/><circle cx="10.8" cy="32.4" r="0.56" fill="#d8d4de" opacity="0.20"/><circle cx="11.9" cy="30.3" r="0.55" fill="#d8d4de" opacity="0.32"/><circle cx="33.1" cy="36.0" r="0.32" fill="#d8d4de" opacity="0.33"/><circle cx="9.3" cy="16.4" r="0.45" fill="#d8d4de" opacity="0.15"/><circle cx="5.5" cy="21.4" r="0.59" fill="#d8d4de" opacity="0.21"/><circle cx="33.0" cy="42.4" r="0.37" fill="#d8d4de" opacity="0.17"/><circle cx="11.4" cy="33.9" r="0.51" fill="#d8d4de" opacity="0.21"/><circle cx="30.5" cy="18.0" r="0.31" fill="#d8d4de" opacity="0.22"/><circle cx="26.4" cy="39.7" r="0.58" fill="#d8d4de" opacity="0.33"/><circle cx="37.0" cy="33.1" r="0.43" fill="#d8d4de" opacity="0.16"/><circle cx="23.3" cy="41.6" r="0.54" fill="#d8d4de" opacity="0.24"/><circle cx="25.8" cy="37.6" r="0.60" fill="#d8d4de" opacity="0.29"/><circle cx="24.1" cy="42.9" r="0.59" fill="#d8d4de" opacity="0.15"/><circle cx="36.8" cy="24.2" r="0.30" fill="#d8d4de" opacity="0.21"/><circle cx="8.4" cy="16.1" r="0.54" fill="#d8d4de" opacity="0.22"/><circle cx="7.9" cy="36.2" r="0.36" fill="#d8d4de" opacity="0.22"/></g></g>
</g>
<clipPath id="c7"><rect x="0" y="0" width="43.1" height="43.9"/></clipPath>
<clipPath id="t7"><path clip-rule="evenodd" d="M-5,-5 H50 V50 H-5 Z M-3,-3 L46,-3 L46,14.5 L42.8,14.5 L38.5,13.9 L32.5,13.9 L27.3,12.4 L23.9,9.8 L18.7,6.8 L13.6,5 L6.7,4.4 L0,3.9 L-3,3.9 Z"/></clipPath>
<g clip-path="url(#c7)" transform="translate(457.8 156.4)">
<g filter="url(#soft)"><rect x="-3" y="-3" width="50" height="50" fill="#7a6d8a"/>
<path d="M-3,27.8 C10,27.5 24,29.5 31.6,44" stroke="#998ea7" stroke-width="1.2" fill="none" opacity="1"/>
<path d="M-3,41 C4,39 8,38.5 14,39.5" stroke="#958aa3" stroke-width="1.0" fill="none" opacity="1"/>
<path d="M-3,4 L0,3.9 L6.7,4.4 L13.6,5 L18.7,6.8 L23.9,9.8 L27.3,12.4 L32.5,13.9 L38.5,13.9 L46,14.6" stroke="#4d4168" stroke-width="2.4" fill="none"/>
<path d="M4,8 C10,6 16,7 20,12 L16,15 C12,12 8,11 4,12 Z" fill="#c2bccc" opacity="0.75"/><path d="M6,9 L9,16 M11,8 L13,15 M15,9 L17,15 M37,16 L36,24" stroke="#c9c3d2" stroke-width="1.2" opacity="0.7" fill="none"/><path d="M-3,-3 L46,-3 L46,14.5 L42.8,14.5 L38.5,13.9 L32.5,13.9 L27.3,12.4 L23.9,9.8 L18.7,6.8 L13.6,5 L6.7,4.4 L0,3.9 L-3,3.9 Z" fill="#d2d2d5"/><circle cx="22.5" cy="27.7" r="0.8" fill="#e8e4ef"/></g>
<g clip-path="url(#t7)"><rect x="0" y="0" width="43.1" height="43.9" filter="url(#ntex)" opacity="0.2"/><g filter="url(#soft2)"><circle cx="13.9" cy="10.0" r="0.51" fill="#3b3056" opacity="0.16"/><circle cx="23.0" cy="18.6" r="0.36" fill="#3b3056" opacity="0.25"/><circle cx="1.6" cy="21.3" r="0.37" fill="#3b3056" opacity="0.17"/><circle cx="18.3" cy="37.1" r="0.38" fill="#3b3056" opacity="0.19"/><circle cx="27.0" cy="41.9" r="0.49" fill="#3b3056" opacity="0.23"/><circle cx="42.0" cy="5.9" r="0.56" fill="#3b3056" opacity="0.21"/><circle cx="6.2" cy="8.7" r="0.43" fill="#3b3056" opacity="0.31"/><circle cx="7.8" cy="27.3" r="0.51" fill="#3b3056" opacity="0.22"/><circle cx="23.6" cy="6.5" r="0.36" fill="#3b3056" opacity="0.19"/><circle cx="29.3" cy="21.1" r="0.43" fill="#3b3056" opacity="0.27"/><circle cx="19.5" cy="16.0" r="0.55" fill="#3b3056" opacity="0.29"/><circle cx="10.5" cy="27.0" r="0.48" fill="#3b3056" opacity="0.33"/><circle cx="31.4" cy="15.5" r="0.60" fill="#3b3056" opacity="0.17"/><circle cx="18.0" cy="34.3" r="0.39" fill="#3b3056" opacity="0.25"/><circle cx="1.7" cy="30.7" r="0.54" fill="#3b3056" opacity="0.26"/><circle cx="37.6" cy="16.5" r="0.52" fill="#3b3056" opacity="0.27"/><circle cx="24.9" cy="22.2" r="0.56" fill="#3b3056" opacity="0.34"/><circle cx="20.4" cy="30.6" r="0.37" fill="#3b3056" opacity="0.29"/><circle cx="27.8" cy="43.7" r="0.56" fill="#3b3056" opacity="0.21"/><circle cx="16.6" cy="30.7" r="0.36" fill="#3b3056" opacity="0.24"/><circle cx="7.2" cy="8.7" r="0.36" fill="#3b3056" opacity="0.30"/><circle cx="5.6" cy="13.9" r="0.45" fill="#3b3056" opacity="0.32"/><circle cx="3.5" cy="22.0" r="0.49" fill="#3b3056" opacity="0.33"/><circle cx="35.2" cy="38.6" r="0.42" fill="#3b3056" opacity="0.23"/><circle cx="15.4" cy="39.4" r="0.59" fill="#3b3056" opacity="0.18"/><circle cx="7.6" cy="13.3" r="0.41" fill="#3b3056" opacity="0.25"/><circle cx="25.3" cy="14.5" r="0.35" fill="#3b3056" opacity="0.23"/><circle cx="15.9" cy="26.7" r="0.59" fill="#3b3056" opacity="0.29"/><circle cx="22.2" cy="28.7" r="0.52" fill="#3b3056" opacity="0.16"/><circle cx="38.7" cy="35.2" r="0.57" fill="#3b3056" opacity="0.31"/><circle cx="16.9" cy="20.0" r="0.38" fill="#3b3056" opacity="0.28"/><circle cx="2.7" cy="6.7" r="0.40" fill="#3b3056" opacity="0.18"/><circle cx="14.6" cy="6.1" r="0.35" fill="#3b3056" opacity="0.18"/><circle cx="4.4" cy="18.5" r="0.36" fill="#3b3056" opacity="0.32"/><circle cx="26.4" cy="9.9" r="0.41" fill="#3b3056" opacity="0.22"/><circle cx="15.7" cy="8.9" r="0.56" fill="#3b3056" opacity="0.35"/><circle cx="20.0" cy="23.4" r="0.37" fill="#3b3056" opacity="0.17"/><circle cx="14.7" cy="14.6" r="0.56" fill="#3b3056" opacity="0.18"/><circle cx="1.0" cy="42.0" r="0.48" fill="#3b3056" opacity="0.18"/><circle cx="23.4" cy="5.1" r="0.48" fill="#3b3056" opacity="0.35"/><circle cx="37.1" cy="31.8" r="0.42" fill="#3b3056" opacity="0.22"/><circle cx="7.2" cy="34.9" r="0.48" fill="#3b3056" opacity="0.31"/><circle cx="14.2" cy="12.9" r="0.55" fill="#3b3056" opacity="0.35"/><circle cx="36.7" cy="36.2" r="0.55" fill="#3b3056" opacity="0.30"/><circle cx="9.7" cy="24.7" r="0.44" fill="#3b3056" opacity="0.16"/><circle cx="1.2" cy="15.2" r="0.41" fill="#3b3056" opacity="0.29"/><circle cx="41.1" cy="21.9" r="0.58" fill="#3b3056" opacity="0.35"/><circle cx="41.1" cy="18.6" r="0.41" fill="#3b3056" opacity="0.20"/><circle cx="8.5" cy="12.2" r="0.51" fill="#3b3056" opacity="0.33"/><circle cx="36.1" cy="23.2" r="0.51" fill="#3b3056" opacity="0.31"/><circle cx="3.6" cy="30.4" r="0.58" fill="#3b3056" opacity="0.31"/><circle cx="32.3" cy="23.1" r="0.39" fill="#3b3056" opacity="0.31"/><circle cx="14.3" cy="36.0" r="0.59" fill="#3b3056" opacity="0.23"/><circle cx="17.3" cy="41.9" r="0.53" fill="#3b3056" opacity="0.18"/><circle cx="5.5" cy="10.0" r="0.58" fill="#3b3056" opacity="0.31"/><circle cx="6.3" cy="37.1" r="0.60" fill="#3b3056" opacity="0.28"/><circle cx="15.1" cy="25.9" r="0.38" fill="#3b3056" opacity="0.15"/><circle cx="41.7" cy="30.0" r="0.48" fill="#3b3056" opacity="0.34"/><circle cx="18.7" cy="38.9" r="0.56" fill="#3b3056" opacity="0.19"/><circle cx="10.8" cy="15.7" r="0.41" fill="#3b3056" opacity="0.27"/><circle cx="11.2" cy="20.8" r="0.38" fill="#3b3056" opacity="0.33"/><circle cx="15.2" cy="22.3" r="0.50" fill="#3b3056" opacity="0.33"/><circle cx="18.1" cy="40.7" r="0.48" fill="#3b3056" opacity="0.26"/><circle cx="22.5" cy="4.7" r="0.46" fill="#3b3056" opacity="0.19"/><circle cx="0.2" cy="36.0" r="0.39" fill="#3b3056" opacity="0.24"/><circle cx="31.2" cy="26.3" r="0.43" fill="#3b3056" opacity="0.25"/><circle cx="23.9" cy="35.4" r="0.38" fill="#3b3056" opacity="0.26"/><circle cx="10.7" cy="15.1" r="0.54" fill="#3b3056" opacity="0.25"/><circle cx="24.2" cy="34.4" r="0.58" fill="#3b3056" opacity="0.24"/><circle cx="26.3" cy="24.2" r="0.48" fill="#3b3056" opacity="0.29"/><circle cx="19.5" cy="25.3" r="0.47" fill="#3b3056" opacity="0.34"/><circle cx="30.1" cy="39.1" r="0.59" fill="#3b3056" opacity="0.20"/><circle cx="24.1" cy="41.7" r="0.56" fill="#3b3056" opacity="0.18"/><circle cx="5.2" cy="21.7" r="0.37" fill="#3b3056" opacity="0.20"/><circle cx="3.1" cy="30.8" r="0.55" fill="#3b3056" opacity="0.33"/><circle cx="6.6" cy="32.6" r="0.52" fill="#3b3056" opacity="0.18"/><circle cx="38.0" cy="42.7" r="0.40" fill="#3b3056" opacity="0.34"/><circle cx="17.1" cy="23.5" r="0.60" fill="#3b3056" opacity="0.32"/><circle cx="6.9" cy="21.3" r="0.48" fill="#3b3056" opacity="0.22"/><circle cx="8.4" cy="16.7" r="0.53" fill="#3b3056" opacity="0.15"/><circle cx="23.8" cy="21.6" r="0.35" fill="#3b3056" opacity="0.22"/><circle cx="26.8" cy="24.5" r="0.37" fill="#3b3056" opacity="0.35"/><circle cx="33.9" cy="42.9" r="0.38" fill="#3b3056" opacity="0.20"/><circle cx="1.7" cy="35.2" r="0.42" fill="#3b3056" opacity="0.18"/><circle cx="18.2" cy="40.5" r="0.55" fill="#3b3056" opacity="0.20"/><circle cx="6.4" cy="40.8" r="0.49" fill="#3b3056" opacity="0.29"/><circle cx="3.8" cy="6.3" r="0.52" fill="#3b3056" opacity="0.24"/><circle cx="3.1" cy="41.5" r="0.51" fill="#3b3056" opacity="0.31"/><circle cx="3.6" cy="38.2" r="0.37" fill="#3b3056" opacity="0.32"/><circle cx="19.5" cy="17.6" r="0.49" fill="#3b3056" opacity="0.34"/><circle cx="11.5" cy="9.2" r="0.46" fill="#d8d4de" opacity="0.20"/><circle cx="4.7" cy="10.5" r="0.32" fill="#d8d4de" opacity="0.19"/><circle cx="13.4" cy="16.2" r="0.53" fill="#d8d4de" opacity="0.21"/><circle cx="21.5" cy="11.1" r="0.40" fill="#d8d4de" opacity="0.15"/><circle cx="10.8" cy="4.6" r="0.52" fill="#d8d4de" opacity="0.26"/><circle cx="8.1" cy="23.0" r="0.58" fill="#d8d4de" opacity="0.17"/><circle cx="35.2" cy="21.3" r="0.45" fill="#d8d4de" opacity="0.32"/><circle cx="16.9" cy="24.3" r="0.51" fill="#d8d4de" opacity="0.35"/><circle cx="14.7" cy="37.3" r="0.51" fill="#d8d4de" opacity="0.28"/><circle cx="17.4" cy="17.9" r="0.32" fill="#d8d4de" opacity="0.18"/><circle cx="3.0" cy="33.6" r="0.38" fill="#d8d4de" opacity="0.18"/><circle cx="3.6" cy="37.7" r="0.56" fill="#d8d4de" opacity="0.28"/><circle cx="12.1" cy="13.7" r="0.39" fill="#d8d4de" opacity="0.24"/><circle cx="6.8" cy="21.8" r="0.38" fill="#d8d4de" opacity="0.34"/><circle cx="41.8" cy="25.9" r="0.37" fill="#d8d4de" opacity="0.34"/><circle cx="13.3" cy="18.3" r="0.30" fill="#d8d4de" opacity="0.23"/><circle cx="20.4" cy="24.1" r="0.36" fill="#d8d4de" opacity="0.25"/><circle cx="0.2" cy="14.6" r="0.33" fill="#d8d4de" opacity="0.23"/><circle cx="1.8" cy="4.9" r="0.39" fill="#d8d4de" opacity="0.20"/><circle cx="25.2" cy="25.2" r="0.53" fill="#d8d4de" opacity="0.28"/><circle cx="30.8" cy="39.2" r="0.42" fill="#d8d4de" opacity="0.22"/><circle cx="42.3" cy="10.0" r="0.52" fill="#d8d4de" opacity="0.28"/><circle cx="1.9" cy="37.4" r="0.57" fill="#d8d4de" opacity="0.28"/><circle cx="31.6" cy="36.5" r="0.34" fill="#d8d4de" opacity="0.25"/><circle cx="21.7" cy="37.4" r="0.54" fill="#d8d4de" opacity="0.32"/><circle cx="25.1" cy="39.7" r="0.50" fill="#d8d4de" opacity="0.29"/><circle cx="9.9" cy="5.2" r="0.34" fill="#d8d4de" opacity="0.22"/><circle cx="4.5" cy="37.4" r="0.47" fill="#d8d4de" opacity="0.28"/><circle cx="26.9" cy="31.2" r="0.45" fill="#d8d4de" opacity="0.15"/><circle cx="34.3" cy="33.9" r="0.45" fill="#d8d4de" opacity="0.26"/><circle cx="28.3" cy="6.6" r="0.52" fill="#d8d4de" opacity="0.20"/><circle cx="3.2" cy="14.6" r="0.52" fill="#d8d4de" opacity="0.19"/><circle cx="31.8" cy="43.0" r="0.45" fill="#d8d4de" opacity="0.23"/><circle cx="20.6" cy="31.3" r="0.53" fill="#d8d4de" opacity="0.27"/><circle cx="27.6" cy="7.1" r="0.34" fill="#d8d4de" opacity="0.20"/><circle cx="32.0" cy="16.2" r="0.47" fill="#d8d4de" opacity="0.15"/><circle cx="2.6" cy="14.8" r="0.50" fill="#d8d4de" opacity="0.29"/><circle cx="29.1" cy="15.6" r="0.45" fill="#d8d4de" opacity="0.24"/><circle cx="20.1" cy="8.7" r="0.57" fill="#d8d4de" opacity="0.19"/><circle cx="42.1" cy="41.5" r="0.31" fill="#d8d4de" opacity="0.24"/></g></g>
</g>
<clipPath id="c8"><rect x="0" y="0" width="43.1" height="43.9"/></clipPath>
<clipPath id="t8"><path clip-rule="evenodd" d="M-5,-5 H50 V50 H-5 Z M-3,-3 L46,-3 L46,8.9 L42.8,8.9 L36.8,7.6 L32.5,5.9 L26.5,5 L23.9,3.8 L19.6,3.3 L13.6,2 L6.7,3.3 L0,3.3 L-3,3.3 Z"/></clipPath>
<g clip-path="url(#c8)" transform="translate(502.9 156.4)">
<g filter="url(#soft)"><rect x="-3" y="-3" width="50" height="50" fill="#7b7591"/>
<path d="M-3,2 L46,2 L46,20 C30,17 10,18 -3,21 Z" fill="#5c5579" opacity="0.9"/><path d="M-3,17 C10,15 30,14 46,17 L46,24 C30,21 10,22 -3,25 Z" fill="#655e83" opacity="0.6"/>
<path d="M40,12 L46,12 L46,46 L41,46 Z" fill="#5f587d"/>
<path d="M-1,29 C2,23 14,22 22,24 C30,26 34,33 33.6,46" stroke="#a29db2" stroke-width="1.2" fill="none" opacity="1"/>
<path d="M2,41 C8,37 18,36 26,39" stroke="#9c96ad" stroke-width="1.0" fill="none" opacity="1"/><path d="M-3,-3 L46,-3 L46,8.9 L42.8,8.9 L36.8,7.6 L32.5,5.9 L26.5,5 L23.9,3.8 L19.6,3.3 L13.6,2 L6.7,3.3 L0,3.3 L-3,3.3 Z" fill="#d5d5d8"/></g>
<g clip-path="url(#t8)"><rect x="0" y="0" width="43.1" height="43.9" filter="url(#ntex)" opacity="0.2"/><g filter="url(#soft2)"><circle cx="9.7" cy="42.5" r="0.39" fill="#3b3056" opacity="0.29"/><circle cx="3.7" cy="13.1" r="0.70" fill="#3b3056" opacity="0.19"/><circle cx="27.6" cy="21.8" r="0.51" fill="#3b3056" opacity="0.25"/><circle cx="8.3" cy="37.1" r="0.38" fill="#3b3056" opacity="0.20"/><circle cx="0.9" cy="13.9" r="0.49" fill="#3b3056" opacity="0.33"/><circle cx="16.3" cy="7.7" r="0.44" fill="#3b3056" opacity="0.35"/><circle cx="2.7" cy="28.4" r="0.48" fill="#3b3056" opacity="0.28"/><circle cx="14.6" cy="31.3" r="0.52" fill="#3b3056" opacity="0.28"/><circle cx="38.8" cy="26.8" r="0.40" fill="#3b3056" opacity="0.16"/><circle cx="40.7" cy="23.0" r="0.42" fill="#3b3056" opacity="0.34"/><circle cx="24.9" cy="32.9" r="0.66" fill="#3b3056" opacity="0.21"/><circle cx="15.3" cy="39.0" r="0.40" fill="#3b3056" opacity="0.30"/><circle cx="4.2" cy="31.3" r="0.60" fill="#3b3056" opacity="0.34"/><circle cx="36.3" cy="23.6" r="0.42" fill="#3b3056" opacity="0.18"/><circle cx="22.7" cy="23.9" r="0.37" fill="#3b3056" opacity="0.33"/><circle cx="21.8" cy="31.8" r="0.43" fill="#3b3056" opacity="0.20"/><circle cx="0.5" cy="17.1" r="0.44" fill="#3b3056" opacity="0.23"/><circle cx="16.2" cy="37.2" r="0.66" fill="#3b3056" opacity="0.19"/><circle cx="17.0" cy="9.8" r="0.58" fill="#3b3056" opacity="0.34"/><circle cx="8.7" cy="34.4" r="0.46" fill="#3b3056" opacity="0.15"/><circle cx="32.9" cy="17.0" r="0.41" fill="#3b3056" opacity="0.24"/><circle cx="10.0" cy="19.8" r="0.51" fill="#3b3056" opacity="0.23"/><circle cx="25.3" cy="14.8" r="0.38" fill="#3b3056" opacity="0.17"/><circle cx="4.6" cy="24.4" r="0.48" fill="#3b3056" opacity="0.31"/><circle cx="21.7" cy="32.0" r="0.69" fill="#3b3056" opacity="0.16"/><circle cx="0.7" cy="8.8" r="0.49" fill="#3b3056" opacity="0.26"/><circle cx="32.0" cy="17.4" r="0.69" fill="#3b3056" opacity="0.15"/><circle cx="35.9" cy="11.6" r="0.66" fill="#3b3056" opacity="0.16"/><circle cx="41.5" cy="34.1" r="0.70" fill="#3b3056" opacity="0.27"/><circle cx="7.6" cy="42.8" r="0.50" fill="#3b3056" opacity="0.17"/><circle cx="26.0" cy="23.4" r="0.52" fill="#3b3056" opacity="0.18"/><circle cx="5.2" cy="26.8" r="0.51" fill="#3b3056" opacity="0.18"/><circle cx="18.9" cy="32.7" r="0.60" fill="#3b3056" opacity="0.24"/><circle cx="16.9" cy="17.8" r="0.43" fill="#3b3056" opacity="0.19"/><circle cx="19.2" cy="7.4" r="0.60" fill="#3b3056" opacity="0.29"/><circle cx="26.3" cy="3.9" r="0.48" fill="#3b3056" opacity="0.24"/><circle cx="4.0" cy="42.7" r="0.61" fill="#3b3056" opacity="0.25"/><circle cx="30.3" cy="11.2" r="0.43" fill="#3b3056" opacity="0.26"/><circle cx="32.0" cy="29.5" r="0.35" fill="#3b3056" opacity="0.27"/><circle cx="39.1" cy="33.5" r="0.67" fill="#3b3056" opacity="0.35"/><circle cx="9.6" cy="15.2" r="0.54" fill="#3b3056" opacity="0.35"/><circle cx="15.9" cy="41.6" r="0.65" fill="#3b3056" opacity="0.25"/><circle cx="26.9" cy="42.2" r="0.62" fill="#3b3056" opacity="0.21"/><circle cx="36.4" cy="11.0" r="0.48" fill="#3b3056" opacity="0.34"/><circle cx="36.4" cy="15.8" r="0.45" fill="#3b3056" opacity="0.27"/><circle cx="36.2" cy="31.1" r="0.68" fill="#3b3056" opacity="0.30"/><circle cx="35.3" cy="27.8" r="0.48" fill="#3b3056" opacity="0.24"/><circle cx="21.1" cy="24.7" r="0.64" fill="#3b3056" opacity="0.20"/><circle cx="3.0" cy="33.1" r="0.44" fill="#3b3056" opacity="0.23"/><circle cx="5.0" cy="37.0" r="0.45" fill="#3b3056" opacity="0.21"/><circle cx="34.6" cy="23.7" r="0.45" fill="#3b3056" opacity="0.33"/><circle cx="17.7" cy="17.8" r="0.69" fill="#3b3056" opacity="0.31"/><circle cx="32.1" cy="13.2" r="0.63" fill="#3b3056" opacity="0.27"/><circle cx="35.7" cy="18.1" r="0.62" fill="#3b3056" opacity="0.31"/><circle cx="16.7" cy="29.8" r="0.62" fill="#3b3056" opacity="0.35"/><circle cx="39.6" cy="35.2" r="0.40" fill="#3b3056" opacity="0.27"/><circle cx="29.5" cy="6.6" r="0.51" fill="#3b3056" opacity="0.32"/><circle cx="38.9" cy="40.9" r="0.38" fill="#3b3056" opacity="0.27"/><circle cx="37.2" cy="29.8" r="0.46" fill="#3b3056" opacity="0.16"/><circle cx="39.6" cy="38.2" r="0.58" fill="#3b3056" opacity="0.22"/><circle cx="35.6" cy="36.4" r="0.60" fill="#3b3056" opacity="0.27"/><circle cx="13.7" cy="15.2" r="0.48" fill="#3b3056" opacity="0.22"/><circle cx="22.4" cy="7.7" r="0.60" fill="#3b3056" opacity="0.22"/><circle cx="6.9" cy="13.5" r="0.49" fill="#3b3056" opacity="0.24"/><circle cx="33.6" cy="7.1" r="0.43" fill="#3b3056" opacity="0.21"/><circle cx="7.6" cy="33.7" r="0.39" fill="#3b3056" opacity="0.16"/><circle cx="23.9" cy="33.2" r="0.64" fill="#3b3056" opacity="0.26"/><circle cx="14.1" cy="39.2" r="0.61" fill="#3b3056" opacity="0.25"/><circle cx="24.2" cy="41.4" r="0.70" fill="#3b3056" opacity="0.34"/><circle cx="5.7" cy="16.4" r="0.49" fill="#3b3056" opacity="0.18"/><circle cx="32.8" cy="5.5" r="0.66" fill="#3b3056" opacity="0.27"/><circle cx="26.4" cy="20.0" r="0.68" fill="#3b3056" opacity="0.27"/><circle cx="38.6" cy="40.8" r="0.59" fill="#3b3056" opacity="0.35"/><circle cx="21.1" cy="18.0" r="0.65" fill="#3b3056" opacity="0.26"/><circle cx="13.3" cy="30.9" r="0.52" fill="#3b3056" opacity="0.18"/><circle cx="36.0" cy="23.5" r="0.69" fill="#3b3056" opacity="0.26"/><circle cx="40.3" cy="14.9" r="0.43" fill="#3b3056" opacity="0.26"/><circle cx="33.0" cy="36.8" r="0.58" fill="#3b3056" opacity="0.17"/><circle cx="16.9" cy="4.4" r="0.48" fill="#3b3056" opacity="0.34"/><circle cx="14.9" cy="31.7" r="0.57" fill="#3b3056" opacity="0.18"/><circle cx="29.6" cy="6.3" r="0.41" fill="#3b3056" opacity="0.27"/><circle cx="5.5" cy="42.5" r="0.50" fill="#3b3056" opacity="0.28"/><circle cx="41.5" cy="7.4" r="0.70" fill="#3b3056" opacity="0.16"/><circle cx="25.9" cy="29.9" r="0.70" fill="#3b3056" opacity="0.22"/><circle cx="40.7" cy="29.7" r="0.52" fill="#3b3056" opacity="0.18"/><circle cx="10.1" cy="18.0" r="0.47" fill="#3b3056" opacity="0.22"/><circle cx="34.7" cy="18.4" r="0.57" fill="#3b3056" opacity="0.16"/><circle cx="6.0" cy="32.1" r="0.66" fill="#3b3056" opacity="0.21"/><circle cx="1.4" cy="12.5" r="0.48" fill="#3b3056" opacity="0.22"/><circle cx="24.1" cy="15.4" r="0.58" fill="#3b3056" opacity="0.31"/><circle cx="33.7" cy="15.6" r="0.63" fill="#3b3056" opacity="0.38"/><circle cx="36.2" cy="7.9" r="0.74" fill="#3b3056" opacity="0.43"/><circle cx="27.1" cy="11.5" r="0.66" fill="#3b3056" opacity="0.40"/><circle cx="24.9" cy="15.5" r="0.54" fill="#3b3056" opacity="0.48"/><circle cx="19.6" cy="11.0" r="0.55" fill="#3b3056" opacity="0.46"/><circle cx="30.5" cy="6.0" r="0.46" fill="#3b3056" opacity="0.55"/><circle cx="3.8" cy="16.5" r="0.70" fill="#3b3056" opacity="0.37"/><circle cx="27.3" cy="7.3" r="0.75" fill="#3b3056" opacity="0.36"/><circle cx="5.0" cy="3.6" r="0.69" fill="#3b3056" opacity="0.36"/><circle cx="13.5" cy="19.6" r="0.69" fill="#3b3056" opacity="0.52"/><circle cx="24.8" cy="13.9" r="0.40" fill="#3b3056" opacity="0.54"/><circle cx="14.1" cy="17.5" r="0.57" fill="#3b3056" opacity="0.57"/><circle cx="0.0" cy="19.7" r="0.44" fill="#3b3056" opacity="0.45"/><circle cx="20.7" cy="19.8" r="0.69" fill="#3b3056" opacity="0.59"/><circle cx="38.9" cy="10.2" r="0.46" fill="#3b3056" opacity="0.34"/><circle cx="30.5" cy="19.2" r="0.67" fill="#3b3056" opacity="0.40"/><circle cx="25.7" cy="14.2" r="0.50" fill="#3b3056" opacity="0.51"/><circle cx="8.6" cy="3.5" r="0.43" fill="#3b3056" opacity="0.45"/><circle cx="29.9" cy="6.8" r="0.56" fill="#3b3056" opacity="0.51"/><circle cx="11.3" cy="11.9" r="0.64" fill="#3b3056" opacity="0.42"/><circle cx="9.0" cy="14.8" r="0.68" fill="#3b3056" opacity="0.36"/><circle cx="34.7" cy="14.1" r="0.75" fill="#3b3056" opacity="0.53"/><circle cx="21.3" cy="15.2" r="0.53" fill="#3b3056" opacity="0.50"/><circle cx="3.5" cy="8.9" r="0.60" fill="#3b3056" opacity="0.57"/><circle cx="29.4" cy="18.5" r="0.75" fill="#3b3056" opacity="0.59"/><circle cx="26.6" cy="13.5" r="0.59" fill="#3b3056" opacity="0.37"/><circle cx="34.3" cy="13.4" r="0.46" fill="#3b3056" opacity="0.37"/><circle cx="9.5" cy="15.3" r="0.64" fill="#3b3056" opacity="0.36"/><circle cx="29.6" cy="12.6" r="0.51" fill="#3b3056" opacity="0.43"/><circle cx="42.7" cy="5.4" r="0.49" fill="#3b3056" opacity="0.48"/><circle cx="36.1" cy="18.7" r="0.56" fill="#3b3056" opacity="0.53"/><circle cx="5.1" cy="9.6" r="0.74" fill="#3b3056" opacity="0.50"/><circle cx="19.2" cy="13.2" r="0.59" fill="#3b3056" opacity="0.46"/><circle cx="38.0" cy="19.6" r="0.48" fill="#3b3056" opacity="0.53"/><circle cx="40.6" cy="13.3" r="0.60" fill="#3b3056" opacity="0.41"/><circle cx="20.8" cy="12.9" r="0.64" fill="#3b3056" opacity="0.33"/><circle cx="42.9" cy="7.7" r="0.62" fill="#3b3056" opacity="0.36"/><circle cx="27.1" cy="4.3" r="0.53" fill="#3b3056" opacity="0.42"/><circle cx="13.5" cy="11.3" r="0.46" fill="#3b3056" opacity="0.45"/><circle cx="34.2" cy="13.7" r="0.79" fill="#3b3056" opacity="0.59"/><circle cx="20.5" cy="11.0" r="0.70" fill="#3b3056" opacity="0.56"/><circle cx="23.3" cy="14.3" r="0.68" fill="#3b3056" opacity="0.45"/><circle cx="21.9" cy="9.8" r="0.58" fill="#3b3056" opacity="0.44"/><circle cx="34.5" cy="5.7" r="0.45" fill="#3b3056" opacity="0.58"/><circle cx="21.9" cy="14.8" r="0.77" fill="#3b3056" opacity="0.52"/><circle cx="24.4" cy="19.2" r="0.65" fill="#3b3056" opacity="0.43"/><circle cx="7.9" cy="5.7" r="0.72" fill="#3b3056" opacity="0.57"/><circle cx="15.4" cy="12.0" r="0.67" fill="#3b3056" opacity="0.48"/><circle cx="11.8" cy="18.5" r="0.62" fill="#3b3056" opacity="0.51"/><circle cx="29.6" cy="10.5" r="0.68" fill="#3b3056" opacity="0.36"/><circle cx="21.9" cy="35.6" r="0.49" fill="#d8d4de" opacity="0.21"/><circle cx="7.3" cy="22.4" r="0.34" fill="#d8d4de" opacity="0.19"/><circle cx="19.4" cy="33.6" r="0.51" fill="#d8d4de" opacity="0.24"/><circle cx="30.7" cy="20.7" r="0.40" fill="#d8d4de" opacity="0.17"/><circle cx="20.7" cy="33.7" r="0.47" fill="#d8d4de" opacity="0.24"/><circle cx="14.7" cy="27.9" r="0.33" fill="#d8d4de" opacity="0.19"/><circle cx="19.5" cy="33.6" r="0.33" fill="#d8d4de" opacity="0.32"/><circle cx="1.1" cy="23.0" r="0.43" fill="#d8d4de" opacity="0.22"/><circle cx="20.8" cy="36.6" r="0.48" fill="#d8d4de" opacity="0.31"/><circle cx="18.8" cy="36.2" r="0.43" fill="#d8d4de" opacity="0.18"/><circle cx="3.0" cy="24.4" r="0.43" fill="#d8d4de" opacity="0.21"/><circle cx="22.4" cy="36.0" r="0.58" fill="#d8d4de" opacity="0.18"/><circle cx="38.3" cy="20.0" r="0.57" fill="#d8d4de" opacity="0.35"/><circle cx="14.6" cy="39.2" r="0.45" fill="#d8d4de" opacity="0.26"/><circle cx="34.3" cy="42.6" r="0.39" fill="#d8d4de" opacity="0.19"/><circle cx="36.7" cy="34.2" r="0.57" fill="#d8d4de" opacity="0.19"/><circle cx="34.0" cy="23.8" r="0.34" fill="#d8d4de" opacity="0.21"/><circle cx="37.1" cy="29.3" r="0.43" fill="#d8d4de" opacity="0.21"/><circle cx="3.0" cy="30.6" r="0.45" fill="#d8d4de" opacity="0.22"/><circle cx="29.2" cy="27.4" r="0.59" fill="#d8d4de" opacity="0.33"/><circle cx="23.2" cy="22.4" r="0.47" fill="#d8d4de" opacity="0.27"/><circle cx="26.0" cy="30.2" r="0.52" fill="#d8d4de" opacity="0.35"/><circle cx="28.1" cy="21.0" r="0.49" fill="#d8d4de" opacity="0.27"/><circle cx="21.8" cy="42.5" r="0.32" fill="#d8d4de" opacity="0.15"/><circle cx="28.9" cy="22.4" r="0.34" fill="#d8d4de" opacity="0.31"/><circle cx="14.5" cy="41.2" r="0.54" fill="#d8d4de" opacity="0.28"/><circle cx="14.4" cy="22.0" r="0.59" fill="#d8d4de" opacity="0.32"/><circle cx="36.7" cy="32.2" r="0.38" fill="#d8d4de" opacity="0.28"/><circle cx="16.8" cy="24.6" r="0.33" fill="#d8d4de" opacity="0.23"/><circle cx="5.9" cy="26.4" r="0.59" fill="#d8d4de" opacity="0.34"/><circle cx="35.4" cy="32.3" r="0.53" fill="#d8d4de" opacity="0.18"/><circle cx="24.8" cy="43.4" r="0.54" fill="#d8d4de" opacity="0.35"/><circle cx="25.1" cy="27.3" r="0.31" fill="#d8d4de" opacity="0.20"/><circle cx="33.2" cy="32.7" r="0.49" fill="#d8d4de" opacity="0.31"/><circle cx="11.8" cy="23.4" r="0.57" fill="#d8d4de" opacity="0.27"/><circle cx="1.1" cy="36.7" r="0.52" fill="#d8d4de" opacity="0.30"/><circle cx="5.2" cy="26.6" r="0.52" fill="#d8d4de" opacity="0.28"/><circle cx="13.9" cy="43.3" r="0.39" fill="#d8d4de" opacity="0.33"/><circle cx="5.4" cy="31.0" r="0.60" fill="#d8d4de" opacity="0.29"/><circle cx="30.3" cy="41.2" r="0.49" fill="#d8d4de" opacity="0.26"/><circle cx="33.0" cy="32.8" r="0.59" fill="#d8d4de" opacity="0.30"/><circle cx="0.0" cy="26.9" r="0.57" fill="#d8d4de" opacity="0.17"/><circle cx="0.6" cy="34.0" r="0.51" fill="#d8d4de" opacity="0.35"/><circle cx="38.5" cy="35.0" r="0.51" fill="#d8d4de" opacity="0.26"/><circle cx="34.0" cy="36.6" r="0.34" fill="#d8d4de" opacity="0.28"/><circle cx="2.0" cy="28.0" r="0.40" fill="#d8d4de" opacity="0.33"/><circle cx="8.8" cy="29.0" r="0.47" fill="#d8d4de" opacity="0.19"/><circle cx="18.1" cy="27.1" r="0.52" fill="#d8d4de" opacity="0.31"/><circle cx="23.3" cy="40.8" r="0.45" fill="#d8d4de" opacity="0.30"/><circle cx="3.8" cy="29.3" r="0.40" fill="#d8d4de" opacity="0.33"/></g></g>
</g>
<clipPath id="c9"><rect x="0" y="0" width="43.1" height="43.9"/></clipPath>
<clipPath id="t9"><path clip-rule="evenodd" d="M-5,-5 H50 V50 H-5 Z M-3,-3 L46,-3 L46,9.6 L42.8,9.9 L36.8,11.6 L32.5,10.7 L25.6,9.4 L19.6,9 L13.6,8.3 L6.7,6.9 L0,5.7 L-3,5.7 Z"/></clipPath>
<g clip-path="url(#c9)" transform="translate(457.8 202.3)">
<g filter="url(#soft)"><rect x="-3" y="-3" width="50" height="50" fill="#85798f"/>
<path d="M2.2,41.5 C8,40 14,39 18.4,39 C24,39 28.6,38.5 31,37 C34,35 34,31 31,28.5 C27,25 22,22.7 18.4,22.7 C12,22.7 6,24 3.2,27.8" stroke="#a599b1" stroke-width="1.3" fill="none" opacity="1"/>
<path d="M38.7,29.9 C41,33 41,37 39.7,46" stroke="#a095ad" stroke-width="1.1" fill="none" opacity="1"/>
<path d="M-3,5.7 L0,5.7 L6.7,6.9 L13.6,8.3 L19.6,9 L25.6,9.4 L32.5,10.7 L36.8,11.6 L46,10 L46,13 L36,14 L20,12 L-3,9.5 Z" fill="#5a4f77" opacity="0.8"/><path d="M-3,9 C10,11 25,13 46,14 L46,22 C30,20 10,18 -3,18 Z" fill="#94889f" opacity="0.55"/><path d="M-3,-3 L46,-3 L46,9.6 L42.8,9.9 L36.8,11.6 L32.5,10.7 L25.6,9.4 L19.6,9 L13.6,8.3 L6.7,6.9 L0,5.7 L-3,5.7 Z" fill="#d5d5d8"/><ellipse cx="40" cy="11.5" rx="4" ry="2.2" fill="#d0ccd6"/>
<circle cx="25.6" cy="18.3" r="1.3" fill="#1f1538"/></g>
<g clip-path="url(#t9)"><rect x="0" y="0" width="43.1" height="43.9" filter="url(#ntex)" opacity="0.2"/><g filter="url(#soft2)"><circle cx="19.9" cy="19.6" r="0.38" fill="#3b3056" opacity="0.32"/><circle cx="0.3" cy="24.6" r="0.57" fill="#3b3056" opacity="0.17"/><circle cx="23.8" cy="29.0" r="0.36" fill="#3b3056" opacity="0.23"/><circle cx="30.2" cy="22.6" r="0.53" fill="#3b3056" opacity="0.18"/><circle cx="10.2" cy="9.3" r="0.48" fill="#3b3056" opacity="0.33"/><circle cx="25.4" cy="35.2" r="0.45" fill="#3b3056" opacity="0.30"/><circle cx="4.4" cy="16.4" r="0.52" fill="#3b3056" opacity="0.30"/><circle cx="18.1" cy="8.4" r="0.42" fill="#3b3056" opacity="0.19"/><circle cx="12.1" cy="36.6" r="0.40" fill="#3b3056" opacity="0.33"/><circle cx="37.8" cy="7.1" r="0.44" fill="#3b3056" opacity="0.25"/><circle cx="1.0" cy="21.6" r="0.58" fill="#3b3056" opacity="0.17"/><circle cx="25.7" cy="9.7" r="0.49" fill="#3b3056" opacity="0.33"/><circle cx="8.7" cy="5.3" r="0.37" fill="#3b3056" opacity="0.26"/><circle cx="0.8" cy="8.3" r="0.47" fill="#3b3056" opacity="0.33"/><circle cx="18.1" cy="20.5" r="0.51" fill="#3b3056" opacity="0.17"/><circle cx="24.9" cy="11.7" r="0.50" fill="#3b3056" opacity="0.34"/><circle cx="2.3" cy="26.6" r="0.50" fill="#3b3056" opacity="0.18"/><circle cx="11.5" cy="43.8" r="0.60" fill="#3b3056" opacity="0.17"/><circle cx="30.3" cy="42.1" r="0.41" fill="#3b3056" opacity="0.27"/><circle cx="1.9" cy="19.3" r="0.52" fill="#3b3056" opacity="0.27"/><circle cx="33.3" cy="8.4" r="0.44" fill="#3b3056" opacity="0.32"/><circle cx="25.1" cy="22.6" r="0.45" fill="#3b3056" opacity="0.35"/><circle cx="24.7" cy="5.7" r="0.55" fill="#3b3056" opacity="0.22"/><circle cx="18.6" cy="13.3" r="0.46" fill="#3b3056" opacity="0.21"/><circle cx="3.8" cy="29.6" r="0.38" fill="#3b3056" opacity="0.31"/><circle cx="1.1" cy="35.4" r="0.55" fill="#3b3056" opacity="0.25"/><circle cx="30.5" cy="14.7" r="0.53" fill="#3b3056" opacity="0.24"/><circle cx="9.9" cy="42.6" r="0.45" fill="#3b3056" opacity="0.22"/><circle cx="37.0" cy="19.4" r="0.52" fill="#3b3056" opacity="0.18"/><circle cx="36.3" cy="15.1" r="0.36" fill="#3b3056" opacity="0.35"/><circle cx="7.4" cy="41.9" r="0.60" fill="#3b3056" opacity="0.27"/><circle cx="0.5" cy="7.4" r="0.40" fill="#3b3056" opacity="0.23"/><circle cx="26.3" cy="42.7" r="0.44" fill="#3b3056" opacity="0.18"/><circle cx="24.2" cy="10.4" r="0.37" fill="#3b3056" opacity="0.26"/><circle cx="29.9" cy="7.6" r="0.46" fill="#3b3056" opacity="0.29"/><circle cx="32.9" cy="19.9" r="0.57" fill="#3b3056" opacity="0.18"/><circle cx="30.8" cy="35.1" r="0.57" fill="#3b3056" opacity="0.25"/><circle cx="4.3" cy="6.9" r="0.48" fill="#3b3056" opacity="0.18"/><circle cx="27.1" cy="8.3" r="0.55" fill="#3b3056" opacity="0.19"/><circle cx="0.6" cy="11.9" r="0.46" fill="#3b3056" opacity="0.26"/><circle cx="16.7" cy="11.7" r="0.47" fill="#3b3056" opacity="0.34"/><circle cx="23.0" cy="41.7" r="0.36" fill="#3b3056" opacity="0.35"/><circle cx="38.2" cy="26.2" r="0.48" fill="#3b3056" opacity="0.26"/><circle cx="39.1" cy="7.6" r="0.51" fill="#3b3056" opacity="0.26"/><circle cx="12.9" cy="33.3" r="0.53" fill="#3b3056" opacity="0.17"/><circle cx="30.1" cy="22.7" r="0.47" fill="#3b3056" opacity="0.28"/><circle cx="2.3" cy="28.5" r="0.44" fill="#3b3056" opacity="0.33"/><circle cx="9.9" cy="37.1" r="0.53" fill="#3b3056" opacity="0.27"/><circle cx="37.7" cy="6.4" r="0.50" fill="#3b3056" opacity="0.27"/><circle cx="29.2" cy="20.9" r="0.37" fill="#3b3056" opacity="0.19"/><circle cx="26.1" cy="12.1" r="0.37" fill="#3b3056" opacity="0.22"/><circle cx="20.2" cy="25.9" r="0.36" fill="#3b3056" opacity="0.31"/><circle cx="14.4" cy="35.5" r="0.35" fill="#3b3056" opacity="0.34"/><circle cx="25.4" cy="43.1" r="0.60" fill="#3b3056" opacity="0.32"/><circle cx="4.6" cy="18.6" r="0.41" fill="#3b3056" opacity="0.31"/><circle cx="8.3" cy="13.6" r="0.38" fill="#3b3056" opacity="0.17"/><circle cx="40.3" cy="43.1" r="0.44" fill="#3b3056" opacity="0.30"/><circle cx="20.1" cy="25.4" r="0.44" fill="#3b3056" opacity="0.28"/><circle cx="10.2" cy="15.0" r="0.48" fill="#3b3056" opacity="0.19"/><circle cx="18.9" cy="41.8" r="0.36" fill="#3b3056" opacity="0.17"/><circle cx="34.4" cy="7.3" r="0.41" fill="#3b3056" opacity="0.32"/><circle cx="26.0" cy="13.6" r="0.36" fill="#3b3056" opacity="0.21"/><circle cx="12.9" cy="36.2" r="0.59" fill="#3b3056" opacity="0.31"/><circle cx="38.8" cy="41.3" r="0.57" fill="#3b3056" opacity="0.33"/><circle cx="41.6" cy="8.7" r="0.43" fill="#3b3056" opacity="0.20"/><circle cx="26.0" cy="24.2" r="0.44" fill="#3b3056" opacity="0.32"/><circle cx="17.2" cy="13.1" r="0.42" fill="#3b3056" opacity="0.24"/><circle cx="26.3" cy="27.2" r="0.46" fill="#3b3056" opacity="0.19"/><circle cx="17.3" cy="17.7" r="0.39" fill="#3b3056" opacity="0.26"/><circle cx="8.1" cy="32.8" r="0.51" fill="#3b3056" opacity="0.18"/><circle cx="26.9" cy="18.2" r="0.46" fill="#3b3056" opacity="0.27"/><circle cx="32.7" cy="39.5" r="0.53" fill="#3b3056" opacity="0.19"/><circle cx="23.3" cy="18.1" r="0.35" fill="#3b3056" opacity="0.26"/><circle cx="20.2" cy="38.8" r="0.43" fill="#3b3056" opacity="0.32"/><circle cx="22.1" cy="8.9" r="0.53" fill="#3b3056" opacity="0.21"/><circle cx="22.9" cy="7.8" r="0.35" fill="#3b3056" opacity="0.33"/><circle cx="1.8" cy="10.8" r="0.39" fill="#3b3056" opacity="0.17"/><circle cx="35.4" cy="43.8" r="0.51" fill="#3b3056" opacity="0.23"/><circle cx="38.2" cy="24.7" r="0.38" fill="#3b3056" opacity="0.29"/><circle cx="15.4" cy="15.5" r="0.43" fill="#3b3056" opacity="0.23"/><circle cx="7.8" cy="28.9" r="0.57" fill="#3b3056" opacity="0.26"/><circle cx="0.4" cy="31.7" r="0.36" fill="#3b3056" opacity="0.25"/><circle cx="37.2" cy="31.4" r="0.58" fill="#3b3056" opacity="0.30"/><circle cx="11.7" cy="10.6" r="0.46" fill="#3b3056" opacity="0.29"/><circle cx="10.0" cy="17.9" r="0.54" fill="#3b3056" opacity="0.22"/><circle cx="25.8" cy="26.3" r="0.58" fill="#3b3056" opacity="0.16"/><circle cx="8.0" cy="35.4" r="0.52" fill="#3b3056" opacity="0.17"/><circle cx="5.8" cy="13.2" r="0.49" fill="#3b3056" opacity="0.33"/><circle cx="9.3" cy="12.9" r="0.52" fill="#3b3056" opacity="0.23"/><circle cx="36.4" cy="44.0" r="0.58" fill="#3b3056" opacity="0.29"/><circle cx="21.3" cy="7.4" r="0.54" fill="#d8d4de" opacity="0.23"/><circle cx="19.9" cy="29.7" r="0.59" fill="#d8d4de" opacity="0.26"/><circle cx="39.5" cy="42.6" r="0.33" fill="#d8d4de" opacity="0.22"/><circle cx="38.2" cy="34.9" r="0.59" fill="#d8d4de" opacity="0.19"/><circle cx="22.8" cy="41.4" r="0.46" fill="#d8d4de" opacity="0.28"/><circle cx="41.9" cy="11.8" r="0.32" fill="#d8d4de" opacity="0.32"/><circle cx="25.0" cy="12.8" r="0.55" fill="#d8d4de" opacity="0.21"/><circle cx="5.6" cy="16.6" r="0.31" fill="#d8d4de" opacity="0.23"/><circle cx="33.5" cy="22.7" r="0.59" fill="#d8d4de" opacity="0.16"/><circle cx="7.4" cy="10.6" r="0.47" fill="#d8d4de" opacity="0.19"/><circle cx="28.7" cy="25.4" r="0.47" fill="#d8d4de" opacity="0.32"/><circle cx="34.0" cy="41.0" r="0.35" fill="#d8d4de" opacity="0.23"/><circle cx="41.3" cy="20.5" r="0.39" fill="#d8d4de" opacity="0.25"/><circle cx="7.8" cy="38.1" r="0.49" fill="#d8d4de" opacity="0.17"/><circle cx="41.5" cy="25.3" r="0.38" fill="#d8d4de" opacity="0.27"/><circle cx="40.8" cy="18.5" r="0.30" fill="#d8d4de" opacity="0.19"/><circle cx="2.5" cy="25.6" r="0.39" fill="#d8d4de" opacity="0.32"/><circle cx="8.9" cy="5.6" r="0.44" fill="#d8d4de" opacity="0.17"/><circle cx="13.3" cy="13.8" r="0.35" fill="#d8d4de" opacity="0.28"/><circle cx="40.3" cy="19.4" r="0.49" fill="#d8d4de" opacity="0.21"/><circle cx="39.3" cy="26.6" r="0.31" fill="#d8d4de" opacity="0.30"/><circle cx="9.0" cy="6.8" r="0.31" fill="#d8d4de" opacity="0.32"/><circle cx="30.5" cy="19.0" r="0.47" fill="#d8d4de" opacity="0.29"/><circle cx="3.2" cy="32.5" r="0.51" fill="#d8d4de" opacity="0.34"/><circle cx="2.5" cy="27.3" r="0.45" fill="#d8d4de" opacity="0.32"/><circle cx="15.7" cy="30.8" r="0.57" fill="#d8d4de" opacity="0.22"/><circle cx="22.2" cy="39.8" r="0.31" fill="#d8d4de" opacity="0.34"/><circle cx="13.5" cy="22.8" r="0.39" fill="#d8d4de" opacity="0.31"/><circle cx="22.9" cy="34.2" r="0.33" fill="#d8d4de" opacity="0.33"/><circle cx="35.3" cy="31.5" r="0.37" fill="#d8d4de" opacity="0.20"/><circle cx="19.4" cy="7.5" r="0.59" fill="#d8d4de" opacity="0.23"/><circle cx="41.0" cy="12.1" r="0.49" fill="#d8d4de" opacity="0.31"/><circle cx="27.7" cy="21.5" r="0.31" fill="#d8d4de" opacity="0.24"/><circle cx="16.8" cy="41.9" r="0.59" fill="#d8d4de" opacity="0.34"/><circle cx="42.1" cy="11.6" r="0.31" fill="#d8d4de" opacity="0.21"/><circle cx="0.3" cy="9.6" r="0.47" fill="#d8d4de" opacity="0.19"/><circle cx="26.3" cy="19.8" r="0.38" fill="#d8d4de" opacity="0.34"/><circle cx="8.0" cy="39.4" r="0.46" fill="#d8d4de" opacity="0.28"/><circle cx="6.2" cy="34.1" r="0.57" fill="#d8d4de" opacity="0.19"/><circle cx="20.3" cy="30.5" r="0.44" fill="#d8d4de" opacity="0.30"/></g></g>
</g>
<clipPath id="c10"><rect x="0" y="0" width="43.1" height="43.9"/></clipPath>
<clipPath id="t10"><path clip-rule="evenodd" d="M-5,-5 H50 V50 H-5 Z M-3,-3 L46,-3 L46,5.6 L42.8,5.6 L38.5,4.7 L35.9,5.6 L34.2,8.2 L28.2,6.4 L22.2,5.6 L15.3,4.3 L6.7,3 L0,2 L-3,2 Z"/></clipPath>
<g clip-path="url(#c10)" transform="translate(502.9 202.3)">
<g filter="url(#soft)"><rect x="-3" y="-3" width="50" height="50" fill="#9d97aa"/>
<path d="M-3,2 L46,2 L46,14 C30,11 12,9 -3,8 Z" fill="#5f5880" opacity="0.85"/><path d="M-3,7 C12,8 30,10 46,13 L46,20 C30,17 12,15 -3,14 Z" fill="#6f6890" opacity="0.55"/>
<path d="M41,8 L46,8 L46,46 L40,46 Z" fill="#686186"/>
<path d="M-3,38 C6,40 14,44 18,46 L-3,46 Z" fill="#7b7592"/>
<path d="M0,33 C6,28 14,26.5 19,26.8 C26,27 32,30 37,35" stroke="#aea8bb" stroke-width="1.2" fill="none" opacity="1"/>
<path d="M2,39 C8,36 16,35.5 24,35" stroke="#aaa4b8" stroke-width="1.0" fill="none" opacity="1"/><path d="M-3,-3 L46,-3 L46,5.6 L42.8,5.6 L38.5,4.7 L35.9,5.6 L34.2,8.2 L28.2,6.4 L22.2,5.6 L15.3,4.3 L6.7,3 L0,2 L-3,2 Z" fill="#d5d5d8"/></g>
<g clip-path="url(#t10)"><rect x="0" y="0" width="43.1" height="43.9" filter="url(#ntex)" opacity="0.2"/><g filter="url(#soft2)"><circle cx="24.6" cy="20.0" r="0.55" fill="#3b3056" opacity="0.19"/><circle cx="35.0" cy="36.6" r="0.58" fill="#3b3056" opacity="0.18"/><circle cx="22.4" cy="15.8" r="0.44" fill="#3b3056" opacity="0.34"/><circle cx="42.9" cy="3.9" r="0.65" fill="#3b3056" opacity="0.27"/><circle cx="16.4" cy="13.9" r="0.59" fill="#3b3056" opacity="0.24"/><circle cx="29.5" cy="29.8" r="0.40" fill="#3b3056" opacity="0.30"/><circle cx="42.2" cy="42.7" r="0.56" fill="#3b3056" opacity="0.16"/><circle cx="0.2" cy="7.6" r="0.68" fill="#3b3056" opacity="0.21"/><circle cx="15.7" cy="39.7" r="0.46" fill="#3b3056" opacity="0.26"/><circle cx="18.7" cy="4.7" r="0.55" fill="#3b3056" opacity="0.32"/><circle cx="6.7" cy="11.4" r="0.49" fill="#3b3056" opacity="0.16"/><circle cx="21.4" cy="36.4" r="0.58" fill="#3b3056" opacity="0.26"/><circle cx="36.8" cy="8.3" r="0.55" fill="#3b3056" opacity="0.22"/><circle cx="25.9" cy="6.7" r="0.62" fill="#3b3056" opacity="0.17"/><circle cx="7.2" cy="35.9" r="0.68" fill="#3b3056" opacity="0.24"/><circle cx="17.8" cy="12.3" r="0.45" fill="#3b3056" opacity="0.27"/><circle cx="7.7" cy="7.0" r="0.51" fill="#3b3056" opacity="0.18"/><circle cx="27.9" cy="36.5" r="0.62" fill="#3b3056" opacity="0.25"/><circle cx="14.9" cy="20.3" r="0.35" fill="#3b3056" opacity="0.29"/><circle cx="14.3" cy="15.4" r="0.38" fill="#3b3056" opacity="0.24"/><circle cx="25.1" cy="18.4" r="0.65" fill="#3b3056" opacity="0.28"/><circle cx="10.4" cy="24.1" r="0.67" fill="#3b3056" opacity="0.25"/><circle cx="25.9" cy="4.6" r="0.52" fill="#3b3056" opacity="0.24"/><circle cx="17.2" cy="19.7" r="0.55" fill="#3b3056" opacity="0.26"/><circle cx="21.1" cy="9.0" r="0.50" fill="#3b3056" opacity="0.34"/><circle cx="17.9" cy="3.5" r="0.35" fill="#3b3056" opacity="0.26"/><circle cx="2.2" cy="5.9" r="0.39" fill="#3b3056" opacity="0.24"/><circle cx="42.7" cy="22.4" r="0.51" fill="#3b3056" opacity="0.24"/><circle cx="21.5" cy="20.8" r="0.60" fill="#3b3056" opacity="0.33"/><circle cx="30.0" cy="19.8" r="0.58" fill="#3b3056" opacity="0.33"/><circle cx="6.6" cy="12.0" r="0.57" fill="#3b3056" opacity="0.29"/><circle cx="27.6" cy="26.7" r="0.64" fill="#3b3056" opacity="0.25"/><circle cx="34.7" cy="42.4" r="0.50" fill="#3b3056" opacity="0.32"/><circle cx="30.9" cy="39.3" r="0.37" fill="#3b3056" opacity="0.33"/><circle cx="33.0" cy="42.4" r="0.69" fill="#3b3056" opacity="0.21"/><circle cx="28.8" cy="7.9" r="0.56" fill="#3b3056" opacity="0.33"/><circle cx="8.3" cy="16.7" r="0.38" fill="#3b3056" opacity="0.19"/><circle cx="8.9" cy="6.0" r="0.70" fill="#3b3056" opacity="0.33"/><circle cx="19.9" cy="33.2" r="0.59" fill="#3b3056" opacity="0.25"/><circle cx="18.2" cy="29.9" r="0.54" fill="#3b3056" opacity="0.20"/><circle cx="15.7" cy="28.3" r="0.57" fill="#3b3056" opacity="0.19"/><circle cx="26.2" cy="38.7" r="0.65" fill="#3b3056" opacity="0.28"/><circle cx="3.0" cy="19.8" r="0.38" fill="#3b3056" opacity="0.16"/><circle cx="11.0" cy="21.2" r="0.62" fill="#3b3056" opacity="0.28"/><circle cx="12.1" cy="31.2" r="0.53" fill="#3b3056" opacity="0.25"/><circle cx="11.3" cy="20.5" r="0.47" fill="#3b3056" opacity="0.30"/><circle cx="20.8" cy="20.8" r="0.52" fill="#3b3056" opacity="0.25"/><circle cx="29.7" cy="32.2" r="0.63" fill="#3b3056" opacity="0.23"/><circle cx="34.1" cy="42.5" r="0.70" fill="#3b3056" opacity="0.29"/><circle cx="2.8" cy="37.6" r="0.64" fill="#3b3056" opacity="0.15"/><circle cx="14.1" cy="15.5" r="0.61" fill="#3b3056" opacity="0.27"/><circle cx="12.1" cy="9.8" r="0.41" fill="#3b3056" opacity="0.17"/><circle cx="34.0" cy="41.3" r="0.43" fill="#3b3056" opacity="0.30"/><circle cx="40.9" cy="10.1" r="0.55" fill="#3b3056" opacity="0.24"/><circle cx="41.9" cy="38.5" r="0.36" fill="#3b3056" opacity="0.19"/><circle cx="36.5" cy="26.1" r="0.53" fill="#3b3056" opacity="0.31"/><circle cx="32.9" cy="42.1" r="0.46" fill="#3b3056" opacity="0.16"/><circle cx="29.8" cy="4.1" r="0.55" fill="#3b3056" opacity="0.32"/><circle cx="17.1" cy="27.2" r="0.41" fill="#3b3056" opacity="0.18"/><circle cx="26.1" cy="38.3" r="0.70" fill="#3b3056" opacity="0.16"/><circle cx="39.6" cy="23.5" r="0.47" fill="#3b3056" opacity="0.23"/><circle cx="24.8" cy="16.6" r="0.40" fill="#3b3056" opacity="0.32"/><circle cx="30.4" cy="27.6" r="0.60" fill="#3b3056" opacity="0.35"/><circle cx="7.5" cy="36.6" r="0.64" fill="#3b3056" opacity="0.22"/><circle cx="24.0" cy="21.3" r="0.42" fill="#3b3056" opacity="0.24"/><circle cx="6.6" cy="41.2" r="0.42" fill="#3b3056" opacity="0.28"/><circle cx="24.5" cy="42.9" r="0.63" fill="#3b3056" opacity="0.22"/><circle cx="16.2" cy="4.1" r="0.37" fill="#3b3056" opacity="0.21"/><circle cx="40.8" cy="4.1" r="0.41" fill="#3b3056" opacity="0.28"/><circle cx="15.5" cy="9.8" r="0.68" fill="#3b3056" opacity="0.16"/><circle cx="25.7" cy="20.0" r="0.47" fill="#3b3056" opacity="0.19"/><circle cx="7.0" cy="19.0" r="0.61" fill="#3b3056" opacity="0.24"/><circle cx="33.4" cy="38.9" r="0.41" fill="#3b3056" opacity="0.33"/><circle cx="25.0" cy="19.7" r="0.53" fill="#3b3056" opacity="0.33"/><circle cx="16.9" cy="6.0" r="0.69" fill="#3b3056" opacity="0.17"/><circle cx="4.6" cy="32.3" r="0.46" fill="#3b3056" opacity="0.21"/><circle cx="27.9" cy="39.4" r="0.47" fill="#3b3056" opacity="0.33"/><circle cx="26.6" cy="27.5" r="0.54" fill="#3b3056" opacity="0.15"/><circle cx="6.8" cy="30.4" r="0.59" fill="#3b3056" opacity="0.17"/><circle cx="27.4" cy="21.9" r="0.55" fill="#3b3056" opacity="0.23"/><circle cx="9.4" cy="16.9" r="0.69" fill="#3b3056" opacity="0.19"/><circle cx="37.1" cy="24.3" r="0.38" fill="#3b3056" opacity="0.31"/><circle cx="0.7" cy="37.2" r="0.47" fill="#3b3056" opacity="0.33"/><circle cx="31.3" cy="17.1" r="0.57" fill="#3b3056" opacity="0.35"/><circle cx="7.4" cy="10.6" r="0.45" fill="#3b3056" opacity="0.31"/><circle cx="10.6" cy="12.3" r="0.57" fill="#3b3056" opacity="0.27"/><circle cx="18.0" cy="25.1" r="0.36" fill="#3b3056" opacity="0.15"/><circle cx="1.2" cy="4.3" r="0.62" fill="#3b3056" opacity="0.35"/><circle cx="5.4" cy="18.2" r="0.36" fill="#3b3056" opacity="0.24"/><circle cx="28.5" cy="28.2" r="0.67" fill="#3b3056" opacity="0.26"/><circle cx="2.3" cy="6.5" r="0.58" fill="#3b3056" opacity="0.40"/><circle cx="1.5" cy="9.5" r="0.60" fill="#3b3056" opacity="0.51"/><circle cx="15.7" cy="2.8" r="0.51" fill="#3b3056" opacity="0.35"/><circle cx="19.8" cy="3.8" r="0.43" fill="#3b3056" opacity="0.46"/><circle cx="6.1" cy="3.3" r="0.45" fill="#3b3056" opacity="0.51"/><circle cx="34.7" cy="11.7" r="0.63" fill="#3b3056" opacity="0.49"/><circle cx="32.4" cy="7.1" r="0.60" fill="#3b3056" opacity="0.51"/><circle cx="27.3" cy="9.3" r="0.66" fill="#3b3056" opacity="0.46"/><circle cx="9.2" cy="5.7" r="0.68" fill="#3b3056" opacity="0.43"/><circle cx="36.9" cy="6.5" r="0.67" fill="#3b3056" opacity="0.33"/><circle cx="12.9" cy="12.2" r="0.47" fill="#3b3056" opacity="0.49"/><circle cx="1.2" cy="9.3" r="0.58" fill="#3b3056" opacity="0.57"/><circle cx="35.5" cy="11.3" r="0.54" fill="#3b3056" opacity="0.50"/><circle cx="6.7" cy="7.9" r="0.56" fill="#3b3056" opacity="0.44"/><circle cx="11.8" cy="4.5" r="0.61" fill="#3b3056" opacity="0.50"/><circle cx="24.2" cy="13.4" r="0.62" fill="#3b3056" opacity="0.34"/><circle cx="27.6" cy="5.8" r="0.78" fill="#3b3056" opacity="0.34"/><circle cx="19.7" cy="10.1" r="0.79" fill="#3b3056" opacity="0.46"/><circle cx="16.3" cy="11.3" r="0.71" fill="#3b3056" opacity="0.57"/><circle cx="31.0" cy="3.5" r="0.80" fill="#3b3056" opacity="0.58"/><circle cx="18.7" cy="9.9" r="0.73" fill="#3b3056" opacity="0.58"/><circle cx="31.1" cy="3.1" r="0.43" fill="#3b3056" opacity="0.41"/><circle cx="19.6" cy="5.7" r="0.70" fill="#3b3056" opacity="0.53"/><circle cx="17.2" cy="10.4" r="0.48" fill="#3b3056" opacity="0.59"/><circle cx="10.4" cy="3.9" r="0.55" fill="#3b3056" opacity="0.56"/><circle cx="25.7" cy="10.2" r="0.73" fill="#3b3056" opacity="0.42"/><circle cx="41.3" cy="13.8" r="0.61" fill="#3b3056" opacity="0.52"/><circle cx="36.7" cy="9.1" r="0.45" fill="#3b3056" opacity="0.50"/><circle cx="19.6" cy="12.3" r="0.48" fill="#3b3056" opacity="0.30"/><circle cx="7.7" cy="4.0" r="0.55" fill="#3b3056" opacity="0.36"/><circle cx="14.4" cy="9.1" r="0.46" fill="#3b3056" opacity="0.45"/><circle cx="15.3" cy="2.1" r="0.67" fill="#3b3056" opacity="0.45"/><circle cx="33.4" cy="12.5" r="0.42" fill="#3b3056" opacity="0.51"/><circle cx="19.7" cy="12.5" r="0.45" fill="#3b3056" opacity="0.55"/><circle cx="18.5" cy="3.1" r="0.58" fill="#3b3056" opacity="0.56"/><circle cx="3.2" cy="6.5" r="0.43" fill="#3b3056" opacity="0.30"/><circle cx="35.5" cy="8.6" r="0.63" fill="#3b3056" opacity="0.57"/><circle cx="3.7" cy="13.3" r="0.70" fill="#3b3056" opacity="0.56"/><circle cx="35.1" cy="6.7" r="0.41" fill="#3b3056" opacity="0.60"/><circle cx="27.2" cy="10.5" r="0.68" fill="#3b3056" opacity="0.39"/><circle cx="28.2" cy="7.4" r="0.49" fill="#3b3056" opacity="0.45"/><circle cx="20.1" cy="5.6" r="0.70" fill="#3b3056" opacity="0.57"/><circle cx="25.7" cy="2.3" r="0.62" fill="#3b3056" opacity="0.49"/><circle cx="35.1" cy="5.6" r="0.49" fill="#3b3056" opacity="0.41"/><circle cx="6.9" cy="11.4" r="0.41" fill="#3b3056" opacity="0.47"/><circle cx="35.8" cy="2.4" r="0.47" fill="#3b3056" opacity="0.60"/><circle cx="13.2" cy="11.2" r="0.41" fill="#3b3056" opacity="0.44"/><circle cx="1.8" cy="4.9" r="0.41" fill="#3b3056" opacity="0.50"/><circle cx="19.5" cy="6.2" r="0.57" fill="#3b3056" opacity="0.50"/><circle cx="11.1" cy="3.9" r="0.42" fill="#3b3056" opacity="0.50"/><circle cx="26.6" cy="21.2" r="0.45" fill="#d8d4de" opacity="0.34"/><circle cx="18.9" cy="37.0" r="0.41" fill="#d8d4de" opacity="0.26"/><circle cx="31.1" cy="34.9" r="0.48" fill="#d8d4de" opacity="0.21"/><circle cx="2.3" cy="28.5" r="0.52" fill="#d8d4de" opacity="0.22"/><circle cx="29.1" cy="28.1" r="0.32" fill="#d8d4de" opacity="0.27"/><circle cx="22.0" cy="23.7" r="0.36" fill="#d8d4de" opacity="0.35"/><circle cx="23.4" cy="35.7" r="0.31" fill="#d8d4de" opacity="0.30"/><circle cx="6.5" cy="28.5" r="0.42" fill="#d8d4de" opacity="0.23"/><circle cx="31.6" cy="20.1" r="0.58" fill="#d8d4de" opacity="0.32"/><circle cx="19.7" cy="40.3" r="0.46" fill="#d8d4de" opacity="0.33"/><circle cx="19.5" cy="43.3" r="0.52" fill="#d8d4de" opacity="0.28"/><circle cx="39.8" cy="34.9" r="0.37" fill="#d8d4de" opacity="0.28"/><circle cx="6.8" cy="26.1" r="0.51" fill="#d8d4de" opacity="0.19"/><circle cx="16.9" cy="20.9" r="0.42" fill="#d8d4de" opacity="0.20"/><circle cx="28.1" cy="39.0" r="0.44" fill="#d8d4de" opacity="0.29"/><circle cx="30.2" cy="38.2" r="0.54" fill="#d8d4de" opacity="0.28"/><circle cx="29.5" cy="35.9" r="0.46" fill="#d8d4de" opacity="0.31"/><circle cx="7.6" cy="35.6" r="0.49" fill="#d8d4de" opacity="0.26"/><circle cx="24.2" cy="41.5" r="0.54" fill="#d8d4de" opacity="0.29"/><circle cx="36.0" cy="40.1" r="0.40" fill="#d8d4de" opacity="0.32"/><circle cx="35.4" cy="31.5" r="0.58" fill="#d8d4de" opacity="0.19"/><circle cx="32.1" cy="21.3" r="0.42" fill="#d8d4de" opacity="0.25"/><circle cx="16.9" cy="29.5" r="0.33" fill="#d8d4de" opacity="0.16"/><circle cx="29.0" cy="22.1" r="0.38" fill="#d8d4de" opacity="0.29"/><circle cx="30.3" cy="30.0" r="0.55" fill="#d8d4de" opacity="0.22"/><circle cx="35.6" cy="33.1" r="0.55" fill="#d8d4de" opacity="0.31"/><circle cx="28.0" cy="41.7" r="0.53" fill="#d8d4de" opacity="0.24"/><circle cx="4.7" cy="26.1" r="0.48" fill="#d8d4de" opacity="0.15"/><circle cx="23.9" cy="26.2" r="0.44" fill="#d8d4de" opacity="0.16"/><circle cx="3.1" cy="33.5" r="0.38" fill="#d8d4de" opacity="0.18"/><circle cx="34.7" cy="15.7" r="0.51" fill="#d8d4de" opacity="0.31"/><circle cx="35.9" cy="33.8" r="0.32" fill="#d8d4de" opacity="0.24"/><circle cx="35.0" cy="26.3" r="0.46" fill="#d8d4de" opacity="0.30"/><circle cx="23.1" cy="24.8" r="0.48" fill="#d8d4de" opacity="0.24"/><circle cx="13.3" cy="16.1" r="0.38" fill="#d8d4de" opacity="0.35"/><circle cx="11.7" cy="24.5" r="0.59" fill="#d8d4de" opacity="0.17"/><circle cx="10.1" cy="25.3" r="0.44" fill="#d8d4de" opacity="0.23"/><circle cx="11.0" cy="18.5" r="0.47" fill="#d8d4de" opacity="0.18"/><circle cx="0.1" cy="36.8" r="0.53" fill="#d8d4de" opacity="0.22"/><circle cx="35.3" cy="18.8" r="0.57" fill="#d8d4de" opacity="0.29"/><circle cx="26.8" cy="15.5" r="0.53" fill="#d8d4de" opacity="0.18"/><circle cx="21.4" cy="30.5" r="0.32" fill="#d8d4de" opacity="0.21"/><circle cx="36.8" cy="36.8" r="0.39" fill="#d8d4de" opacity="0.35"/><circle cx="2.9" cy="33.6" r="0.54" fill="#d8d4de" opacity="0.32"/><circle cx="25.9" cy="36.2" r="0.37" fill="#d8d4de" opacity="0.31"/><circle cx="27.2" cy="31.2" r="0.38" fill="#d8d4de" opacity="0.28"/><circle cx="2.0" cy="29.1" r="0.50" fill="#d8d4de" opacity="0.22"/><circle cx="24.0" cy="15.7" r="0.40" fill="#d8d4de" opacity="0.25"/><circle cx="33.1" cy="30.1" r="0.58" fill="#d8d4de" opacity="0.22"/><circle cx="35.7" cy="31.5" r="0.44" fill="#d8d4de" opacity="0.19"/><circle cx="33.1" cy="37.9" r="0.42" fill="#d8d4de" opacity="0.21"/><circle cx="11.0" cy="24.2" r="0.33" fill="#d8d4de" opacity="0.32"/><circle cx="17.4" cy="19.3" r="0.50" fill="#d8d4de" opacity="0.19"/><circle cx="35.2" cy="14.1" r="0.47" fill="#d8d4de" opacity="0.28"/><circle cx="13.7" cy="19.8" r="0.57" fill="#d8d4de" opacity="0.27"/><circle cx="27.8" cy="19.0" r="0.30" fill="#d8d4de" opacity="0.33"/><circle cx="7.5" cy="15.6" r="0.53" fill="#d8d4de" opacity="0.26"/><circle cx="0.7" cy="30.7" r="0.45" fill="#d8d4de" opacity="0.33"/><circle cx="23.6" cy="18.5" r="0.49" fill="#d8d4de" opacity="0.31"/><circle cx="38.7" cy="23.3" r="0.47" fill="#d8d4de" opacity="0.16"/></g></g>
</g>
</svg>
</body></html>
